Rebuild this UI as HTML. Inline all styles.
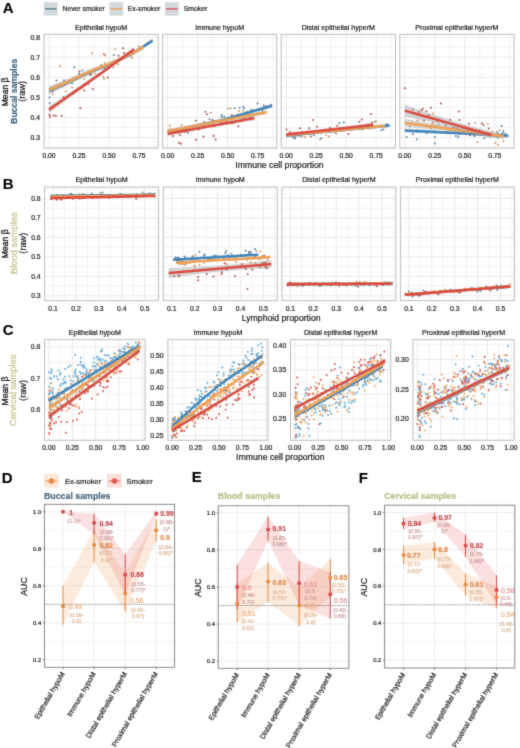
<!DOCTYPE html>
<html><head><meta charset="utf-8"><title>Smoking methylation figure</title>
<style>html,body{margin:0;padding:0;background:#fff;}svg{display:block;}</style>
</head><body>
<svg width="520" height="748" viewBox="0 0 520 748" font-family="'Liberation Sans', Arial, Helvetica, sans-serif">
<defs><filter id="soft" filterUnits="userSpaceOnUse" x="-4" y="-4" width="528" height="756" color-interpolation-filters="sRGB"><feConvolveMatrix order="3" kernelMatrix="0.0192 0.1001 0.0192 0.1001 0.5228 0.1001 0.0192 0.1001 0.0192" edgeMode="duplicate" preserveAlpha="true"/></filter></defs>
<rect width="520" height="748" fill="#ffffff"/>
<g filter="url(#soft)">
<rect x="-4" y="-4" width="528" height="756" fill="#ffffff"/>
<text x="2.8" y="13.1" font-size="15" text-anchor="start" font-weight="bold" fill="#000" stroke="#000" stroke-width="0.12">A</text>
<text x="2.8" y="188.6" font-size="15" text-anchor="start" font-weight="bold" fill="#000" stroke="#000" stroke-width="0.12">B</text>
<text x="2.8" y="334.6" font-size="15" text-anchor="start" font-weight="bold" fill="#000" stroke="#000" stroke-width="0.12">C</text>
<text x="1.8" y="482.9" font-size="15" text-anchor="start" font-weight="bold" fill="#000" stroke="#000" stroke-width="0.12">D</text>
<text x="191.8" y="482" font-size="15" text-anchor="start" font-weight="bold" fill="#000" stroke="#000" stroke-width="0.12">E</text>
<text x="358.8" y="482.7" font-size="15" text-anchor="start" font-weight="bold" fill="#000" stroke="#000" stroke-width="0.12">F</text>
<rect x="43.8" y="2.1" width="13.8" height="13.6" fill="#d3dadd" stroke="none" stroke-width="1"/>
<line x1="45" y1="8.9" x2="56.4" y2="8.9" stroke="#56788a" stroke-width="1.4"/>
<text x="62.5" y="11.3" font-size="6.8" text-anchor="start" font-weight="normal" fill="#222" stroke="#222" stroke-width="0.2">Never smoker</text>
<rect x="109.4" y="2.1" width="13.8" height="13.6" fill="#d3dadd" stroke="none" stroke-width="1"/>
<line x1="110.6" y1="8.9" x2="122" y2="8.9" stroke="#ea9a55" stroke-width="1.4"/>
<text x="127.8" y="11.3" font-size="6.8" text-anchor="start" font-weight="normal" fill="#222" stroke="#222" stroke-width="0.2">Ex-smoker</text>
<rect x="165" y="2.1" width="13.8" height="13.6" fill="#d3dadd" stroke="none" stroke-width="1"/>
<line x1="166.2" y1="8.9" x2="177.6" y2="8.9" stroke="#e0505a" stroke-width="1.4"/>
<text x="183.8" y="11.3" font-size="6.8" text-anchor="start" font-weight="normal" fill="#222" stroke="#222" stroke-width="0.2">Smoker</text>
<line x1="64" y1="34.3" x2="64" y2="148.1" stroke="#f1f1f1" stroke-width="0.9"/>
<line x1="94" y1="34.3" x2="94" y2="148.1" stroke="#f1f1f1" stroke-width="0.9"/>
<line x1="124" y1="34.3" x2="124" y2="148.1" stroke="#f1f1f1" stroke-width="0.9"/>
<line x1="154" y1="34.3" x2="154" y2="148.1" stroke="#f1f1f1" stroke-width="0.9"/>
<line x1="44" y1="147.53" x2="158.2" y2="147.53" stroke="#f1f1f1" stroke-width="0.9"/>
<line x1="44" y1="127.47" x2="158.2" y2="127.47" stroke="#f1f1f1" stroke-width="0.9"/>
<line x1="44" y1="107.41" x2="158.2" y2="107.41" stroke="#f1f1f1" stroke-width="0.9"/>
<line x1="44" y1="87.35" x2="158.2" y2="87.35" stroke="#f1f1f1" stroke-width="0.9"/>
<line x1="44" y1="67.29" x2="158.2" y2="67.29" stroke="#f1f1f1" stroke-width="0.9"/>
<line x1="44" y1="47.23" x2="158.2" y2="47.23" stroke="#f1f1f1" stroke-width="0.9"/>
<line x1="49" y1="34.3" x2="49" y2="148.1" stroke="#e8e8e8" stroke-width="0.9"/>
<line x1="79" y1="34.3" x2="79" y2="148.1" stroke="#e8e8e8" stroke-width="0.9"/>
<line x1="109" y1="34.3" x2="109" y2="148.1" stroke="#e8e8e8" stroke-width="0.9"/>
<line x1="139" y1="34.3" x2="139" y2="148.1" stroke="#e8e8e8" stroke-width="0.9"/>
<line x1="44" y1="137.5" x2="158.2" y2="137.5" stroke="#e8e8e8" stroke-width="0.9"/>
<line x1="44" y1="117.44" x2="158.2" y2="117.44" stroke="#e8e8e8" stroke-width="0.9"/>
<line x1="44" y1="97.38" x2="158.2" y2="97.38" stroke="#e8e8e8" stroke-width="0.9"/>
<line x1="44" y1="77.32" x2="158.2" y2="77.32" stroke="#e8e8e8" stroke-width="0.9"/>
<line x1="44" y1="57.26" x2="158.2" y2="57.26" stroke="#e8e8e8" stroke-width="0.9"/>
<line x1="44" y1="37.2" x2="158.2" y2="37.2" stroke="#e8e8e8" stroke-width="0.9"/>
<text x="101.1" y="29.9" font-size="7.1" text-anchor="middle" font-weight="normal" fill="#1a1a1a" stroke="#1a1a1a" stroke-width="0.2">Epithelial hypoM</text>
<text x="49" y="158.4" font-size="6.8" text-anchor="middle" font-weight="normal" fill="#1e1e1e" stroke="#1e1e1e" stroke-width="0.2">0.00</text>
<text x="79" y="158.4" font-size="6.8" text-anchor="middle" font-weight="normal" fill="#1e1e1e" stroke="#1e1e1e" stroke-width="0.2">0.25</text>
<text x="109" y="158.4" font-size="6.8" text-anchor="middle" font-weight="normal" fill="#1e1e1e" stroke="#1e1e1e" stroke-width="0.2">0.50</text>
<text x="139" y="158.4" font-size="6.8" text-anchor="middle" font-weight="normal" fill="#1e1e1e" stroke="#1e1e1e" stroke-width="0.2">0.75</text>
<line x1="182.6" y1="34.3" x2="182.6" y2="148.1" stroke="#f1f1f1" stroke-width="0.9"/>
<line x1="212.6" y1="34.3" x2="212.6" y2="148.1" stroke="#f1f1f1" stroke-width="0.9"/>
<line x1="242.6" y1="34.3" x2="242.6" y2="148.1" stroke="#f1f1f1" stroke-width="0.9"/>
<line x1="272.6" y1="34.3" x2="272.6" y2="148.1" stroke="#f1f1f1" stroke-width="0.9"/>
<line x1="162.6" y1="147.53" x2="276.8" y2="147.53" stroke="#f1f1f1" stroke-width="0.9"/>
<line x1="162.6" y1="127.47" x2="276.8" y2="127.47" stroke="#f1f1f1" stroke-width="0.9"/>
<line x1="162.6" y1="107.41" x2="276.8" y2="107.41" stroke="#f1f1f1" stroke-width="0.9"/>
<line x1="162.6" y1="87.35" x2="276.8" y2="87.35" stroke="#f1f1f1" stroke-width="0.9"/>
<line x1="162.6" y1="67.29" x2="276.8" y2="67.29" stroke="#f1f1f1" stroke-width="0.9"/>
<line x1="162.6" y1="47.23" x2="276.8" y2="47.23" stroke="#f1f1f1" stroke-width="0.9"/>
<line x1="167.6" y1="34.3" x2="167.6" y2="148.1" stroke="#e8e8e8" stroke-width="0.9"/>
<line x1="197.6" y1="34.3" x2="197.6" y2="148.1" stroke="#e8e8e8" stroke-width="0.9"/>
<line x1="227.6" y1="34.3" x2="227.6" y2="148.1" stroke="#e8e8e8" stroke-width="0.9"/>
<line x1="257.6" y1="34.3" x2="257.6" y2="148.1" stroke="#e8e8e8" stroke-width="0.9"/>
<line x1="162.6" y1="137.5" x2="276.8" y2="137.5" stroke="#e8e8e8" stroke-width="0.9"/>
<line x1="162.6" y1="117.44" x2="276.8" y2="117.44" stroke="#e8e8e8" stroke-width="0.9"/>
<line x1="162.6" y1="97.38" x2="276.8" y2="97.38" stroke="#e8e8e8" stroke-width="0.9"/>
<line x1="162.6" y1="77.32" x2="276.8" y2="77.32" stroke="#e8e8e8" stroke-width="0.9"/>
<line x1="162.6" y1="57.26" x2="276.8" y2="57.26" stroke="#e8e8e8" stroke-width="0.9"/>
<line x1="162.6" y1="37.2" x2="276.8" y2="37.2" stroke="#e8e8e8" stroke-width="0.9"/>
<text x="219.7" y="29.9" font-size="7.1" text-anchor="middle" font-weight="normal" fill="#1a1a1a" stroke="#1a1a1a" stroke-width="0.2">Immune hypoM</text>
<text x="167.6" y="158.4" font-size="6.8" text-anchor="middle" font-weight="normal" fill="#1e1e1e" stroke="#1e1e1e" stroke-width="0.2">0.00</text>
<text x="197.6" y="158.4" font-size="6.8" text-anchor="middle" font-weight="normal" fill="#1e1e1e" stroke="#1e1e1e" stroke-width="0.2">0.25</text>
<text x="227.6" y="158.4" font-size="6.8" text-anchor="middle" font-weight="normal" fill="#1e1e1e" stroke="#1e1e1e" stroke-width="0.2">0.50</text>
<text x="257.6" y="158.4" font-size="6.8" text-anchor="middle" font-weight="normal" fill="#1e1e1e" stroke="#1e1e1e" stroke-width="0.2">0.75</text>
<line x1="301.2" y1="34.3" x2="301.2" y2="148.1" stroke="#f1f1f1" stroke-width="0.9"/>
<line x1="331.2" y1="34.3" x2="331.2" y2="148.1" stroke="#f1f1f1" stroke-width="0.9"/>
<line x1="361.2" y1="34.3" x2="361.2" y2="148.1" stroke="#f1f1f1" stroke-width="0.9"/>
<line x1="391.2" y1="34.3" x2="391.2" y2="148.1" stroke="#f1f1f1" stroke-width="0.9"/>
<line x1="281.2" y1="147.53" x2="395.4" y2="147.53" stroke="#f1f1f1" stroke-width="0.9"/>
<line x1="281.2" y1="127.47" x2="395.4" y2="127.47" stroke="#f1f1f1" stroke-width="0.9"/>
<line x1="281.2" y1="107.41" x2="395.4" y2="107.41" stroke="#f1f1f1" stroke-width="0.9"/>
<line x1="281.2" y1="87.35" x2="395.4" y2="87.35" stroke="#f1f1f1" stroke-width="0.9"/>
<line x1="281.2" y1="67.29" x2="395.4" y2="67.29" stroke="#f1f1f1" stroke-width="0.9"/>
<line x1="281.2" y1="47.23" x2="395.4" y2="47.23" stroke="#f1f1f1" stroke-width="0.9"/>
<line x1="286.2" y1="34.3" x2="286.2" y2="148.1" stroke="#e8e8e8" stroke-width="0.9"/>
<line x1="316.2" y1="34.3" x2="316.2" y2="148.1" stroke="#e8e8e8" stroke-width="0.9"/>
<line x1="346.2" y1="34.3" x2="346.2" y2="148.1" stroke="#e8e8e8" stroke-width="0.9"/>
<line x1="376.2" y1="34.3" x2="376.2" y2="148.1" stroke="#e8e8e8" stroke-width="0.9"/>
<line x1="281.2" y1="137.5" x2="395.4" y2="137.5" stroke="#e8e8e8" stroke-width="0.9"/>
<line x1="281.2" y1="117.44" x2="395.4" y2="117.44" stroke="#e8e8e8" stroke-width="0.9"/>
<line x1="281.2" y1="97.38" x2="395.4" y2="97.38" stroke="#e8e8e8" stroke-width="0.9"/>
<line x1="281.2" y1="77.32" x2="395.4" y2="77.32" stroke="#e8e8e8" stroke-width="0.9"/>
<line x1="281.2" y1="57.26" x2="395.4" y2="57.26" stroke="#e8e8e8" stroke-width="0.9"/>
<line x1="281.2" y1="37.2" x2="395.4" y2="37.2" stroke="#e8e8e8" stroke-width="0.9"/>
<text x="338.3" y="29.9" font-size="7.1" text-anchor="middle" font-weight="normal" fill="#1a1a1a" stroke="#1a1a1a" stroke-width="0.2">Distal epithelial hyperM</text>
<text x="286.2" y="158.4" font-size="6.8" text-anchor="middle" font-weight="normal" fill="#1e1e1e" stroke="#1e1e1e" stroke-width="0.2">0.00</text>
<text x="316.2" y="158.4" font-size="6.8" text-anchor="middle" font-weight="normal" fill="#1e1e1e" stroke="#1e1e1e" stroke-width="0.2">0.25</text>
<text x="346.2" y="158.4" font-size="6.8" text-anchor="middle" font-weight="normal" fill="#1e1e1e" stroke="#1e1e1e" stroke-width="0.2">0.50</text>
<text x="376.2" y="158.4" font-size="6.8" text-anchor="middle" font-weight="normal" fill="#1e1e1e" stroke="#1e1e1e" stroke-width="0.2">0.75</text>
<line x1="419.8" y1="34.3" x2="419.8" y2="148.1" stroke="#f1f1f1" stroke-width="0.9"/>
<line x1="449.8" y1="34.3" x2="449.8" y2="148.1" stroke="#f1f1f1" stroke-width="0.9"/>
<line x1="479.8" y1="34.3" x2="479.8" y2="148.1" stroke="#f1f1f1" stroke-width="0.9"/>
<line x1="509.8" y1="34.3" x2="509.8" y2="148.1" stroke="#f1f1f1" stroke-width="0.9"/>
<line x1="399.8" y1="147.53" x2="514" y2="147.53" stroke="#f1f1f1" stroke-width="0.9"/>
<line x1="399.8" y1="127.47" x2="514" y2="127.47" stroke="#f1f1f1" stroke-width="0.9"/>
<line x1="399.8" y1="107.41" x2="514" y2="107.41" stroke="#f1f1f1" stroke-width="0.9"/>
<line x1="399.8" y1="87.35" x2="514" y2="87.35" stroke="#f1f1f1" stroke-width="0.9"/>
<line x1="399.8" y1="67.29" x2="514" y2="67.29" stroke="#f1f1f1" stroke-width="0.9"/>
<line x1="399.8" y1="47.23" x2="514" y2="47.23" stroke="#f1f1f1" stroke-width="0.9"/>
<line x1="404.8" y1="34.3" x2="404.8" y2="148.1" stroke="#e8e8e8" stroke-width="0.9"/>
<line x1="434.8" y1="34.3" x2="434.8" y2="148.1" stroke="#e8e8e8" stroke-width="0.9"/>
<line x1="464.8" y1="34.3" x2="464.8" y2="148.1" stroke="#e8e8e8" stroke-width="0.9"/>
<line x1="494.8" y1="34.3" x2="494.8" y2="148.1" stroke="#e8e8e8" stroke-width="0.9"/>
<line x1="399.8" y1="137.5" x2="514" y2="137.5" stroke="#e8e8e8" stroke-width="0.9"/>
<line x1="399.8" y1="117.44" x2="514" y2="117.44" stroke="#e8e8e8" stroke-width="0.9"/>
<line x1="399.8" y1="97.38" x2="514" y2="97.38" stroke="#e8e8e8" stroke-width="0.9"/>
<line x1="399.8" y1="77.32" x2="514" y2="77.32" stroke="#e8e8e8" stroke-width="0.9"/>
<line x1="399.8" y1="57.26" x2="514" y2="57.26" stroke="#e8e8e8" stroke-width="0.9"/>
<line x1="399.8" y1="37.2" x2="514" y2="37.2" stroke="#e8e8e8" stroke-width="0.9"/>
<text x="456.9" y="29.9" font-size="7.1" text-anchor="middle" font-weight="normal" fill="#1a1a1a" stroke="#1a1a1a" stroke-width="0.2">Proximal epithelial hyperM</text>
<text x="404.8" y="158.4" font-size="6.8" text-anchor="middle" font-weight="normal" fill="#1e1e1e" stroke="#1e1e1e" stroke-width="0.2">0.00</text>
<text x="434.8" y="158.4" font-size="6.8" text-anchor="middle" font-weight="normal" fill="#1e1e1e" stroke="#1e1e1e" stroke-width="0.2">0.25</text>
<text x="464.8" y="158.4" font-size="6.8" text-anchor="middle" font-weight="normal" fill="#1e1e1e" stroke="#1e1e1e" stroke-width="0.2">0.50</text>
<text x="494.8" y="158.4" font-size="6.8" text-anchor="middle" font-weight="normal" fill="#1e1e1e" stroke="#1e1e1e" stroke-width="0.2">0.75</text>
<text x="40" y="139.95" font-size="6.8" text-anchor="end" font-weight="normal" fill="#1e1e1e" stroke="#1e1e1e" stroke-width="0.2">0.3</text>
<text x="40" y="119.89" font-size="6.8" text-anchor="end" font-weight="normal" fill="#1e1e1e" stroke="#1e1e1e" stroke-width="0.2">0.4</text>
<text x="40" y="99.83" font-size="6.8" text-anchor="end" font-weight="normal" fill="#1e1e1e" stroke="#1e1e1e" stroke-width="0.2">0.5</text>
<text x="40" y="79.77" font-size="6.8" text-anchor="end" font-weight="normal" fill="#1e1e1e" stroke="#1e1e1e" stroke-width="0.2">0.6</text>
<text x="40" y="59.71" font-size="6.8" text-anchor="end" font-weight="normal" fill="#1e1e1e" stroke="#1e1e1e" stroke-width="0.2">0.7</text>
<text x="40" y="39.65" font-size="6.8" text-anchor="end" font-weight="normal" fill="#1e1e1e" stroke="#1e1e1e" stroke-width="0.2">0.8</text>
<text x="7.8" y="91.9" font-size="8.6" text-anchor="middle" font-weight="normal" fill="#111" transform="rotate(-90 7.8 91.9)" stroke="#111" stroke-width="0.3">Mean β</text>
<text x="17.1" y="91.3" font-size="8.6" text-anchor="middle" font-weight="bold" fill="#36617f" transform="rotate(-90 17.1 91.3)" stroke="#36617f" stroke-width="0.12">Buccal samples</text>
<text x="25.2" y="91.3" font-size="9.2" text-anchor="middle" font-weight="normal" fill="#1a1a1a" transform="rotate(-90 25.2 91.3)" stroke="#1a1a1a" stroke-width="0.2">(raw)</text>
<text x="279.5" y="168.3" font-size="8.7" text-anchor="middle" font-weight="normal" fill="#1a1a1a" stroke="#1a1a1a" stroke-width="0.2">Immune cell proportion</text>
<g><circle cx="113.5" cy="67.48" r="1" fill="#d29866"/><circle cx="124.05" cy="53.03" r="1" fill="#b4504e"/><circle cx="73.18" cy="93.5" r="1" fill="#b4504e"/><circle cx="138.56" cy="46.16" r="1" fill="#d29866"/><circle cx="88.23" cy="83.97" r="1" fill="#b4504e"/><circle cx="58.39" cy="85.71" r="1" fill="#5a86a4"/><circle cx="52.72" cy="94.24" r="1" fill="#d29866"/><circle cx="95.35" cy="73.4" r="1" fill="#d29866"/><circle cx="56.5" cy="80.38" r="1" fill="#5a86a4"/><circle cx="131.96" cy="57.42" r="1" fill="#d29866"/><circle cx="104.51" cy="63.09" r="1" fill="#d29866"/><circle cx="118.15" cy="64.53" r="1" fill="#d29866"/><circle cx="84.3" cy="78.92" r="1" fill="#d29866"/><circle cx="81.78" cy="87.73" r="1" fill="#b4504e"/><circle cx="118.61" cy="55.76" r="1" fill="#b4504e"/><circle cx="68.52" cy="80.55" r="1" fill="#d29866"/><circle cx="84.59" cy="84.01" r="1" fill="#b4504e"/><circle cx="100.93" cy="64.91" r="1" fill="#d29866"/><circle cx="60.19" cy="66.08" r="1" fill="#d29866"/><circle cx="132" cy="57.76" r="1" fill="#d29866"/><circle cx="113.98" cy="54.88" r="1" fill="#5a86a4"/><circle cx="115.26" cy="49.32" r="1" fill="#d29866"/><circle cx="59.99" cy="101.83" r="1" fill="#b4504e"/><circle cx="123.04" cy="48.35" r="1" fill="#b4504e"/><circle cx="63.28" cy="97.34" r="1" fill="#b4504e"/><circle cx="103.97" cy="78.92" r="1" fill="#d29866"/><circle cx="104.5" cy="67.81" r="1" fill="#5a86a4"/><circle cx="93.94" cy="71.2" r="1" fill="#d29866"/><circle cx="91.96" cy="74.54" r="1" fill="#d29866"/><circle cx="63.94" cy="80.39" r="1" fill="#5a86a4"/><circle cx="84.28" cy="90.54" r="1" fill="#b4504e"/><circle cx="115.5" cy="63.22" r="1" fill="#d29866"/><circle cx="90.08" cy="74.77" r="1" fill="#5a86a4"/><circle cx="82.54" cy="70.5" r="1" fill="#5a86a4"/><circle cx="79.48" cy="71.43" r="1" fill="#b4504e"/><circle cx="107.66" cy="77.48" r="1" fill="#b4504e"/><circle cx="72.14" cy="87.43" r="1" fill="#d29866"/><circle cx="72.12" cy="83.19" r="1" fill="#5a86a4"/><circle cx="78.99" cy="73.81" r="1" fill="#5a86a4"/><circle cx="103.32" cy="76.64" r="1" fill="#d29866"/><circle cx="66.13" cy="91.37" r="1" fill="#d29866"/><circle cx="52.88" cy="91.15" r="1" fill="#5a86a4"/><circle cx="133.52" cy="49.45" r="1" fill="#5a86a4"/><circle cx="101.55" cy="66.06" r="1" fill="#5a86a4"/><circle cx="61.82" cy="115.79" r="1" fill="#b4504e"/><circle cx="114.27" cy="61.57" r="1" fill="#b4504e"/><circle cx="105.35" cy="55.48" r="1" fill="#d29866"/><circle cx="92.96" cy="69.63" r="1" fill="#5a86a4"/><circle cx="53.59" cy="115.55" r="1" fill="#b4504e"/><circle cx="90.2" cy="74.34" r="1" fill="#b4504e"/><circle cx="80.37" cy="108.18" r="1" fill="#b4504e"/><circle cx="88.64" cy="71.83" r="1" fill="#d29866"/><circle cx="103.98" cy="54.31" r="1" fill="#b4504e"/><circle cx="99.05" cy="74.64" r="1" fill="#b4504e"/><circle cx="55.85" cy="115.67" r="1" fill="#b4504e"/><circle cx="63.97" cy="98.44" r="1" fill="#b4504e"/><circle cx="92.8" cy="89.05" r="1" fill="#b4504e"/></g>
<polygon points="49,87.55 53.31,85.84 57.63,84.11 61.95,82.37 66.26,80.62 70.58,78.74 74.89,76.85 79.21,74.95 83.52,73.04 87.84,71.12 92.15,69.46 96.47,67.8 100.78,66.12 105.09,64.43 109.41,62.73 113.73,60.77 118.04,58.77 122.36,56.76 126.67,54.74 130.99,52.7 135.3,50.02 139.62,47.19 143.93,44.34 148.25,41.48 152.56,38.6 152.56,42.62 148.25,45.33 143.93,48.06 139.62,50.8 135.3,53.55 130.99,56.16 126.67,58.15 122.36,60.14 118.04,62.15 113.73,64.18 109.41,66.18 105.09,67.95 100.78,69.73 96.47,71.52 92.15,73.32 87.84,75.13 83.52,77.23 79.21,79.34 74.89,81.47 70.58,83.6 66.26,85.74 61.95,87.79 57.63,89.84 53.31,91.9 49,93.97" fill="#999999" fill-opacity="0.4"/>
<polyline points="49,90.76 53.31,88.87 57.63,86.97 61.95,85.08 66.26,83.18 70.58,81.17 74.89,79.16 79.21,77.15 83.52,75.14 87.84,73.13 92.15,71.39 96.47,69.66 100.78,67.92 105.09,66.19 109.41,64.45 113.73,62.47 118.04,60.46 122.36,58.45 126.67,56.44 130.99,54.43 135.3,51.78 139.62,48.99 143.93,46.2 148.25,43.4 152.56,40.61" fill="none" stroke="#3f86bd" stroke-width="2.5" stroke-linejoin="round" stroke-linecap="butt"/>
<polygon points="49,85.95 52.95,84.49 56.9,83.01 60.85,81.53 64.8,80.03 68.75,78.38 72.7,76.66 76.65,74.92 80.6,73.18 84.55,71.42 88.5,69.69 92.45,68.23 96.4,66.75 100.35,65.26 104.3,63.75 108.25,62.24 112.2,60.55 116.15,58.75 120.1,56.94 124.05,55.11 128,53.27 131.95,51.39 135.9,49.08 139.85,46.76 143.8,44.42 143.8,49.24 139.85,51.39 135.9,53.55 131.95,55.73 128,57.5 124.05,59.27 120.1,61.05 116.15,62.84 112.2,64.65 108.25,66.37 104.3,67.96 100.35,69.55 96.4,71.16 92.45,72.79 88.5,74.43 84.55,76.36 80.6,78.35 76.65,80.35 72.7,82.37 68.75,84.41 64.8,86.4 60.85,88.27 56.9,90.16 52.95,92.06 49,93.97" fill="#999999" fill-opacity="0.4"/>
<polyline points="49,89.96 52.95,88.27 56.9,86.59 60.85,84.9 64.8,83.21 68.75,81.39 72.7,79.52 76.65,77.64 80.6,75.76 84.55,73.89 88.5,72.06 92.45,70.51 96.4,68.96 100.35,67.41 104.3,65.86 108.25,64.3 112.2,62.6 116.15,60.8 120.1,58.99 124.05,57.19 128,55.38 131.95,53.56 135.9,51.32 139.85,49.07 143.8,46.83" fill="none" stroke="#f0a052" stroke-width="2.5" stroke-linejoin="round" stroke-linecap="butt"/>
<polygon points="49,106.01 52.54,103.73 56.08,101.45 59.62,99.15 63.16,96.85 66.7,94.52 70.24,92.19 73.78,89.84 77.32,87.48 80.86,85.11 84.4,82.73 87.94,80.33 91.48,77.86 95.02,75.39 98.56,72.89 102.1,70.39 105.64,67.88 109.18,65.35 112.72,62.77 116.26,60.18 119.8,57.58 123.34,54.96 126.88,52.33 130.42,49.68 133.96,47.03 133.96,51.84 130.42,54.31 126.88,56.79 123.34,59.28 119.8,61.79 116.26,64.31 112.72,66.84 109.18,69.37 105.64,71.89 102.1,74.42 98.56,76.96 95.02,79.51 91.48,82.08 87.94,84.66 84.4,87.19 80.86,89.74 77.32,92.3 73.78,94.87 70.24,97.46 66.7,100.05 63.16,102.66 59.62,105.28 56.08,107.92 52.54,110.57 49,113.23" fill="#999999" fill-opacity="0.4"/>
<polyline points="49,109.62 52.54,107.15 56.08,104.69 59.62,102.22 63.16,99.75 66.7,97.29 70.24,94.82 73.78,92.36 77.32,89.89 80.86,87.43 84.4,84.96 87.94,82.49 91.48,79.97 95.02,77.45 98.56,74.93 102.1,72.4 105.64,69.88 109.18,67.36 112.72,64.8 116.26,62.24 119.8,59.68 123.34,57.12 126.88,54.56 130.42,52 133.96,49.44" fill="none" stroke="#dc4a3e" stroke-width="2.5" stroke-linejoin="round" stroke-linecap="butt"/>
<g><circle cx="49.48" cy="97.58" r="1" fill="#5a86a4"/><circle cx="49.72" cy="103" r="1" fill="#5a86a4"/><circle cx="49.48" cy="115.03" r="1" fill="#b4504e"/><circle cx="50.2" cy="117.04" r="1" fill="#b4504e"/><circle cx="74.2" cy="67.29" r="1" fill="#5a86a4"/><circle cx="92.2" cy="53.25" r="1" fill="#d29866"/></g>
<rect x="44" y="34.3" width="114.2" height="113.8" fill="none" stroke="#bdbdbd" stroke-width="1"/>
<g><circle cx="241.8" cy="119.18" r="1" fill="#d29866"/><circle cx="239.73" cy="107.82" r="1" fill="#5a86a4"/><circle cx="209.48" cy="119.32" r="1" fill="#5a86a4"/><circle cx="262.53" cy="110.74" r="1" fill="#5a86a4"/><circle cx="221.31" cy="122.51" r="1" fill="#b4504e"/><circle cx="183.33" cy="130.3" r="1" fill="#d29866"/><circle cx="239.06" cy="111.09" r="1" fill="#d29866"/><circle cx="228.02" cy="108.46" r="1" fill="#d29866"/><circle cx="204.13" cy="121.92" r="1" fill="#5a86a4"/><circle cx="221.57" cy="116.82" r="1" fill="#5a86a4"/><circle cx="243.18" cy="106.51" r="1" fill="#5a86a4"/><circle cx="205.41" cy="111.8" r="1" fill="#5a86a4"/><circle cx="231.27" cy="117.55" r="1" fill="#d29866"/><circle cx="226.8" cy="121.6" r="1" fill="#b4504e"/><circle cx="212.43" cy="119.95" r="1" fill="#b4504e"/><circle cx="169.72" cy="125.61" r="1" fill="#d29866"/><circle cx="246.86" cy="111.77" r="1" fill="#5a86a4"/><circle cx="231.8" cy="115.06" r="1" fill="#b4504e"/><circle cx="244.23" cy="118.75" r="1" fill="#b4504e"/><circle cx="246.74" cy="116.29" r="1" fill="#d29866"/><circle cx="181.39" cy="125.28" r="1" fill="#d29866"/><circle cx="172.88" cy="136.06" r="1" fill="#b4504e"/><circle cx="265.14" cy="107.59" r="1" fill="#d29866"/><circle cx="221.78" cy="114.95" r="1" fill="#5a86a4"/><circle cx="254.12" cy="114.84" r="1" fill="#d29866"/><circle cx="176.08" cy="130.69" r="1" fill="#b4504e"/><circle cx="198.76" cy="129.43" r="1" fill="#5a86a4"/><circle cx="206.83" cy="114.17" r="1" fill="#b4504e"/><circle cx="260.41" cy="109.86" r="1" fill="#d29866"/><circle cx="271.03" cy="104.7" r="1" fill="#5a86a4"/><circle cx="172.53" cy="132.35" r="1" fill="#b4504e"/><circle cx="178.95" cy="142.74" r="1" fill="#b4504e"/><circle cx="179.88" cy="135.03" r="1" fill="#b4504e"/><circle cx="220.4" cy="123.69" r="1" fill="#b4504e"/><circle cx="201.66" cy="124.44" r="1" fill="#d29866"/><circle cx="250" cy="117.35" r="1" fill="#5a86a4"/><circle cx="238.31" cy="126.29" r="1" fill="#b4504e"/><circle cx="178.28" cy="129.75" r="1" fill="#5a86a4"/><circle cx="244" cy="108.29" r="1" fill="#5a86a4"/><circle cx="243.2" cy="110.85" r="1" fill="#d29866"/><circle cx="210.56" cy="112.84" r="1" fill="#d29866"/><circle cx="213.65" cy="135.83" r="1" fill="#b4504e"/><circle cx="170.37" cy="129.37" r="1" fill="#d29866"/><circle cx="234.8" cy="108.33" r="1" fill="#5a86a4"/><circle cx="214.14" cy="125.13" r="1" fill="#d29866"/><circle cx="180.77" cy="143.68" r="1" fill="#b4504e"/><circle cx="206.07" cy="125.89" r="1" fill="#d29866"/><circle cx="224.2" cy="116.7" r="1" fill="#5a86a4"/><circle cx="238.04" cy="114.28" r="1" fill="#d29866"/><circle cx="220.14" cy="125.08" r="1" fill="#5a86a4"/><circle cx="195.85" cy="120.63" r="1" fill="#b4504e"/><circle cx="251.56" cy="109.87" r="1" fill="#5a86a4"/><circle cx="184.9" cy="132.1" r="1" fill="#b4504e"/><circle cx="230.85" cy="122.7" r="1" fill="#5a86a4"/><circle cx="213.67" cy="121.06" r="1" fill="#d29866"/><circle cx="195.88" cy="139.69" r="1" fill="#b4504e"/><circle cx="187.84" cy="132.89" r="1" fill="#5a86a4"/><circle cx="173.1" cy="130.66" r="1" fill="#b4504e"/><circle cx="213.45" cy="122.34" r="1" fill="#d29866"/><circle cx="234.97" cy="122.39" r="1" fill="#b4504e"/><circle cx="232.53" cy="123.76" r="1" fill="#d29866"/><circle cx="265.92" cy="105.75" r="1" fill="#d29866"/><circle cx="230.55" cy="108.61" r="1" fill="#d29866"/><circle cx="214.56" cy="126.39" r="1" fill="#d29866"/></g>
<polygon points="167.6,129.68 171.95,128.83 176.31,127.99 180.66,127.13 185.02,126.27 189.38,125.4 193.73,124.52 198.08,123.64 202.44,122.75 206.79,121.85 211.15,120.94 215.5,120.03 219.86,119.11 224.22,117.99 228.57,116.74 232.92,115.47 237.28,114.21 241.63,112.93 245.99,111.65 250.34,110.36 254.7,109.06 259.06,107.75 263.41,106.44 267.76,105.12 272.12,103.8 272.12,107.81 267.76,108.98 263.41,110.15 259.06,111.33 254.7,112.51 250.34,113.71 245.99,114.91 241.63,116.11 237.28,117.33 232.92,118.55 228.57,119.77 224.22,121.01 219.86,122.12 215.5,123.05 211.15,123.98 206.79,124.92 202.44,125.87 198.08,126.82 193.73,127.78 189.38,128.75 185.02,129.72 180.66,130.7 176.31,131.69 171.95,132.69 167.6,133.69" fill="#999999" fill-opacity="0.4"/>
<polyline points="167.6,131.68 171.95,130.76 176.31,129.84 180.66,128.92 185.02,127.99 189.38,127.07 193.73,126.15 198.08,125.23 202.44,124.31 206.79,123.38 211.15,122.46 215.5,121.54 219.86,120.62 224.22,119.5 228.57,118.26 232.92,117.01 237.28,115.77 241.63,114.52 245.99,113.28 250.34,112.03 254.7,110.79 259.06,109.54 263.41,108.3 267.76,107.05 272.12,105.81" fill="none" stroke="#3f86bd" stroke-width="2.5" stroke-linejoin="round" stroke-linecap="butt"/>
<polygon points="167.6,129.28 171.72,128.54 175.85,127.8 179.97,127.06 184.1,126.31 188.22,125.55 192.35,124.78 196.47,124 200.6,123.22 204.72,122.44 208.85,121.64 212.97,120.84 217.1,120.03 221.22,119.22 225.35,118.43 229.47,117.64 233.6,116.84 237.72,116.04 241.85,115.23 245.97,114.41 250.1,113.59 254.22,112.75 258.35,111.92 262.47,111.07 266.6,110.22 266.6,114.23 262.47,114.92 258.35,115.62 254.22,116.33 250.1,117.04 245.97,117.76 241.85,118.49 237.72,119.22 233.6,119.96 229.47,120.71 225.35,121.47 221.22,122.23 217.1,123.04 212.97,123.86 208.85,124.68 204.72,125.51 200.6,126.34 196.47,127.19 192.35,128.04 188.22,128.9 184.1,129.76 179.97,130.63 175.85,131.51 171.72,132.4 167.6,133.29" fill="#999999" fill-opacity="0.4"/>
<polyline points="167.6,131.28 171.72,130.47 175.85,129.66 179.97,128.84 184.1,128.03 188.22,127.22 192.35,126.41 196.47,125.6 200.6,124.78 204.72,123.97 208.85,123.16 212.97,122.35 217.1,121.54 221.22,120.72 225.35,119.95 229.47,119.18 233.6,118.4 237.72,117.63 241.85,116.86 245.97,116.09 250.1,115.31 254.22,114.54 258.35,113.77 262.47,113 266.6,112.22" fill="none" stroke="#f0a052" stroke-width="2.5" stroke-linejoin="round" stroke-linecap="butt"/>
<polygon points="167.6,131.88 171.22,131.3 174.83,130.71 178.44,130.12 182.06,129.51 185.67,128.9 189.29,128.27 192.91,127.64 196.52,127 200.13,126.35 203.75,125.7 207.37,125.03 210.98,124.36 214.59,123.68 218.21,122.99 221.82,122.29 225.44,121.59 229.06,120.87 232.67,120.15 236.28,119.42 239.9,118.68 243.51,117.93 247.13,117.17 250.74,116.41 254.36,115.63 254.36,120.45 250.74,121 247.13,121.55 243.51,122.12 239.9,122.69 236.28,123.27 232.67,123.86 229.06,124.46 225.44,125.06 221.82,125.68 218.21,126.3 214.59,126.93 210.98,127.57 207.37,128.22 203.75,128.87 200.13,129.54 196.52,130.21 192.91,130.89 189.29,131.58 185.67,132.28 182.06,132.99 178.44,133.7 174.83,134.42 171.22,135.16 167.6,135.9" fill="#999999" fill-opacity="0.4"/>
<polyline points="167.6,133.89 171.22,133.23 174.83,132.57 178.44,131.91 182.06,131.25 185.67,130.59 189.29,129.93 192.91,129.27 196.52,128.61 200.13,127.95 203.75,127.29 207.37,126.63 210.98,125.97 214.59,125.31 218.21,124.64 221.82,123.98 225.44,123.32 229.06,122.66 232.67,122 236.28,121.34 239.9,120.68 243.51,120.02 247.13,119.36 250.74,118.7 254.36,118.04" fill="none" stroke="#dc4a3e" stroke-width="2.5" stroke-linejoin="round" stroke-linecap="butt"/>
<g><circle cx="203.6" cy="136.5" r="1" fill="#b4504e"/><circle cx="215.6" cy="139.51" r="1" fill="#b4504e"/><circle cx="263.6" cy="105.4" r="1" fill="#5a86a4"/><circle cx="257.6" cy="103.4" r="1" fill="#5a86a4"/></g>
<rect x="162.6" y="34.3" width="114.2" height="113.8" fill="none" stroke="#bdbdbd" stroke-width="1"/>
<g><circle cx="362.68" cy="129.04" r="1" fill="#b4504e"/><circle cx="290.3" cy="133.94" r="1" fill="#5a86a4"/><circle cx="325.02" cy="131.42" r="1" fill="#d29866"/><circle cx="299.91" cy="128.26" r="1" fill="#b4504e"/><circle cx="307.27" cy="133.47" r="1" fill="#b4504e"/><circle cx="332.24" cy="129.37" r="1" fill="#b4504e"/><circle cx="294.86" cy="138.62" r="1" fill="#5a86a4"/><circle cx="288.16" cy="135.35" r="1" fill="#b4504e"/><circle cx="383.26" cy="129.45" r="1" fill="#5a86a4"/><circle cx="366.78" cy="127.91" r="1" fill="#5a86a4"/><circle cx="316.32" cy="132.28" r="1" fill="#d29866"/><circle cx="293.69" cy="137.69" r="1" fill="#5a86a4"/><circle cx="317.22" cy="126.73" r="1" fill="#b4504e"/><circle cx="297.01" cy="134.61" r="1" fill="#d29866"/><circle cx="292.15" cy="136.23" r="1" fill="#5a86a4"/><circle cx="321.28" cy="138.29" r="1" fill="#5a86a4"/><circle cx="326.17" cy="135.32" r="1" fill="#d29866"/><circle cx="367.08" cy="128.1" r="1" fill="#d29866"/><circle cx="310.93" cy="132.49" r="1" fill="#d29866"/><circle cx="368.4" cy="128.52" r="1" fill="#d29866"/><circle cx="333.14" cy="128.78" r="1" fill="#5a86a4"/><circle cx="301.65" cy="136.14" r="1" fill="#5a86a4"/><circle cx="317.01" cy="131.76" r="1" fill="#d29866"/><circle cx="333.09" cy="129.6" r="1" fill="#d29866"/><circle cx="328.88" cy="136.54" r="1" fill="#d29866"/><circle cx="339.19" cy="122.96" r="1" fill="#5a86a4"/><circle cx="302.14" cy="131.98" r="1" fill="#d29866"/><circle cx="337.15" cy="125.82" r="1" fill="#b4504e"/><circle cx="313.91" cy="135.06" r="1" fill="#5a86a4"/><circle cx="359.37" cy="128.37" r="1" fill="#d29866"/><circle cx="287.72" cy="135.53" r="1" fill="#d29866"/><circle cx="303.77" cy="133.92" r="1" fill="#d29866"/><circle cx="380.48" cy="125.46" r="1" fill="#5a86a4"/><circle cx="335.59" cy="132.9" r="1" fill="#d29866"/><circle cx="313.13" cy="120.06" r="1" fill="#b4504e"/><circle cx="289.83" cy="131.71" r="1" fill="#b4504e"/><circle cx="327.49" cy="129.89" r="1" fill="#b4504e"/><circle cx="329.88" cy="129.91" r="1" fill="#5a86a4"/><circle cx="374.77" cy="121.82" r="1" fill="#5a86a4"/><circle cx="293.18" cy="134.13" r="1" fill="#d29866"/><circle cx="367.75" cy="124.43" r="1" fill="#5a86a4"/><circle cx="320.52" cy="130.62" r="1" fill="#d29866"/><circle cx="286.63" cy="129.46" r="1" fill="#b4504e"/><circle cx="320.05" cy="139.44" r="1" fill="#d29866"/><circle cx="381.28" cy="130.23" r="1" fill="#5a86a4"/><circle cx="329.94" cy="128.06" r="1" fill="#b4504e"/><circle cx="324.99" cy="131.14" r="1" fill="#b4504e"/><circle cx="348.49" cy="134.06" r="1" fill="#b4504e"/><circle cx="304.91" cy="137.04" r="1" fill="#d29866"/><circle cx="359.39" cy="121.87" r="1" fill="#b4504e"/><circle cx="336.24" cy="133.56" r="1" fill="#d29866"/><circle cx="370.82" cy="113.89" r="1" fill="#b4504e"/><circle cx="309.18" cy="128.18" r="1" fill="#b4504e"/><circle cx="386.71" cy="124.01" r="1" fill="#5a86a4"/><circle cx="371.87" cy="122.5" r="1" fill="#b4504e"/><circle cx="310.73" cy="136.56" r="1" fill="#b4504e"/><circle cx="294.54" cy="132.82" r="1" fill="#d29866"/><circle cx="333.8" cy="128.82" r="1" fill="#b4504e"/><circle cx="298.96" cy="136.12" r="1" fill="#d29866"/><circle cx="295.45" cy="136.65" r="1" fill="#5a86a4"/></g>
<polygon points="286.2,134.09 290.51,133.73 294.82,133.36 299.13,132.99 303.44,132.61 307.75,132.22 312.06,131.83 316.37,131.44 320.68,131.04 324.99,130.63 329.3,130.22 333.61,129.8 337.92,129.38 342.23,128.95 346.54,128.51 350.85,128.07 355.16,127.63 359.47,127.17 363.78,126.72 368.09,126.26 372.4,125.79 376.71,125.31 381.02,124.83 385.33,124.35 389.64,123.86 389.64,127.07 385.33,127.43 381.02,127.8 376.71,128.17 372.4,128.55 368.09,128.94 363.78,129.33 359.47,129.72 355.16,130.12 350.85,130.53 346.54,130.94 342.23,131.36 337.92,131.78 333.61,132.21 329.3,132.65 324.99,133.09 320.68,133.53 316.37,133.98 312.06,134.44 307.75,134.9 303.44,135.37 299.13,135.85 294.82,136.32 290.51,136.81 286.2,137.3" fill="#999999" fill-opacity="0.4"/>
<polyline points="286.2,135.69 290.51,135.27 294.82,134.84 299.13,134.42 303.44,133.99 307.75,133.56 312.06,133.14 316.37,132.71 320.68,132.28 324.99,131.86 329.3,131.43 333.61,131.01 337.92,130.58 342.23,130.15 346.54,129.73 350.85,129.3 355.16,128.87 359.47,128.45 363.78,128.02 368.09,127.6 372.4,127.17 376.71,126.74 381.02,126.32 385.33,125.89 389.64,125.46" fill="none" stroke="#3f86bd" stroke-width="2.5" stroke-linejoin="round" stroke-linecap="butt"/>
<polygon points="286.2,133.69 290.31,133.36 294.43,133.03 298.54,132.69 302.66,132.34 306.77,131.99 310.89,131.63 315,131.27 319.12,130.9 323.24,130.53 327.35,130.15 331.46,129.77 335.58,129.38 339.69,128.98 343.81,128.58 347.92,128.17 352.04,127.76 356.15,127.34 360.27,126.92 364.38,126.49 368.5,126.05 372.62,125.61 376.73,125.17 380.84,124.72 384.96,124.26 384.96,127.47 380.84,127.8 376.73,128.13 372.62,128.47 368.5,128.82 364.38,129.17 360.27,129.53 356.15,129.89 352.04,130.26 347.92,130.63 343.81,131.01 339.69,131.39 335.58,131.78 331.46,132.18 327.35,132.58 323.24,132.99 319.12,133.4 315,133.82 310.89,134.24 306.77,134.67 302.66,135.1 298.54,135.54 294.43,135.99 290.31,136.44 286.2,136.9" fill="#999999" fill-opacity="0.4"/>
<polyline points="286.2,135.29 290.31,134.9 294.43,134.51 298.54,134.11 302.66,133.72 306.77,133.33 310.89,132.94 315,132.54 319.12,132.15 323.24,131.76 327.35,131.36 331.46,130.97 335.58,130.58 339.69,130.19 343.81,129.79 347.92,129.4 352.04,129.01 356.15,128.62 360.27,128.22 364.38,127.83 368.5,127.44 372.62,127.04 376.73,126.65 380.84,126.26 384.96,125.87" fill="none" stroke="#f0a052" stroke-width="2.5" stroke-linejoin="round" stroke-linecap="butt"/>
<polygon points="286.2,132.89 289.82,132.55 293.45,132.2 297.07,131.85 300.7,131.49 304.32,131.13 307.95,130.75 311.57,130.38 315.2,129.99 318.82,129.6 322.45,129.19 326.07,128.79 329.7,128.37 333.32,127.95 336.95,127.52 340.57,127.09 344.2,126.65 347.82,126.2 351.45,125.74 355.07,125.28 358.7,124.81 362.32,124.33 365.95,123.85 369.57,123.35 373.2,122.86 373.2,126.87 369.57,127.17 365.95,127.48 362.32,127.8 358.7,128.13 355.07,128.46 351.45,128.8 347.82,129.15 344.2,129.5 340.57,129.86 336.95,130.23 333.32,130.6 329.7,130.98 326.07,131.37 322.45,131.76 318.82,132.17 315.2,132.57 311.57,132.99 307.95,133.41 304.32,133.84 300.7,134.28 297.07,134.72 293.45,135.17 289.82,135.63 286.2,136.1" fill="#999999" fill-opacity="0.4"/>
<polyline points="286.2,134.49 289.82,134.09 293.45,133.69 297.07,133.29 300.7,132.89 304.32,132.49 307.95,132.08 311.57,131.68 315.2,131.28 318.82,130.88 322.45,130.48 326.07,130.08 329.7,129.68 333.32,129.28 336.95,128.87 340.57,128.47 344.2,128.07 347.82,127.67 351.45,127.27 355.07,126.87 358.7,126.47 362.32,126.07 365.95,125.66 369.57,125.26 373.2,124.86" fill="none" stroke="#dc4a3e" stroke-width="2.5" stroke-linejoin="round" stroke-linecap="butt"/>
<g><circle cx="361.8" cy="119.45" r="1" fill="#b4504e"/><circle cx="343.8" cy="122.46" r="1" fill="#5a86a4"/><circle cx="376.2" cy="121.45" r="1" fill="#d29866"/></g>
<rect x="281.2" y="34.3" width="114.2" height="113.8" fill="none" stroke="#bdbdbd" stroke-width="1"/>
<g><circle cx="497.66" cy="137.67" r="1" fill="#5a86a4"/><circle cx="422.84" cy="108.87" r="1" fill="#b4504e"/><circle cx="488.76" cy="128.46" r="1" fill="#b4504e"/><circle cx="438.85" cy="124.34" r="1" fill="#d29866"/><circle cx="409.7" cy="126.44" r="1" fill="#d29866"/><circle cx="475.52" cy="131.27" r="1" fill="#5a86a4"/><circle cx="458.23" cy="137.12" r="1" fill="#5a86a4"/><circle cx="417.06" cy="130.21" r="1" fill="#5a86a4"/><circle cx="449.43" cy="129.98" r="1" fill="#d29866"/><circle cx="455.39" cy="127.58" r="1" fill="#d29866"/><circle cx="492.34" cy="131.52" r="1" fill="#d29866"/><circle cx="457.42" cy="128.18" r="1" fill="#5a86a4"/><circle cx="483.43" cy="125.12" r="1" fill="#b4504e"/><circle cx="502.61" cy="132.95" r="1" fill="#5a86a4"/><circle cx="426.36" cy="111.24" r="1" fill="#b4504e"/><circle cx="425.55" cy="116.95" r="1" fill="#b4504e"/><circle cx="432.6" cy="131.78" r="1" fill="#5a86a4"/><circle cx="494.06" cy="136.41" r="1" fill="#d29866"/><circle cx="497.24" cy="132.01" r="1" fill="#5a86a4"/><circle cx="497.93" cy="144.64" r="1" fill="#d29866"/><circle cx="426.6" cy="133.32" r="1" fill="#5a86a4"/><circle cx="487.87" cy="124.12" r="1" fill="#d29866"/><circle cx="477.3" cy="142.28" r="1" fill="#d29866"/><circle cx="503.68" cy="141.1" r="1" fill="#d29866"/><circle cx="479.66" cy="130.55" r="1" fill="#b4504e"/><circle cx="412.81" cy="134.36" r="1" fill="#5a86a4"/><circle cx="455.09" cy="132.71" r="1" fill="#5a86a4"/><circle cx="496.54" cy="135.86" r="1" fill="#5a86a4"/><circle cx="501.65" cy="125.88" r="1" fill="#5a86a4"/><circle cx="503.35" cy="130.95" r="1" fill="#5a86a4"/><circle cx="481.78" cy="123.23" r="1" fill="#b4504e"/><circle cx="437.5" cy="121.17" r="1" fill="#b4504e"/><circle cx="432.04" cy="123.89" r="1" fill="#d29866"/><circle cx="459.01" cy="134.19" r="1" fill="#5a86a4"/><circle cx="433.08" cy="122.51" r="1" fill="#d29866"/><circle cx="433.13" cy="113.59" r="1" fill="#d29866"/><circle cx="474.31" cy="135.91" r="1" fill="#5a86a4"/><circle cx="416.91" cy="114.21" r="1" fill="#b4504e"/><circle cx="428.88" cy="115.27" r="1" fill="#b4504e"/><circle cx="447.18" cy="131.63" r="1" fill="#d29866"/><circle cx="436.29" cy="126.11" r="1" fill="#5a86a4"/><circle cx="430.9" cy="107.75" r="1" fill="#b4504e"/><circle cx="499.46" cy="130.3" r="1" fill="#d29866"/><circle cx="417.4" cy="120.4" r="1" fill="#d29866"/><circle cx="495.23" cy="142.99" r="1" fill="#d29866"/><circle cx="459.43" cy="120.12" r="1" fill="#b4504e"/><circle cx="468.6" cy="128.46" r="1" fill="#d29866"/><circle cx="434.89" cy="137.06" r="1" fill="#5a86a4"/><circle cx="406.61" cy="137.04" r="1" fill="#5a86a4"/><circle cx="463.53" cy="132.17" r="1" fill="#5a86a4"/><circle cx="445.77" cy="125.45" r="1" fill="#b4504e"/><circle cx="504.94" cy="133.82" r="1" fill="#5a86a4"/><circle cx="436.09" cy="126.91" r="1" fill="#d29866"/><circle cx="479.12" cy="133.25" r="1" fill="#d29866"/><circle cx="469.84" cy="135.16" r="1" fill="#b4504e"/><circle cx="443.7" cy="122.51" r="1" fill="#d29866"/><circle cx="489.5" cy="135.17" r="1" fill="#b4504e"/><circle cx="455.66" cy="133" r="1" fill="#5a86a4"/><circle cx="450.28" cy="119.67" r="1" fill="#b4504e"/><circle cx="455.89" cy="136.11" r="1" fill="#5a86a4"/><circle cx="475.39" cy="123.03" r="1" fill="#d29866"/><circle cx="487.43" cy="133.24" r="1" fill="#d29866"/><circle cx="412.7" cy="109.38" r="1" fill="#b4504e"/><circle cx="421.49" cy="109.92" r="1" fill="#b4504e"/><circle cx="453.15" cy="127.61" r="1" fill="#b4504e"/><circle cx="420.05" cy="131.4" r="1" fill="#5a86a4"/><circle cx="451.29" cy="133.11" r="1" fill="#5a86a4"/><circle cx="484.14" cy="138.32" r="1" fill="#5a86a4"/><circle cx="431.11" cy="128.22" r="1" fill="#d29866"/><circle cx="418.83" cy="111.96" r="1" fill="#b4504e"/><circle cx="423.89" cy="120.59" r="1" fill="#b4504e"/><circle cx="468.92" cy="123.8" r="1" fill="#b4504e"/></g>
<polygon points="404.8,128.47 409.11,128.77 413.42,129.06 417.73,129.34 422.04,129.62 426.35,129.89 430.66,130.15 434.97,130.41 439.28,130.66 443.59,130.9 447.9,131.13 452.21,131.36 456.52,131.58 460.83,131.8 465.14,132 469.45,132.2 473.76,132.4 478.07,132.58 482.38,132.76 486.69,132.93 491,133.1 495.31,133.26 499.62,133.41 503.93,133.55 508.24,133.69 508.24,137.7 503.93,137.4 499.62,137.11 495.31,136.83 491,136.55 486.69,136.28 482.38,136.02 478.07,135.76 473.76,135.52 469.45,135.27 465.14,135.04 460.83,134.81 456.52,134.59 452.21,134.38 447.9,134.17 443.59,133.97 439.28,133.78 434.97,133.59 430.66,133.41 426.35,133.24 422.04,133.08 417.73,132.92 413.42,132.77 409.11,132.62 404.8,132.49" fill="#999999" fill-opacity="0.4"/>
<polyline points="404.8,130.48 409.11,130.7 413.42,130.91 417.73,131.13 422.04,131.35 426.35,131.57 430.66,131.78 434.97,132 439.28,132.22 443.59,132.43 447.9,132.65 452.21,132.87 456.52,133.09 460.83,133.3 465.14,133.52 469.45,133.74 473.76,133.96 478.07,134.17 482.38,134.39 486.69,134.61 491,134.83 495.31,135.04 499.62,135.26 503.93,135.48 508.24,135.69" fill="none" stroke="#3f86bd" stroke-width="2.5" stroke-linejoin="round" stroke-linecap="butt"/>
<polygon points="404.8,118.84 408.93,119.6 413.05,120.34 417.18,121.07 421.3,121.79 425.43,122.49 429.55,123.18 433.68,123.86 437.8,124.53 441.93,125.18 446.05,125.82 450.18,126.45 454.3,127.07 458.43,127.67 462.55,128.26 466.68,128.84 470.8,129.41 474.93,129.96 479.05,130.5 483.18,131.03 487.3,131.55 491.43,132.05 495.55,132.54 499.68,133.02 503.8,133.49 503.8,139.1 499.68,138.45 495.55,137.81 491.43,137.18 487.3,136.56 483.18,135.96 479.05,135.37 474.93,134.79 470.8,134.22 466.68,133.67 462.55,133.13 458.43,132.6 454.3,132.08 450.18,131.58 446.05,131.09 441.93,130.61 437.8,130.14 433.68,129.69 429.55,129.25 425.43,128.82 421.3,128.41 417.18,128 413.05,127.61 408.93,127.23 404.8,126.87" fill="#999999" fill-opacity="0.4"/>
<polyline points="404.8,122.86 408.93,123.42 413.05,123.98 417.18,124.54 421.3,125.1 425.43,125.66 429.55,126.22 433.68,126.78 437.8,127.34 441.93,127.9 446.05,128.46 450.18,129.02 454.3,129.58 458.43,130.14 462.55,130.7 466.68,131.26 470.8,131.82 474.93,132.38 479.05,132.94 483.18,133.5 487.3,134.06 491.43,134.62 495.55,135.18 499.68,135.74 503.8,136.3" fill="none" stroke="#f0a052" stroke-width="2.5" stroke-linejoin="round" stroke-linecap="butt"/>
<polygon points="404.8,104.6 408.42,105.91 412.03,107.21 415.64,108.49 419.26,109.75 422.88,111 426.49,112.22 430.11,113.44 433.72,114.63 437.34,115.81 440.95,116.97 444.56,118.12 448.18,119.25 451.8,120.36 455.41,121.45 459.02,122.53 462.64,123.59 466.25,124.64 469.87,125.66 473.49,126.68 477.1,127.67 480.72,128.65 484.33,129.61 487.94,130.55 491.56,131.48 491.56,138.7 487.94,137.59 484.33,136.5 480.72,135.42 477.1,134.36 473.49,133.31 469.87,132.28 466.25,131.27 462.64,130.28 459.02,129.3 455.41,128.34 451.8,127.39 448.18,126.47 444.56,125.56 440.95,124.66 437.34,123.78 433.72,122.92 430.11,122.08 426.49,121.25 422.88,120.44 419.26,119.65 415.64,118.87 412.03,118.11 408.42,117.36 404.8,116.64" fill="#999999" fill-opacity="0.4"/>
<polyline points="404.8,110.62 408.42,111.64 412.03,112.66 415.64,113.68 419.26,114.7 422.88,115.72 426.49,116.74 430.11,117.76 433.72,118.78 437.34,119.8 440.95,120.82 444.56,121.84 448.18,122.86 451.8,123.88 455.41,124.9 459.02,125.92 462.64,126.94 466.25,127.95 469.87,128.97 473.49,129.99 477.1,131.01 480.72,132.03 484.33,133.05 487.94,134.07 491.56,135.09" fill="none" stroke="#dc4a3e" stroke-width="2.5" stroke-linejoin="round" stroke-linecap="butt"/>
<g><circle cx="405.16" cy="88.35" r="1" fill="#b4504e"/><circle cx="440.8" cy="103.4" r="1" fill="#b4504e"/><circle cx="458.8" cy="111.42" r="1" fill="#b4504e"/><circle cx="434.8" cy="143.52" r="1" fill="#5a86a4"/><circle cx="416.8" cy="139.51" r="1" fill="#5a86a4"/></g>
<rect x="399.8" y="34.3" width="114.2" height="113.8" fill="none" stroke="#bdbdbd" stroke-width="1"/>
<line x1="64.55" y1="187" x2="64.55" y2="300.6" stroke="#f1f1f1" stroke-width="0.9"/>
<line x1="87.45" y1="187" x2="87.45" y2="300.6" stroke="#f1f1f1" stroke-width="0.9"/>
<line x1="110.35" y1="187" x2="110.35" y2="300.6" stroke="#f1f1f1" stroke-width="0.9"/>
<line x1="133.25" y1="187" x2="133.25" y2="300.6" stroke="#f1f1f1" stroke-width="0.9"/>
<line x1="156.15" y1="187" x2="156.15" y2="300.6" stroke="#f1f1f1" stroke-width="0.9"/>
<line x1="44.6" y1="286.06" x2="158.6" y2="286.06" stroke="#f1f1f1" stroke-width="0.9"/>
<line x1="44.6" y1="266.58" x2="158.6" y2="266.58" stroke="#f1f1f1" stroke-width="0.9"/>
<line x1="44.6" y1="247.1" x2="158.6" y2="247.1" stroke="#f1f1f1" stroke-width="0.9"/>
<line x1="44.6" y1="227.62" x2="158.6" y2="227.62" stroke="#f1f1f1" stroke-width="0.9"/>
<line x1="44.6" y1="208.14" x2="158.6" y2="208.14" stroke="#f1f1f1" stroke-width="0.9"/>
<line x1="44.6" y1="188.66" x2="158.6" y2="188.66" stroke="#f1f1f1" stroke-width="0.9"/>
<line x1="53.1" y1="187" x2="53.1" y2="300.6" stroke="#e8e8e8" stroke-width="0.9"/>
<line x1="76" y1="187" x2="76" y2="300.6" stroke="#e8e8e8" stroke-width="0.9"/>
<line x1="98.9" y1="187" x2="98.9" y2="300.6" stroke="#e8e8e8" stroke-width="0.9"/>
<line x1="121.8" y1="187" x2="121.8" y2="300.6" stroke="#e8e8e8" stroke-width="0.9"/>
<line x1="144.7" y1="187" x2="144.7" y2="300.6" stroke="#e8e8e8" stroke-width="0.9"/>
<line x1="44.6" y1="295.8" x2="158.6" y2="295.8" stroke="#e8e8e8" stroke-width="0.9"/>
<line x1="44.6" y1="276.32" x2="158.6" y2="276.32" stroke="#e8e8e8" stroke-width="0.9"/>
<line x1="44.6" y1="256.84" x2="158.6" y2="256.84" stroke="#e8e8e8" stroke-width="0.9"/>
<line x1="44.6" y1="237.36" x2="158.6" y2="237.36" stroke="#e8e8e8" stroke-width="0.9"/>
<line x1="44.6" y1="217.88" x2="158.6" y2="217.88" stroke="#e8e8e8" stroke-width="0.9"/>
<line x1="44.6" y1="198.4" x2="158.6" y2="198.4" stroke="#e8e8e8" stroke-width="0.9"/>
<text x="101.6" y="182.4" font-size="7.1" text-anchor="middle" font-weight="normal" fill="#1a1a1a" stroke="#1a1a1a" stroke-width="0.2">Epithelial hypoM</text>
<text x="53.1" y="310.9" font-size="6.8" text-anchor="middle" font-weight="normal" fill="#1e1e1e" stroke="#1e1e1e" stroke-width="0.2">0.1</text>
<text x="76" y="310.9" font-size="6.8" text-anchor="middle" font-weight="normal" fill="#1e1e1e" stroke="#1e1e1e" stroke-width="0.2">0.2</text>
<text x="98.9" y="310.9" font-size="6.8" text-anchor="middle" font-weight="normal" fill="#1e1e1e" stroke="#1e1e1e" stroke-width="0.2">0.3</text>
<text x="121.8" y="310.9" font-size="6.8" text-anchor="middle" font-weight="normal" fill="#1e1e1e" stroke="#1e1e1e" stroke-width="0.2">0.4</text>
<text x="144.7" y="310.9" font-size="6.8" text-anchor="middle" font-weight="normal" fill="#1e1e1e" stroke="#1e1e1e" stroke-width="0.2">0.5</text>
<line x1="183.25" y1="187" x2="183.25" y2="300.6" stroke="#f1f1f1" stroke-width="0.9"/>
<line x1="206.15" y1="187" x2="206.15" y2="300.6" stroke="#f1f1f1" stroke-width="0.9"/>
<line x1="229.05" y1="187" x2="229.05" y2="300.6" stroke="#f1f1f1" stroke-width="0.9"/>
<line x1="251.95" y1="187" x2="251.95" y2="300.6" stroke="#f1f1f1" stroke-width="0.9"/>
<line x1="274.85" y1="187" x2="274.85" y2="300.6" stroke="#f1f1f1" stroke-width="0.9"/>
<line x1="163.3" y1="286.06" x2="277.3" y2="286.06" stroke="#f1f1f1" stroke-width="0.9"/>
<line x1="163.3" y1="266.58" x2="277.3" y2="266.58" stroke="#f1f1f1" stroke-width="0.9"/>
<line x1="163.3" y1="247.1" x2="277.3" y2="247.1" stroke="#f1f1f1" stroke-width="0.9"/>
<line x1="163.3" y1="227.62" x2="277.3" y2="227.62" stroke="#f1f1f1" stroke-width="0.9"/>
<line x1="163.3" y1="208.14" x2="277.3" y2="208.14" stroke="#f1f1f1" stroke-width="0.9"/>
<line x1="163.3" y1="188.66" x2="277.3" y2="188.66" stroke="#f1f1f1" stroke-width="0.9"/>
<line x1="171.8" y1="187" x2="171.8" y2="300.6" stroke="#e8e8e8" stroke-width="0.9"/>
<line x1="194.7" y1="187" x2="194.7" y2="300.6" stroke="#e8e8e8" stroke-width="0.9"/>
<line x1="217.6" y1="187" x2="217.6" y2="300.6" stroke="#e8e8e8" stroke-width="0.9"/>
<line x1="240.5" y1="187" x2="240.5" y2="300.6" stroke="#e8e8e8" stroke-width="0.9"/>
<line x1="263.4" y1="187" x2="263.4" y2="300.6" stroke="#e8e8e8" stroke-width="0.9"/>
<line x1="163.3" y1="295.8" x2="277.3" y2="295.8" stroke="#e8e8e8" stroke-width="0.9"/>
<line x1="163.3" y1="276.32" x2="277.3" y2="276.32" stroke="#e8e8e8" stroke-width="0.9"/>
<line x1="163.3" y1="256.84" x2="277.3" y2="256.84" stroke="#e8e8e8" stroke-width="0.9"/>
<line x1="163.3" y1="237.36" x2="277.3" y2="237.36" stroke="#e8e8e8" stroke-width="0.9"/>
<line x1="163.3" y1="217.88" x2="277.3" y2="217.88" stroke="#e8e8e8" stroke-width="0.9"/>
<line x1="163.3" y1="198.4" x2="277.3" y2="198.4" stroke="#e8e8e8" stroke-width="0.9"/>
<text x="220.3" y="182.4" font-size="7.1" text-anchor="middle" font-weight="normal" fill="#1a1a1a" stroke="#1a1a1a" stroke-width="0.2">Immune hypoM</text>
<text x="171.8" y="310.9" font-size="6.8" text-anchor="middle" font-weight="normal" fill="#1e1e1e" stroke="#1e1e1e" stroke-width="0.2">0.1</text>
<text x="194.7" y="310.9" font-size="6.8" text-anchor="middle" font-weight="normal" fill="#1e1e1e" stroke="#1e1e1e" stroke-width="0.2">0.2</text>
<text x="217.6" y="310.9" font-size="6.8" text-anchor="middle" font-weight="normal" fill="#1e1e1e" stroke="#1e1e1e" stroke-width="0.2">0.3</text>
<text x="240.5" y="310.9" font-size="6.8" text-anchor="middle" font-weight="normal" fill="#1e1e1e" stroke="#1e1e1e" stroke-width="0.2">0.4</text>
<text x="263.4" y="310.9" font-size="6.8" text-anchor="middle" font-weight="normal" fill="#1e1e1e" stroke="#1e1e1e" stroke-width="0.2">0.5</text>
<line x1="301.85" y1="187" x2="301.85" y2="300.6" stroke="#f1f1f1" stroke-width="0.9"/>
<line x1="324.75" y1="187" x2="324.75" y2="300.6" stroke="#f1f1f1" stroke-width="0.9"/>
<line x1="347.65" y1="187" x2="347.65" y2="300.6" stroke="#f1f1f1" stroke-width="0.9"/>
<line x1="370.55" y1="187" x2="370.55" y2="300.6" stroke="#f1f1f1" stroke-width="0.9"/>
<line x1="393.45" y1="187" x2="393.45" y2="300.6" stroke="#f1f1f1" stroke-width="0.9"/>
<line x1="281.9" y1="286.06" x2="395.9" y2="286.06" stroke="#f1f1f1" stroke-width="0.9"/>
<line x1="281.9" y1="266.58" x2="395.9" y2="266.58" stroke="#f1f1f1" stroke-width="0.9"/>
<line x1="281.9" y1="247.1" x2="395.9" y2="247.1" stroke="#f1f1f1" stroke-width="0.9"/>
<line x1="281.9" y1="227.62" x2="395.9" y2="227.62" stroke="#f1f1f1" stroke-width="0.9"/>
<line x1="281.9" y1="208.14" x2="395.9" y2="208.14" stroke="#f1f1f1" stroke-width="0.9"/>
<line x1="281.9" y1="188.66" x2="395.9" y2="188.66" stroke="#f1f1f1" stroke-width="0.9"/>
<line x1="290.4" y1="187" x2="290.4" y2="300.6" stroke="#e8e8e8" stroke-width="0.9"/>
<line x1="313.3" y1="187" x2="313.3" y2="300.6" stroke="#e8e8e8" stroke-width="0.9"/>
<line x1="336.2" y1="187" x2="336.2" y2="300.6" stroke="#e8e8e8" stroke-width="0.9"/>
<line x1="359.1" y1="187" x2="359.1" y2="300.6" stroke="#e8e8e8" stroke-width="0.9"/>
<line x1="382" y1="187" x2="382" y2="300.6" stroke="#e8e8e8" stroke-width="0.9"/>
<line x1="281.9" y1="295.8" x2="395.9" y2="295.8" stroke="#e8e8e8" stroke-width="0.9"/>
<line x1="281.9" y1="276.32" x2="395.9" y2="276.32" stroke="#e8e8e8" stroke-width="0.9"/>
<line x1="281.9" y1="256.84" x2="395.9" y2="256.84" stroke="#e8e8e8" stroke-width="0.9"/>
<line x1="281.9" y1="237.36" x2="395.9" y2="237.36" stroke="#e8e8e8" stroke-width="0.9"/>
<line x1="281.9" y1="217.88" x2="395.9" y2="217.88" stroke="#e8e8e8" stroke-width="0.9"/>
<line x1="281.9" y1="198.4" x2="395.9" y2="198.4" stroke="#e8e8e8" stroke-width="0.9"/>
<text x="338.9" y="182.4" font-size="7.1" text-anchor="middle" font-weight="normal" fill="#1a1a1a" stroke="#1a1a1a" stroke-width="0.2">Distal epithelial hyperM</text>
<text x="290.4" y="310.9" font-size="6.8" text-anchor="middle" font-weight="normal" fill="#1e1e1e" stroke="#1e1e1e" stroke-width="0.2">0.1</text>
<text x="313.3" y="310.9" font-size="6.8" text-anchor="middle" font-weight="normal" fill="#1e1e1e" stroke="#1e1e1e" stroke-width="0.2">0.2</text>
<text x="336.2" y="310.9" font-size="6.8" text-anchor="middle" font-weight="normal" fill="#1e1e1e" stroke="#1e1e1e" stroke-width="0.2">0.3</text>
<text x="359.1" y="310.9" font-size="6.8" text-anchor="middle" font-weight="normal" fill="#1e1e1e" stroke="#1e1e1e" stroke-width="0.2">0.4</text>
<text x="382" y="310.9" font-size="6.8" text-anchor="middle" font-weight="normal" fill="#1e1e1e" stroke="#1e1e1e" stroke-width="0.2">0.5</text>
<line x1="420.35" y1="187" x2="420.35" y2="300.6" stroke="#f1f1f1" stroke-width="0.9"/>
<line x1="443.25" y1="187" x2="443.25" y2="300.6" stroke="#f1f1f1" stroke-width="0.9"/>
<line x1="466.15" y1="187" x2="466.15" y2="300.6" stroke="#f1f1f1" stroke-width="0.9"/>
<line x1="489.05" y1="187" x2="489.05" y2="300.6" stroke="#f1f1f1" stroke-width="0.9"/>
<line x1="511.95" y1="187" x2="511.95" y2="300.6" stroke="#f1f1f1" stroke-width="0.9"/>
<line x1="400.4" y1="286.06" x2="514.4" y2="286.06" stroke="#f1f1f1" stroke-width="0.9"/>
<line x1="400.4" y1="266.58" x2="514.4" y2="266.58" stroke="#f1f1f1" stroke-width="0.9"/>
<line x1="400.4" y1="247.1" x2="514.4" y2="247.1" stroke="#f1f1f1" stroke-width="0.9"/>
<line x1="400.4" y1="227.62" x2="514.4" y2="227.62" stroke="#f1f1f1" stroke-width="0.9"/>
<line x1="400.4" y1="208.14" x2="514.4" y2="208.14" stroke="#f1f1f1" stroke-width="0.9"/>
<line x1="400.4" y1="188.66" x2="514.4" y2="188.66" stroke="#f1f1f1" stroke-width="0.9"/>
<line x1="408.9" y1="187" x2="408.9" y2="300.6" stroke="#e8e8e8" stroke-width="0.9"/>
<line x1="431.8" y1="187" x2="431.8" y2="300.6" stroke="#e8e8e8" stroke-width="0.9"/>
<line x1="454.7" y1="187" x2="454.7" y2="300.6" stroke="#e8e8e8" stroke-width="0.9"/>
<line x1="477.6" y1="187" x2="477.6" y2="300.6" stroke="#e8e8e8" stroke-width="0.9"/>
<line x1="500.5" y1="187" x2="500.5" y2="300.6" stroke="#e8e8e8" stroke-width="0.9"/>
<line x1="400.4" y1="295.8" x2="514.4" y2="295.8" stroke="#e8e8e8" stroke-width="0.9"/>
<line x1="400.4" y1="276.32" x2="514.4" y2="276.32" stroke="#e8e8e8" stroke-width="0.9"/>
<line x1="400.4" y1="256.84" x2="514.4" y2="256.84" stroke="#e8e8e8" stroke-width="0.9"/>
<line x1="400.4" y1="237.36" x2="514.4" y2="237.36" stroke="#e8e8e8" stroke-width="0.9"/>
<line x1="400.4" y1="217.88" x2="514.4" y2="217.88" stroke="#e8e8e8" stroke-width="0.9"/>
<line x1="400.4" y1="198.4" x2="514.4" y2="198.4" stroke="#e8e8e8" stroke-width="0.9"/>
<text x="457.4" y="182.4" font-size="7.1" text-anchor="middle" font-weight="normal" fill="#1a1a1a" stroke="#1a1a1a" stroke-width="0.2">Proximal epithelial hyperM</text>
<text x="408.9" y="310.9" font-size="6.8" text-anchor="middle" font-weight="normal" fill="#1e1e1e" stroke="#1e1e1e" stroke-width="0.2">0.1</text>
<text x="431.8" y="310.9" font-size="6.8" text-anchor="middle" font-weight="normal" fill="#1e1e1e" stroke="#1e1e1e" stroke-width="0.2">0.2</text>
<text x="454.7" y="310.9" font-size="6.8" text-anchor="middle" font-weight="normal" fill="#1e1e1e" stroke="#1e1e1e" stroke-width="0.2">0.3</text>
<text x="477.6" y="310.9" font-size="6.8" text-anchor="middle" font-weight="normal" fill="#1e1e1e" stroke="#1e1e1e" stroke-width="0.2">0.4</text>
<text x="500.5" y="310.9" font-size="6.8" text-anchor="middle" font-weight="normal" fill="#1e1e1e" stroke="#1e1e1e" stroke-width="0.2">0.5</text>
<text x="40.6" y="298.25" font-size="6.8" text-anchor="end" font-weight="normal" fill="#1e1e1e" stroke="#1e1e1e" stroke-width="0.2">0.3</text>
<text x="40.6" y="278.77" font-size="6.8" text-anchor="end" font-weight="normal" fill="#1e1e1e" stroke="#1e1e1e" stroke-width="0.2">0.4</text>
<text x="40.6" y="259.29" font-size="6.8" text-anchor="end" font-weight="normal" fill="#1e1e1e" stroke="#1e1e1e" stroke-width="0.2">0.5</text>
<text x="40.6" y="239.81" font-size="6.8" text-anchor="end" font-weight="normal" fill="#1e1e1e" stroke="#1e1e1e" stroke-width="0.2">0.6</text>
<text x="40.6" y="220.33" font-size="6.8" text-anchor="end" font-weight="normal" fill="#1e1e1e" stroke="#1e1e1e" stroke-width="0.2">0.7</text>
<text x="40.6" y="200.85" font-size="6.8" text-anchor="end" font-weight="normal" fill="#1e1e1e" stroke="#1e1e1e" stroke-width="0.2">0.8</text>
<text x="7.8" y="243.8" font-size="8.6" text-anchor="middle" font-weight="normal" fill="#111" transform="rotate(-90 7.8 243.8)" stroke="#111" stroke-width="0.3">Mean β</text>
<text x="17.3" y="243.2" font-size="9.45" text-anchor="middle" font-weight="normal" fill="#c3c187" transform="rotate(-90 17.3 243.2)" stroke="#c3c187" stroke-width="0.2">Blood samples</text>
<text x="25.8" y="243.2" font-size="9.2" text-anchor="middle" font-weight="normal" fill="#1a1a1a" transform="rotate(-90 25.8 243.2)" stroke="#1a1a1a" stroke-width="0.2">(raw)</text>
<text x="281.2" y="320.8" font-size="8.7" text-anchor="middle" font-weight="normal" fill="#1a1a1a" stroke="#1a1a1a" stroke-width="0.2">Lymphoid proportion</text>
<g><circle cx="154.22" cy="196.14" r="1" fill="#d29866"/><circle cx="70.92" cy="193.76" r="1" fill="#5a86a4"/><circle cx="127.16" cy="196.46" r="1" fill="#5a86a4"/><circle cx="151.86" cy="194.76" r="1" fill="#5a86a4"/><circle cx="136.16" cy="194.13" r="1" fill="#d29866"/><circle cx="92.55" cy="198.2" r="1" fill="#b4504e"/><circle cx="60.86" cy="196.03" r="1" fill="#d29866"/><circle cx="144.43" cy="195.31" r="1" fill="#5a86a4"/><circle cx="51.32" cy="198.93" r="1" fill="#b4504e"/><circle cx="147.26" cy="195.99" r="1" fill="#b4504e"/><circle cx="54.34" cy="196.17" r="1" fill="#d29866"/><circle cx="90.81" cy="195.73" r="1" fill="#b4504e"/><circle cx="70.14" cy="196.09" r="1" fill="#5a86a4"/><circle cx="71.46" cy="197.25" r="1" fill="#b4504e"/><circle cx="76.97" cy="197.54" r="1" fill="#d29866"/><circle cx="94.24" cy="197.35" r="1" fill="#d29866"/><circle cx="66.93" cy="197.61" r="1" fill="#b4504e"/><circle cx="55.94" cy="196.93" r="1" fill="#5a86a4"/><circle cx="150.6" cy="193.96" r="1" fill="#5a86a4"/><circle cx="120.04" cy="195.39" r="1" fill="#5a86a4"/><circle cx="145.54" cy="194.47" r="1" fill="#b4504e"/><circle cx="150.37" cy="193.68" r="1" fill="#5a86a4"/><circle cx="115.1" cy="195.29" r="1" fill="#5a86a4"/><circle cx="94.63" cy="195.7" r="1" fill="#5a86a4"/><circle cx="93.1" cy="195.45" r="1" fill="#b4504e"/><circle cx="100.14" cy="197.14" r="1" fill="#5a86a4"/><circle cx="127.71" cy="196.1" r="1" fill="#d29866"/><circle cx="88.76" cy="195.21" r="1" fill="#5a86a4"/><circle cx="93.61" cy="195.56" r="1" fill="#5a86a4"/><circle cx="90.26" cy="196.16" r="1" fill="#5a86a4"/><circle cx="51.11" cy="196.07" r="1" fill="#5a86a4"/><circle cx="73" cy="194.69" r="1" fill="#5a86a4"/><circle cx="92.08" cy="196.6" r="1" fill="#d29866"/><circle cx="135.4" cy="194.88" r="1" fill="#5a86a4"/><circle cx="56.76" cy="199.71" r="1" fill="#b4504e"/><circle cx="66.79" cy="195.56" r="1" fill="#d29866"/><circle cx="128.75" cy="196.83" r="1" fill="#d29866"/><circle cx="70.33" cy="195.45" r="1" fill="#5a86a4"/><circle cx="83.29" cy="195.14" r="1" fill="#5a86a4"/><circle cx="152.31" cy="194.49" r="1" fill="#5a86a4"/><circle cx="67.17" cy="196.11" r="1" fill="#b4504e"/><circle cx="97.61" cy="196.16" r="1" fill="#d29866"/><circle cx="130.05" cy="195.78" r="1" fill="#5a86a4"/><circle cx="133.86" cy="195.64" r="1" fill="#5a86a4"/><circle cx="112.99" cy="197.34" r="1" fill="#b4504e"/><circle cx="109.54" cy="197.76" r="1" fill="#b4504e"/><circle cx="102.73" cy="195.06" r="1" fill="#5a86a4"/><circle cx="76.86" cy="196.89" r="1" fill="#b4504e"/><circle cx="98.46" cy="195.56" r="1" fill="#b4504e"/><circle cx="136.16" cy="198.64" r="1" fill="#b4504e"/><circle cx="72.95" cy="198.77" r="1" fill="#b4504e"/><circle cx="116.87" cy="195.54" r="1" fill="#d29866"/><circle cx="120.35" cy="194.65" r="1" fill="#5a86a4"/><circle cx="100.28" cy="196.03" r="1" fill="#d29866"/><circle cx="136.41" cy="194.36" r="1" fill="#5a86a4"/><circle cx="117.16" cy="195.66" r="1" fill="#b4504e"/><circle cx="61.22" cy="199.52" r="1" fill="#b4504e"/><circle cx="151.53" cy="195.71" r="1" fill="#b4504e"/><circle cx="75.21" cy="197.56" r="1" fill="#d29866"/><circle cx="142.86" cy="192.53" r="1" fill="#d29866"/><circle cx="71.48" cy="194.79" r="1" fill="#b4504e"/><circle cx="57.33" cy="195" r="1" fill="#5a86a4"/><circle cx="154.65" cy="196.47" r="1" fill="#b4504e"/><circle cx="94.57" cy="197.11" r="1" fill="#b4504e"/><circle cx="126.48" cy="195.82" r="1" fill="#b4504e"/><circle cx="82.88" cy="194.32" r="1" fill="#b4504e"/><circle cx="73.88" cy="196.37" r="1" fill="#5a86a4"/><circle cx="136.6" cy="197.35" r="1" fill="#b4504e"/><circle cx="136.54" cy="197.34" r="1" fill="#d29866"/><circle cx="103.03" cy="196.35" r="1" fill="#b4504e"/><circle cx="149.67" cy="194.05" r="1" fill="#5a86a4"/><circle cx="127.82" cy="195.8" r="1" fill="#5a86a4"/><circle cx="102.47" cy="192.52" r="1" fill="#5a86a4"/><circle cx="149.03" cy="195.33" r="1" fill="#b4504e"/><circle cx="129.26" cy="195.61" r="1" fill="#d29866"/><circle cx="149.35" cy="193.33" r="1" fill="#d29866"/><circle cx="60.76" cy="199.33" r="1" fill="#b4504e"/><circle cx="141.06" cy="195.94" r="1" fill="#d29866"/><circle cx="63.7" cy="194.95" r="1" fill="#5a86a4"/><circle cx="71.37" cy="196.84" r="1" fill="#d29866"/><circle cx="108.39" cy="197.39" r="1" fill="#d29866"/><circle cx="135.05" cy="195.58" r="1" fill="#d29866"/><circle cx="124.23" cy="195.13" r="1" fill="#5a86a4"/><circle cx="121.09" cy="195.87" r="1" fill="#5a86a4"/><circle cx="154.75" cy="193.75" r="1" fill="#5a86a4"/><circle cx="131.33" cy="196.41" r="1" fill="#d29866"/><circle cx="153.74" cy="195.35" r="1" fill="#d29866"/><circle cx="84.11" cy="196.86" r="1" fill="#d29866"/><circle cx="146.3" cy="195.35" r="1" fill="#d29866"/><circle cx="81.41" cy="195.69" r="1" fill="#d29866"/><circle cx="59.68" cy="196.91" r="1" fill="#b4504e"/><circle cx="69.87" cy="195.78" r="1" fill="#d29866"/><circle cx="117.32" cy="196.55" r="1" fill="#b4504e"/><circle cx="71.56" cy="196.36" r="1" fill="#d29866"/><circle cx="82.87" cy="198.26" r="1" fill="#b4504e"/><circle cx="147.51" cy="194.8" r="1" fill="#d29866"/><circle cx="55.02" cy="198.77" r="1" fill="#d29866"/><circle cx="54.44" cy="196.16" r="1" fill="#5a86a4"/><circle cx="118.88" cy="195.21" r="1" fill="#d29866"/><circle cx="139.06" cy="195.8" r="1" fill="#d29866"/><circle cx="88.51" cy="196.06" r="1" fill="#d29866"/><circle cx="142.94" cy="196.36" r="1" fill="#d29866"/><circle cx="104.78" cy="196.1" r="1" fill="#b4504e"/><circle cx="89.02" cy="196.33" r="1" fill="#b4504e"/><circle cx="128.67" cy="195.43" r="1" fill="#5a86a4"/><circle cx="152.19" cy="194.8" r="1" fill="#d29866"/><circle cx="147.21" cy="194.74" r="1" fill="#5a86a4"/><circle cx="111.58" cy="194.83" r="1" fill="#d29866"/><circle cx="84.45" cy="197.82" r="1" fill="#b4504e"/><circle cx="140.77" cy="195.08" r="1" fill="#b4504e"/><circle cx="138.42" cy="196.01" r="1" fill="#d29866"/><circle cx="152.44" cy="196.37" r="1" fill="#b4504e"/><circle cx="148.32" cy="194.78" r="1" fill="#5a86a4"/><circle cx="79.84" cy="198.74" r="1" fill="#b4504e"/><circle cx="88.79" cy="196.76" r="1" fill="#b4504e"/><circle cx="87.97" cy="195.63" r="1" fill="#5a86a4"/><circle cx="57.08" cy="195.5" r="1" fill="#5a86a4"/><circle cx="120.13" cy="193.89" r="1" fill="#5a86a4"/><circle cx="83.79" cy="194.36" r="1" fill="#d29866"/><circle cx="75.18" cy="196.42" r="1" fill="#d29866"/><circle cx="91.79" cy="193.46" r="1" fill="#5a86a4"/><circle cx="102.75" cy="196.29" r="1" fill="#d29866"/><circle cx="147.19" cy="194.81" r="1" fill="#b4504e"/><circle cx="91.08" cy="196.9" r="1" fill="#d29866"/><circle cx="86.03" cy="195.17" r="1" fill="#5a86a4"/><circle cx="68.45" cy="194.92" r="1" fill="#5a86a4"/><circle cx="81.42" cy="197.28" r="1" fill="#d29866"/><circle cx="79.53" cy="194.31" r="1" fill="#d29866"/><circle cx="134.53" cy="195.32" r="1" fill="#b4504e"/><circle cx="100.32" cy="193.21" r="1" fill="#d29866"/></g>
<polygon points="50.81,195.28 55.15,195.25 59.49,195.22 63.83,195.18 68.18,195.14 72.52,195.1 76.86,195.06 81.2,195.02 85.54,194.98 89.88,194.94 94.22,194.89 98.57,194.84 102.91,194.8 107.25,194.75 111.59,194.7 115.93,194.64 120.27,194.59 124.61,194.54 128.96,194.48 133.3,194.42 137.64,194.36 141.98,194.3 146.32,194.24 150.66,194.18 155,194.11 155,195.28 150.66,195.32 146.32,195.35 141.98,195.39 137.64,195.42 133.3,195.46 128.96,195.5 124.61,195.54 120.27,195.59 115.93,195.63 111.59,195.68 107.25,195.72 102.91,195.77 98.57,195.82 94.22,195.87 89.88,195.92 85.54,195.98 81.2,196.03 76.86,196.09 72.52,196.14 68.18,196.2 63.83,196.26 59.49,196.32 55.15,196.39 50.81,196.45" fill="#999999" fill-opacity="0.4"/>
<polyline points="50.81,195.87 55.15,195.82 59.49,195.77 63.83,195.72 68.18,195.67 72.52,195.62 76.86,195.58 81.2,195.53 85.54,195.48 89.88,195.43 94.22,195.38 98.57,195.33 102.91,195.28 107.25,195.23 111.59,195.19 115.93,195.14 120.27,195.09 124.61,195.04 128.96,194.99 133.3,194.94 137.64,194.89 141.98,194.84 146.32,194.8 150.66,194.75 155,194.7" fill="none" stroke="#3f86bd" stroke-width="2.5" stroke-linejoin="round" stroke-linecap="butt"/>
<polygon points="50.81,196.06 55.15,196.02 59.49,195.98 63.83,195.93 68.18,195.89 72.52,195.84 76.86,195.79 81.2,195.75 85.54,195.69 89.88,195.64 94.22,195.59 98.57,195.53 102.91,195.48 107.25,195.42 111.59,195.36 115.93,195.3 120.27,195.24 124.61,195.18 128.96,195.11 133.3,195.05 137.64,194.98 141.98,194.91 146.32,194.84 150.66,194.77 155,194.7 155,195.87 150.66,195.91 146.32,195.95 141.98,196 137.64,196.04 133.3,196.09 128.96,196.14 124.61,196.18 120.27,196.24 115.93,196.29 111.59,196.34 107.25,196.4 102.91,196.45 98.57,196.51 94.22,196.57 89.88,196.63 85.54,196.69 81.2,196.75 76.86,196.82 72.52,196.88 68.18,196.95 63.83,197.02 59.49,197.09 55.15,197.16 50.81,197.23" fill="#999999" fill-opacity="0.4"/>
<polyline points="50.81,196.65 55.15,196.59 59.49,196.53 63.83,196.48 68.18,196.42 72.52,196.36 76.86,196.31 81.2,196.25 85.54,196.19 89.88,196.14 94.22,196.08 98.57,196.02 102.91,195.97 107.25,195.91 111.59,195.85 115.93,195.79 120.27,195.74 124.61,195.68 128.96,195.62 133.3,195.57 137.64,195.51 141.98,195.45 146.32,195.4 150.66,195.34 155,195.28" fill="none" stroke="#f0a052" stroke-width="2.5" stroke-linejoin="round" stroke-linecap="butt"/>
<polygon points="50.12,197.43 54.49,197.36 58.86,197.29 63.23,197.22 67.6,197.14 71.97,197.07 76.34,196.99 80.71,196.91 85.08,196.82 89.45,196.73 93.82,196.64 98.19,196.55 102.56,196.45 106.93,196.35 111.3,196.25 115.67,196.15 120.04,196.04 124.41,195.93 128.78,195.82 133.15,195.7 137.52,195.59 141.89,195.47 146.26,195.34 150.63,195.22 155,195.09 155,196.65 150.63,196.71 146.26,196.78 141.89,196.85 137.52,196.93 133.15,197.01 128.78,197.09 124.41,197.17 120.04,197.25 115.67,197.34 111.3,197.43 106.93,197.52 102.56,197.62 98.19,197.72 93.82,197.82 89.45,197.93 85.08,198.03 80.71,198.14 76.34,198.25 71.97,198.37 67.6,198.49 63.23,198.61 58.86,198.73 54.49,198.86 50.12,198.98" fill="#999999" fill-opacity="0.4"/>
<polyline points="50.12,198.21 54.49,198.11 58.86,198.01 63.23,197.91 67.6,197.82 71.97,197.72 76.34,197.62 80.71,197.52 85.08,197.43 89.45,197.33 93.82,197.23 98.19,197.13 102.56,197.04 106.93,196.94 111.3,196.84 115.67,196.74 120.04,196.65 124.41,196.55 128.78,196.45 133.15,196.35 137.52,196.26 141.89,196.16 146.26,196.06 150.63,195.97 155,195.87" fill="none" stroke="#dc4a3e" stroke-width="2.5" stroke-linejoin="round" stroke-linecap="butt"/>
<rect x="44.6" y="187" width="114" height="113.6" fill="none" stroke="#bdbdbd" stroke-width="1"/>
<g><circle cx="213.67" cy="255.93" r="1" fill="#5a86a4"/><circle cx="251.84" cy="254.59" r="1" fill="#5a86a4"/><circle cx="250.43" cy="252.21" r="1" fill="#5a86a4"/><circle cx="226.3" cy="268.65" r="1" fill="#b4504e"/><circle cx="221.92" cy="271.98" r="1" fill="#b4504e"/><circle cx="247.69" cy="274.28" r="1" fill="#b4504e"/><circle cx="236.08" cy="261.91" r="1" fill="#d29866"/><circle cx="267.63" cy="260" r="1" fill="#d29866"/><circle cx="263.24" cy="255.96" r="1" fill="#d29866"/><circle cx="255.39" cy="262.87" r="1" fill="#d29866"/><circle cx="260.33" cy="251.54" r="1" fill="#d29866"/><circle cx="228.04" cy="255.34" r="1" fill="#5a86a4"/><circle cx="182.06" cy="260.49" r="1" fill="#5a86a4"/><circle cx="234.78" cy="259.64" r="1" fill="#d29866"/><circle cx="212.01" cy="258.6" r="1" fill="#d29866"/><circle cx="204.21" cy="255.64" r="1" fill="#5a86a4"/><circle cx="174.37" cy="259.44" r="1" fill="#5a86a4"/><circle cx="179.28" cy="263.97" r="1" fill="#d29866"/><circle cx="255.41" cy="258.17" r="1" fill="#d29866"/><circle cx="192.67" cy="256.13" r="1" fill="#5a86a4"/><circle cx="189.89" cy="259.61" r="1" fill="#5a86a4"/><circle cx="235.74" cy="257.18" r="1" fill="#d29866"/><circle cx="255.12" cy="248.9" r="1" fill="#5a86a4"/><circle cx="225.31" cy="253.04" r="1" fill="#5a86a4"/><circle cx="199.45" cy="251.63" r="1" fill="#5a86a4"/><circle cx="262.5" cy="262.56" r="1" fill="#d29866"/><circle cx="247.34" cy="259.93" r="1" fill="#d29866"/><circle cx="245.75" cy="250.73" r="1" fill="#5a86a4"/><circle cx="182.75" cy="263.8" r="1" fill="#d29866"/><circle cx="204.43" cy="254.56" r="1" fill="#5a86a4"/><circle cx="229.45" cy="257.67" r="1" fill="#d29866"/><circle cx="256.37" cy="250.88" r="1" fill="#d29866"/><circle cx="250.47" cy="251.67" r="1" fill="#5a86a4"/><circle cx="185.43" cy="258.49" r="1" fill="#5a86a4"/><circle cx="257.62" cy="254.46" r="1" fill="#5a86a4"/><circle cx="204.02" cy="258.23" r="1" fill="#5a86a4"/><circle cx="266" cy="262.57" r="1" fill="#d29866"/><circle cx="195.32" cy="257.68" r="1" fill="#5a86a4"/><circle cx="198.17" cy="277.01" r="1" fill="#b4504e"/><circle cx="216.9" cy="256.14" r="1" fill="#5a86a4"/><circle cx="231.53" cy="253.82" r="1" fill="#5a86a4"/><circle cx="181.31" cy="264.02" r="1" fill="#d29866"/><circle cx="237.06" cy="255.72" r="1" fill="#d29866"/><circle cx="242.05" cy="264.37" r="1" fill="#b4504e"/><circle cx="260.29" cy="267.18" r="1" fill="#b4504e"/><circle cx="197.83" cy="258.58" r="1" fill="#5a86a4"/><circle cx="224.62" cy="263.26" r="1" fill="#b4504e"/><circle cx="194.4" cy="265.61" r="1" fill="#d29866"/><circle cx="259.45" cy="259.09" r="1" fill="#d29866"/><circle cx="255.04" cy="256.25" r="1" fill="#5a86a4"/><circle cx="249.1" cy="253.71" r="1" fill="#5a86a4"/><circle cx="174.14" cy="276.24" r="1" fill="#b4504e"/><circle cx="191.57" cy="257.76" r="1" fill="#d29866"/><circle cx="186.19" cy="263.86" r="1" fill="#b4504e"/><circle cx="262.2" cy="263.35" r="1" fill="#b4504e"/><circle cx="267.01" cy="268.25" r="1" fill="#b4504e"/><circle cx="208.36" cy="258.39" r="1" fill="#5a86a4"/><circle cx="185.56" cy="257.97" r="1" fill="#5a86a4"/><circle cx="249.07" cy="254.11" r="1" fill="#5a86a4"/><circle cx="177.04" cy="257.72" r="1" fill="#5a86a4"/><circle cx="241.94" cy="255.82" r="1" fill="#5a86a4"/><circle cx="176.98" cy="262.76" r="1" fill="#d29866"/><circle cx="179.99" cy="258.68" r="1" fill="#5a86a4"/><circle cx="253.46" cy="258.62" r="1" fill="#b4504e"/><circle cx="177.78" cy="259.89" r="1" fill="#5a86a4"/><circle cx="199.53" cy="265.05" r="1" fill="#d29866"/><circle cx="248.69" cy="254.71" r="1" fill="#5a86a4"/><circle cx="178.57" cy="260.56" r="1" fill="#5a86a4"/><circle cx="240.08" cy="266.23" r="1" fill="#b4504e"/><circle cx="213.43" cy="276.61" r="1" fill="#b4504e"/><circle cx="191.95" cy="261.26" r="1" fill="#5a86a4"/><circle cx="178.39" cy="257.83" r="1" fill="#5a86a4"/><circle cx="221.18" cy="257.05" r="1" fill="#d29866"/><circle cx="261.92" cy="256.71" r="1" fill="#d29866"/><circle cx="226.8" cy="269.47" r="1" fill="#b4504e"/><circle cx="218.43" cy="257.33" r="1" fill="#5a86a4"/><circle cx="247.44" cy="289" r="1" fill="#b4504e"/><circle cx="252.42" cy="269.54" r="1" fill="#b4504e"/><circle cx="264.06" cy="263.93" r="1" fill="#b4504e"/><circle cx="245.76" cy="269.06" r="1" fill="#b4504e"/><circle cx="217.03" cy="257.21" r="1" fill="#5a86a4"/><circle cx="264.23" cy="255.63" r="1" fill="#b4504e"/><circle cx="221.56" cy="273.88" r="1" fill="#b4504e"/><circle cx="258.98" cy="259.47" r="1" fill="#d29866"/><circle cx="208.18" cy="259.72" r="1" fill="#5a86a4"/><circle cx="175.31" cy="257.49" r="1" fill="#5a86a4"/><circle cx="241.09" cy="254.88" r="1" fill="#5a86a4"/><circle cx="226.74" cy="264.21" r="1" fill="#d29866"/><circle cx="223.56" cy="258.22" r="1" fill="#5a86a4"/><circle cx="209.33" cy="259.41" r="1" fill="#d29866"/><circle cx="179.34" cy="275.43" r="1" fill="#b4504e"/><circle cx="198.11" cy="280.25" r="1" fill="#b4504e"/><circle cx="226.21" cy="250.97" r="1" fill="#5a86a4"/><circle cx="265.65" cy="267.56" r="1" fill="#b4504e"/><circle cx="248.81" cy="252.06" r="1" fill="#5a86a4"/><circle cx="265.11" cy="262.47" r="1" fill="#b4504e"/><circle cx="214.93" cy="255.67" r="1" fill="#5a86a4"/><circle cx="235" cy="276.31" r="1" fill="#b4504e"/><circle cx="184.4" cy="264.88" r="1" fill="#d29866"/><circle cx="262.29" cy="256.54" r="1" fill="#d29866"/><circle cx="184.5" cy="256.41" r="1" fill="#5a86a4"/><circle cx="265.07" cy="266.07" r="1" fill="#b4504e"/><circle cx="245.26" cy="267.86" r="1" fill="#b4504e"/><circle cx="192.49" cy="261.01" r="1" fill="#d29866"/><circle cx="247.15" cy="254.77" r="1" fill="#d29866"/><circle cx="261.32" cy="258.44" r="1" fill="#d29866"/><circle cx="217.5" cy="256.44" r="1" fill="#5a86a4"/><circle cx="178.87" cy="261.13" r="1" fill="#d29866"/><circle cx="178.58" cy="259.85" r="1" fill="#5a86a4"/><circle cx="189.37" cy="263.25" r="1" fill="#d29866"/><circle cx="218.79" cy="257.4" r="1" fill="#5a86a4"/><circle cx="235.7" cy="256.17" r="1" fill="#5a86a4"/><circle cx="195.45" cy="254.88" r="1" fill="#d29866"/><circle cx="195.09" cy="266.48" r="1" fill="#d29866"/><circle cx="206.84" cy="273.99" r="1" fill="#b4504e"/><circle cx="204.03" cy="263.05" r="1" fill="#d29866"/><circle cx="178.7" cy="276.18" r="1" fill="#b4504e"/><circle cx="180.76" cy="259.92" r="1" fill="#d29866"/><circle cx="250.48" cy="262.22" r="1" fill="#d29866"/><circle cx="177.22" cy="261.44" r="1" fill="#5a86a4"/></g>
<polygon points="173.17,258.59 176.7,258.43 180.23,258.26 183.77,258.09 187.3,257.91 190.83,257.73 194.36,257.55 197.89,257.36 201.42,257.16 204.95,256.97 208.48,256.77 212.01,256.56 215.54,256.35 219.07,256.14 222.6,255.92 226.13,255.7 229.66,255.48 233.19,255.25 236.72,255.01 240.25,254.78 243.78,254.53 247.31,254.29 250.84,254.04 254.37,253.79 257.9,253.53 257.9,255.87 254.37,256.03 250.84,256.2 247.31,256.37 243.78,256.55 240.25,256.73 236.72,256.91 233.19,257.1 229.66,257.29 226.13,257.49 222.6,257.69 219.07,257.9 215.54,258.11 212.01,258.32 208.48,258.54 204.95,258.76 201.42,258.98 197.89,259.21 194.36,259.45 190.83,259.68 187.3,259.92 183.77,260.17 180.23,260.42 176.7,260.67 173.17,260.93" fill="#999999" fill-opacity="0.4"/>
<polyline points="173.17,259.76 176.7,259.55 180.23,259.34 183.77,259.13 187.3,258.92 190.83,258.71 194.36,258.5 197.89,258.28 201.42,258.07 204.95,257.86 208.48,257.65 212.01,257.44 215.54,257.23 219.07,257.02 222.6,256.81 226.13,256.6 229.66,256.39 233.19,256.17 236.72,255.96 240.25,255.75 243.78,255.54 247.31,255.33 250.84,255.12 254.37,254.91 257.9,254.7" fill="none" stroke="#3f86bd" stroke-width="2.5" stroke-linejoin="round" stroke-linecap="butt"/>
<polygon points="176.38,261.52 180.29,261.33 184.2,261.13 188.12,260.94 192.03,260.74 195.94,260.53 199.85,260.32 203.76,260.11 207.68,259.89 211.59,259.67 215.5,259.45 219.41,259.22 223.32,258.98 227.24,258.75 231.15,258.5 235.06,258.26 238.97,258.01 242.89,257.76 246.8,257.5 250.71,257.24 254.62,256.97 258.53,256.7 262.45,256.43 266.36,256.15 270.27,255.87 270.27,258.2 266.36,258.39 262.45,258.59 258.53,258.78 254.62,258.98 250.71,259.19 246.8,259.4 242.89,259.61 238.97,259.83 235.06,260.05 231.15,260.27 227.24,260.5 223.32,260.74 219.41,260.97 215.5,261.21 211.59,261.46 207.68,261.71 203.76,261.96 199.85,262.22 195.94,262.48 192.03,262.75 188.12,263.02 184.2,263.29 180.29,263.57 176.38,263.85" fill="#999999" fill-opacity="0.4"/>
<polyline points="176.38,262.68 180.29,262.45 184.2,262.21 188.12,261.98 192.03,261.74 195.94,261.51 199.85,261.27 203.76,261.04 207.68,260.8 211.59,260.57 215.5,260.33 219.41,260.09 223.32,259.86 227.24,259.62 231.15,259.39 235.06,259.15 238.97,258.92 242.89,258.68 246.8,258.45 250.71,258.21 254.62,257.98 258.53,257.74 262.45,257.51 266.36,257.27 270.27,257.03" fill="none" stroke="#f0a052" stroke-width="2.5" stroke-linejoin="round" stroke-linecap="butt"/>
<polygon points="168.59,267.94 172.88,267.82 177.16,267.68 181.45,267.52 185.73,267.35 190.02,267.16 194.3,266.95 198.58,266.72 202.87,266.47 207.15,266.21 211.44,265.93 215.72,265.63 220,265.31 224.29,264.98 228.57,264.63 232.86,264.26 237.14,263.87 241.43,263.47 245.71,263.05 249.99,262.61 254.28,262.15 258.56,261.68 262.85,261.19 267.13,260.68 271.42,260.15 271.42,267.94 267.13,268.16 262.85,268.4 258.56,268.66 254.28,268.93 249.99,269.22 245.71,269.53 241.43,269.85 237.14,270.19 232.86,270.56 228.57,270.93 224.29,271.33 220,271.74 215.72,272.17 211.44,272.62 207.15,273.09 202.87,273.57 198.58,274.07 194.3,274.59 190.02,275.13 185.73,275.68 181.45,276.25 177.16,276.84 172.88,277.45 168.59,278.07" fill="#999999" fill-opacity="0.4"/>
<polyline points="168.59,273.01 172.88,272.64 177.16,272.26 181.45,271.89 185.73,271.51 190.02,271.14 194.3,270.77 198.58,270.39 202.87,270.02 207.15,269.65 211.44,269.27 215.72,268.9 220,268.53 224.29,268.15 228.57,267.78 232.86,267.41 237.14,267.03 241.43,266.66 245.71,266.29 249.99,265.91 254.28,265.54 258.56,265.17 262.85,264.79 267.13,264.42 271.42,264.05" fill="none" stroke="#dc4a3e" stroke-width="2.5" stroke-linejoin="round" stroke-linecap="butt"/>
<rect x="163.3" y="187" width="114" height="113.6" fill="none" stroke="#bdbdbd" stroke-width="1"/>
<g><circle cx="372.03" cy="283.68" r="1" fill="#5a86a4"/><circle cx="347.92" cy="284.22" r="1" fill="#d29866"/><circle cx="306.92" cy="284.04" r="1" fill="#d29866"/><circle cx="391.9" cy="283.83" r="1" fill="#5a86a4"/><circle cx="391.94" cy="283.79" r="1" fill="#d29866"/><circle cx="335.2" cy="284.43" r="1" fill="#d29866"/><circle cx="359.74" cy="282.52" r="1" fill="#5a86a4"/><circle cx="315.63" cy="283.24" r="1" fill="#b4504e"/><circle cx="288.87" cy="285.27" r="1" fill="#b4504e"/><circle cx="382.06" cy="285.08" r="1" fill="#d29866"/><circle cx="385.29" cy="282.86" r="1" fill="#5a86a4"/><circle cx="303.35" cy="285.84" r="1" fill="#5a86a4"/><circle cx="303.02" cy="283.9" r="1" fill="#b4504e"/><circle cx="314.41" cy="284.97" r="1" fill="#5a86a4"/><circle cx="305.26" cy="284.75" r="1" fill="#d29866"/><circle cx="338.56" cy="283.9" r="1" fill="#d29866"/><circle cx="308.93" cy="285.17" r="1" fill="#5a86a4"/><circle cx="293.79" cy="285.02" r="1" fill="#b4504e"/><circle cx="348.39" cy="283.62" r="1" fill="#5a86a4"/><circle cx="292.89" cy="284.25" r="1" fill="#d29866"/><circle cx="326.65" cy="284.92" r="1" fill="#5a86a4"/><circle cx="337.02" cy="283.87" r="1" fill="#5a86a4"/><circle cx="310.34" cy="284.57" r="1" fill="#d29866"/><circle cx="299.49" cy="285.23" r="1" fill="#5a86a4"/><circle cx="364.08" cy="285.02" r="1" fill="#5a86a4"/><circle cx="369.37" cy="285.37" r="1" fill="#5a86a4"/><circle cx="391.29" cy="283.45" r="1" fill="#5a86a4"/><circle cx="309.32" cy="284.67" r="1" fill="#d29866"/><circle cx="336.64" cy="283.92" r="1" fill="#d29866"/><circle cx="331.52" cy="284.78" r="1" fill="#b4504e"/><circle cx="339.27" cy="284.26" r="1" fill="#b4504e"/><circle cx="309.47" cy="284.25" r="1" fill="#5a86a4"/><circle cx="288.14" cy="283.74" r="1" fill="#b4504e"/><circle cx="339.63" cy="283.83" r="1" fill="#d29866"/><circle cx="287.71" cy="285.5" r="1" fill="#b4504e"/><circle cx="373.75" cy="283.6" r="1" fill="#d29866"/><circle cx="290.88" cy="284.38" r="1" fill="#b4504e"/><circle cx="295.43" cy="285.3" r="1" fill="#b4504e"/><circle cx="319.73" cy="286.01" r="1" fill="#5a86a4"/><circle cx="383.49" cy="283.79" r="1" fill="#5a86a4"/><circle cx="383.17" cy="284.97" r="1" fill="#d29866"/><circle cx="331.17" cy="285.55" r="1" fill="#5a86a4"/><circle cx="335.7" cy="282.48" r="1" fill="#5a86a4"/><circle cx="297" cy="284.89" r="1" fill="#5a86a4"/><circle cx="301.4" cy="283.65" r="1" fill="#d29866"/><circle cx="346.41" cy="285.42" r="1" fill="#b4504e"/><circle cx="382.58" cy="284.27" r="1" fill="#b4504e"/><circle cx="327.9" cy="283.68" r="1" fill="#5a86a4"/><circle cx="357.51" cy="283.14" r="1" fill="#5a86a4"/><circle cx="331.77" cy="283.62" r="1" fill="#d29866"/><circle cx="382.45" cy="283.98" r="1" fill="#d29866"/><circle cx="319.18" cy="284.38" r="1" fill="#b4504e"/><circle cx="325.66" cy="284.09" r="1" fill="#d29866"/><circle cx="297.9" cy="284.09" r="1" fill="#d29866"/><circle cx="355.02" cy="284.31" r="1" fill="#5a86a4"/><circle cx="336.56" cy="283.89" r="1" fill="#b4504e"/><circle cx="383.52" cy="283.26" r="1" fill="#b4504e"/><circle cx="351.48" cy="283.64" r="1" fill="#5a86a4"/><circle cx="343.76" cy="284.29" r="1" fill="#b4504e"/><circle cx="355.89" cy="285.56" r="1" fill="#b4504e"/><circle cx="319.06" cy="284.41" r="1" fill="#d29866"/><circle cx="364.85" cy="282.05" r="1" fill="#d29866"/><circle cx="389.34" cy="282.51" r="1" fill="#5a86a4"/><circle cx="332.48" cy="282.48" r="1" fill="#d29866"/><circle cx="330.9" cy="284.28" r="1" fill="#b4504e"/><circle cx="336.26" cy="282.84" r="1" fill="#b4504e"/><circle cx="370.69" cy="283.93" r="1" fill="#5a86a4"/><circle cx="290.33" cy="284.57" r="1" fill="#b4504e"/><circle cx="367.89" cy="284.06" r="1" fill="#b4504e"/><circle cx="356.34" cy="284.28" r="1" fill="#b4504e"/><circle cx="356.3" cy="284.86" r="1" fill="#5a86a4"/><circle cx="356.6" cy="282.92" r="1" fill="#5a86a4"/><circle cx="314.29" cy="283.75" r="1" fill="#5a86a4"/><circle cx="381.57" cy="283.46" r="1" fill="#5a86a4"/><circle cx="377.9" cy="284.17" r="1" fill="#b4504e"/><circle cx="361.48" cy="284.66" r="1" fill="#5a86a4"/><circle cx="318.24" cy="284.7" r="1" fill="#d29866"/><circle cx="290.09" cy="282.22" r="1" fill="#b4504e"/><circle cx="351.62" cy="284.89" r="1" fill="#d29866"/><circle cx="338.29" cy="284.18" r="1" fill="#5a86a4"/><circle cx="358.05" cy="283.49" r="1" fill="#d29866"/><circle cx="323.67" cy="283.76" r="1" fill="#d29866"/><circle cx="356.96" cy="282.19" r="1" fill="#b4504e"/><circle cx="329.63" cy="283.72" r="1" fill="#d29866"/><circle cx="305.25" cy="284.34" r="1" fill="#5a86a4"/><circle cx="387.23" cy="282.41" r="1" fill="#5a86a4"/><circle cx="309.63" cy="283.23" r="1" fill="#b4504e"/><circle cx="359.01" cy="283.55" r="1" fill="#b4504e"/><circle cx="366.38" cy="284.15" r="1" fill="#b4504e"/><circle cx="362.42" cy="283.4" r="1" fill="#d29866"/><circle cx="292.26" cy="285.47" r="1" fill="#b4504e"/><circle cx="376.77" cy="286.28" r="1" fill="#b4504e"/><circle cx="297.01" cy="283.97" r="1" fill="#5a86a4"/><circle cx="328.24" cy="283.36" r="1" fill="#5a86a4"/><circle cx="309.96" cy="283.34" r="1" fill="#5a86a4"/><circle cx="331.41" cy="283.65" r="1" fill="#d29866"/><circle cx="353.19" cy="284.29" r="1" fill="#b4504e"/><circle cx="321.49" cy="285.4" r="1" fill="#5a86a4"/><circle cx="338.58" cy="283.72" r="1" fill="#d29866"/><circle cx="297.53" cy="286.55" r="1" fill="#d29866"/><circle cx="321.52" cy="284.56" r="1" fill="#d29866"/><circle cx="375.56" cy="283.4" r="1" fill="#d29866"/><circle cx="390.67" cy="283.1" r="1" fill="#d29866"/><circle cx="358.75" cy="283.09" r="1" fill="#b4504e"/><circle cx="339.39" cy="283.45" r="1" fill="#d29866"/><circle cx="369.89" cy="283.55" r="1" fill="#d29866"/><circle cx="353.6" cy="284.57" r="1" fill="#5a86a4"/><circle cx="361.22" cy="283.43" r="1" fill="#b4504e"/><circle cx="391.7" cy="282.87" r="1" fill="#5a86a4"/><circle cx="301.92" cy="285.56" r="1" fill="#b4504e"/><circle cx="329.67" cy="284.89" r="1" fill="#d29866"/><circle cx="350.59" cy="283.93" r="1" fill="#d29866"/><circle cx="374.28" cy="285.02" r="1" fill="#d29866"/><circle cx="338.98" cy="282.72" r="1" fill="#b4504e"/><circle cx="356.78" cy="283.54" r="1" fill="#d29866"/><circle cx="343.8" cy="282.95" r="1" fill="#d29866"/><circle cx="343.4" cy="284.73" r="1" fill="#5a86a4"/><circle cx="335.72" cy="282.68" r="1" fill="#5a86a4"/><circle cx="293.6" cy="283.47" r="1" fill="#d29866"/><circle cx="360.62" cy="284.66" r="1" fill="#d29866"/><circle cx="338.94" cy="285.72" r="1" fill="#b4504e"/><circle cx="358.05" cy="286.4" r="1" fill="#b4504e"/><circle cx="325.11" cy="284" r="1" fill="#b4504e"/><circle cx="308.24" cy="283.34" r="1" fill="#5a86a4"/><circle cx="317.72" cy="284.41" r="1" fill="#d29866"/><circle cx="357.4" cy="283.46" r="1" fill="#b4504e"/><circle cx="386.33" cy="284.27" r="1" fill="#5a86a4"/><circle cx="322.88" cy="283.08" r="1" fill="#d29866"/><circle cx="384.33" cy="283.54" r="1" fill="#b4504e"/><circle cx="384.95" cy="282.35" r="1" fill="#5a86a4"/></g>
<polygon points="288.11,283.72 292.45,283.73 296.79,283.74 301.13,283.74 305.48,283.74 309.82,283.75 314.16,283.75 318.5,283.75 322.84,283.74 327.18,283.74 331.52,283.74 335.87,283.73 340.21,283.72 344.55,283.71 348.89,283.7 353.23,283.69 357.57,283.68 361.91,283.66 366.26,283.65 370.6,283.63 374.94,283.61 379.28,283.59 383.62,283.57 387.96,283.55 392.31,283.53 392.31,284.31 387.96,284.3 383.62,284.29 379.28,284.29 374.94,284.29 370.6,284.28 366.26,284.28 361.91,284.28 357.57,284.29 353.23,284.29 348.89,284.29 344.55,284.3 340.21,284.31 335.87,284.32 331.52,284.33 327.18,284.34 322.84,284.35 318.5,284.36 314.16,284.38 309.82,284.4 305.48,284.42 301.13,284.43 296.79,284.46 292.45,284.48 288.11,284.5" fill="#999999" fill-opacity="0.4"/>
<polyline points="288.11,284.11 292.45,284.1 296.79,284.1 301.13,284.09 305.48,284.08 309.82,284.07 314.16,284.06 318.5,284.06 322.84,284.05 327.18,284.04 331.52,284.03 335.87,284.02 340.21,284.01 344.55,284.01 348.89,284 353.23,283.99 357.57,283.98 361.91,283.97 366.26,283.97 370.6,283.96 374.94,283.95 379.28,283.94 383.62,283.93 387.96,283.93 392.31,283.92" fill="none" stroke="#3f86bd" stroke-width="2.5" stroke-linejoin="round" stroke-linecap="butt"/>
<polygon points="288.11,283.72 292.45,283.72 296.79,283.72 301.13,283.72 305.48,283.71 309.82,283.71 314.16,283.7 318.5,283.69 322.84,283.68 327.18,283.67 331.52,283.65 335.87,283.64 340.21,283.62 344.55,283.61 348.89,283.59 353.23,283.57 357.57,283.55 361.91,283.53 366.26,283.5 370.6,283.48 374.94,283.45 379.28,283.42 383.62,283.4 387.96,283.36 392.31,283.33 392.31,284.11 387.96,284.11 383.62,284.11 379.28,284.12 374.94,284.12 370.6,284.13 366.26,284.14 361.91,284.15 357.57,284.16 353.23,284.17 348.89,284.18 344.55,284.19 340.21,284.21 335.87,284.23 331.52,284.24 327.18,284.26 322.84,284.29 318.5,284.31 314.16,284.33 309.82,284.36 305.48,284.38 301.13,284.41 296.79,284.44 292.45,284.47 288.11,284.5" fill="#999999" fill-opacity="0.4"/>
<polyline points="288.11,284.11 292.45,284.1 296.79,284.08 301.13,284.06 305.48,284.05 309.82,284.03 314.16,284.01 318.5,284 322.84,283.98 327.18,283.97 331.52,283.95 335.87,283.93 340.21,283.92 344.55,283.9 348.89,283.88 353.23,283.87 357.57,283.85 361.91,283.84 366.26,283.82 370.6,283.8 374.94,283.79 379.28,283.77 383.62,283.75 387.96,283.74 392.31,283.72" fill="none" stroke="#f0a052" stroke-width="2.5" stroke-linejoin="round" stroke-linecap="butt"/>
<polygon points="286.74,283.72 291.11,283.72 295.48,283.72 299.85,283.72 304.22,283.71 308.59,283.71 312.96,283.7 317.33,283.69 321.7,283.68 326.07,283.67 330.44,283.65 334.81,283.64 339.18,283.62 343.55,283.61 347.92,283.59 352.29,283.57 356.66,283.55 361.03,283.53 365.4,283.5 369.77,283.48 374.14,283.45 378.51,283.42 382.88,283.4 387.25,283.36 391.62,283.33 391.62,284.11 387.25,284.11 382.88,284.11 378.51,284.12 374.14,284.12 369.77,284.13 365.4,284.14 361.03,284.15 356.66,284.16 352.29,284.17 347.92,284.18 343.55,284.19 339.18,284.21 334.81,284.23 330.44,284.24 326.07,284.26 321.7,284.29 317.33,284.31 312.96,284.33 308.59,284.36 304.22,284.38 299.85,284.41 295.48,284.44 291.11,284.47 286.74,284.5" fill="#999999" fill-opacity="0.4"/>
<polyline points="286.74,284.11 291.11,284.1 295.48,284.08 299.85,284.06 304.22,284.05 308.59,284.03 312.96,284.01 317.33,284 321.7,283.98 326.07,283.97 330.44,283.95 334.81,283.93 339.18,283.92 343.55,283.9 347.92,283.88 352.29,283.87 356.66,283.85 361.03,283.84 365.4,283.82 369.77,283.8 374.14,283.79 378.51,283.77 382.88,283.75 387.25,283.74 391.62,283.72" fill="none" stroke="#dc4a3e" stroke-width="2.5" stroke-linejoin="round" stroke-linecap="butt"/>
<rect x="281.9" y="187" width="114" height="113.6" fill="none" stroke="#bdbdbd" stroke-width="1"/>
<g><circle cx="436.43" cy="292.32" r="1" fill="#d29866"/><circle cx="480.98" cy="288.46" r="1" fill="#d29866"/><circle cx="460.47" cy="290.61" r="1" fill="#b4504e"/><circle cx="506.25" cy="286.78" r="1" fill="#b4504e"/><circle cx="492.87" cy="287.01" r="1" fill="#b4504e"/><circle cx="438.52" cy="294.28" r="1" fill="#b4504e"/><circle cx="407.92" cy="294.66" r="1" fill="#5a86a4"/><circle cx="442.01" cy="291.36" r="1" fill="#d29866"/><circle cx="460.73" cy="291" r="1" fill="#5a86a4"/><circle cx="502.78" cy="286.99" r="1" fill="#b4504e"/><circle cx="501.63" cy="286.21" r="1" fill="#d29866"/><circle cx="435.15" cy="293.11" r="1" fill="#d29866"/><circle cx="416.72" cy="293.04" r="1" fill="#5a86a4"/><circle cx="491.08" cy="288.32" r="1" fill="#d29866"/><circle cx="464.69" cy="290.02" r="1" fill="#5a86a4"/><circle cx="416.78" cy="293.86" r="1" fill="#d29866"/><circle cx="491.43" cy="288.61" r="1" fill="#b4504e"/><circle cx="499.21" cy="286.86" r="1" fill="#5a86a4"/><circle cx="429.35" cy="293.32" r="1" fill="#d29866"/><circle cx="459.96" cy="292.63" r="1" fill="#b4504e"/><circle cx="505.25" cy="286.34" r="1" fill="#b4504e"/><circle cx="405.38" cy="293.65" r="1" fill="#b4504e"/><circle cx="434.37" cy="290.9" r="1" fill="#d29866"/><circle cx="441.46" cy="291.34" r="1" fill="#d29866"/><circle cx="500.86" cy="287.25" r="1" fill="#5a86a4"/><circle cx="457.28" cy="291.44" r="1" fill="#5a86a4"/><circle cx="491.93" cy="288.64" r="1" fill="#5a86a4"/><circle cx="493.7" cy="286.39" r="1" fill="#b4504e"/><circle cx="503.27" cy="286.8" r="1" fill="#5a86a4"/><circle cx="417.59" cy="294.68" r="1" fill="#5a86a4"/><circle cx="503.12" cy="287.91" r="1" fill="#b4504e"/><circle cx="506.26" cy="287.46" r="1" fill="#5a86a4"/><circle cx="444.57" cy="291" r="1" fill="#d29866"/><circle cx="420.32" cy="294.86" r="1" fill="#b4504e"/><circle cx="423.25" cy="290.41" r="1" fill="#5a86a4"/><circle cx="445.58" cy="290.56" r="1" fill="#5a86a4"/><circle cx="450.53" cy="290.12" r="1" fill="#b4504e"/><circle cx="461.48" cy="289.91" r="1" fill="#d29866"/><circle cx="412.53" cy="292.39" r="1" fill="#d29866"/><circle cx="428.33" cy="292.73" r="1" fill="#b4504e"/><circle cx="411.31" cy="292.99" r="1" fill="#b4504e"/><circle cx="486.89" cy="288.48" r="1" fill="#d29866"/><circle cx="428.08" cy="294.11" r="1" fill="#d29866"/><circle cx="486.29" cy="286.62" r="1" fill="#b4504e"/><circle cx="425.38" cy="293.39" r="1" fill="#d29866"/><circle cx="479.76" cy="287.89" r="1" fill="#b4504e"/><circle cx="464.91" cy="290.04" r="1" fill="#b4504e"/><circle cx="421.49" cy="293.4" r="1" fill="#d29866"/><circle cx="459.35" cy="291.8" r="1" fill="#b4504e"/><circle cx="509.87" cy="284.31" r="1" fill="#d29866"/><circle cx="473.36" cy="288.26" r="1" fill="#5a86a4"/><circle cx="471.18" cy="288.3" r="1" fill="#b4504e"/><circle cx="412.42" cy="296.44" r="1" fill="#5a86a4"/><circle cx="429.71" cy="293.5" r="1" fill="#5a86a4"/><circle cx="453.74" cy="292.08" r="1" fill="#d29866"/><circle cx="490.7" cy="288.05" r="1" fill="#d29866"/><circle cx="496.33" cy="286.21" r="1" fill="#b4504e"/><circle cx="410.64" cy="294.36" r="1" fill="#5a86a4"/><circle cx="490.28" cy="290.43" r="1" fill="#b4504e"/><circle cx="444.86" cy="289.94" r="1" fill="#d29866"/><circle cx="440.36" cy="291.93" r="1" fill="#b4504e"/><circle cx="497.47" cy="288.09" r="1" fill="#d29866"/><circle cx="434.35" cy="291.73" r="1" fill="#d29866"/><circle cx="419.24" cy="295.63" r="1" fill="#b4504e"/><circle cx="478.12" cy="288.87" r="1" fill="#b4504e"/><circle cx="427.55" cy="292.76" r="1" fill="#5a86a4"/><circle cx="477.14" cy="291.53" r="1" fill="#5a86a4"/><circle cx="456.76" cy="290.29" r="1" fill="#5a86a4"/><circle cx="422.02" cy="294.54" r="1" fill="#b4504e"/><circle cx="449.52" cy="290.83" r="1" fill="#d29866"/><circle cx="477.22" cy="288.68" r="1" fill="#5a86a4"/><circle cx="413.3" cy="294.92" r="1" fill="#5a86a4"/><circle cx="447.39" cy="290.84" r="1" fill="#b4504e"/><circle cx="441.54" cy="290.83" r="1" fill="#d29866"/><circle cx="500.72" cy="285.21" r="1" fill="#d29866"/><circle cx="506.56" cy="287.03" r="1" fill="#5a86a4"/><circle cx="442.13" cy="291.8" r="1" fill="#d29866"/><circle cx="414.87" cy="294.61" r="1" fill="#d29866"/><circle cx="456.36" cy="291.31" r="1" fill="#d29866"/><circle cx="507" cy="286.94" r="1" fill="#5a86a4"/><circle cx="456.6" cy="290.52" r="1" fill="#b4504e"/><circle cx="482.3" cy="288.89" r="1" fill="#d29866"/><circle cx="415.72" cy="294.8" r="1" fill="#d29866"/><circle cx="487.8" cy="288.72" r="1" fill="#5a86a4"/><circle cx="479.4" cy="290.3" r="1" fill="#b4504e"/><circle cx="453.33" cy="291.9" r="1" fill="#5a86a4"/><circle cx="459.68" cy="290.61" r="1" fill="#b4504e"/><circle cx="503.38" cy="286.46" r="1" fill="#5a86a4"/><circle cx="410.36" cy="294.97" r="1" fill="#5a86a4"/><circle cx="497.33" cy="289.96" r="1" fill="#5a86a4"/><circle cx="424.17" cy="293.25" r="1" fill="#5a86a4"/><circle cx="480.02" cy="288.24" r="1" fill="#b4504e"/><circle cx="421.7" cy="293.4" r="1" fill="#5a86a4"/><circle cx="507.69" cy="285.74" r="1" fill="#b4504e"/><circle cx="488.65" cy="287.49" r="1" fill="#5a86a4"/><circle cx="437.19" cy="292.06" r="1" fill="#d29866"/><circle cx="501.42" cy="286.75" r="1" fill="#5a86a4"/><circle cx="437.74" cy="293.62" r="1" fill="#5a86a4"/><circle cx="425.44" cy="292.92" r="1" fill="#5a86a4"/><circle cx="490.5" cy="287.46" r="1" fill="#b4504e"/><circle cx="495.99" cy="288.06" r="1" fill="#b4504e"/><circle cx="493.33" cy="287.78" r="1" fill="#d29866"/><circle cx="467.35" cy="289.76" r="1" fill="#d29866"/><circle cx="425.33" cy="291.62" r="1" fill="#b4504e"/><circle cx="465.29" cy="289.82" r="1" fill="#b4504e"/><circle cx="408.22" cy="293.57" r="1" fill="#d29866"/><circle cx="440.36" cy="292.07" r="1" fill="#5a86a4"/><circle cx="491.17" cy="288.98" r="1" fill="#d29866"/><circle cx="449.13" cy="291.35" r="1" fill="#d29866"/><circle cx="408.75" cy="291.56" r="1" fill="#5a86a4"/><circle cx="457.36" cy="290.74" r="1" fill="#b4504e"/><circle cx="431.13" cy="292.23" r="1" fill="#b4504e"/><circle cx="496.85" cy="287.09" r="1" fill="#5a86a4"/><circle cx="482.96" cy="288.29" r="1" fill="#d29866"/><circle cx="499.87" cy="287.64" r="1" fill="#d29866"/><circle cx="458.67" cy="290.92" r="1" fill="#b4504e"/><circle cx="464.27" cy="288.89" r="1" fill="#d29866"/><circle cx="494.09" cy="287.12" r="1" fill="#d29866"/><circle cx="419.1" cy="294.24" r="1" fill="#5a86a4"/><circle cx="480.55" cy="290.68" r="1" fill="#5a86a4"/><circle cx="422.88" cy="294.12" r="1" fill="#5a86a4"/><circle cx="457.98" cy="292.23" r="1" fill="#d29866"/><circle cx="436.77" cy="292" r="1" fill="#d29866"/><circle cx="500.67" cy="286.51" r="1" fill="#5a86a4"/><circle cx="439.75" cy="291.04" r="1" fill="#d29866"/><circle cx="496.92" cy="285.48" r="1" fill="#5a86a4"/><circle cx="450.99" cy="289.66" r="1" fill="#5a86a4"/><circle cx="472.06" cy="290.49" r="1" fill="#d29866"/><circle cx="488.55" cy="288.61" r="1" fill="#5a86a4"/><circle cx="417.55" cy="293.34" r="1" fill="#b4504e"/></g>
<polygon points="406.61,294.24 410.95,293.92 415.29,293.61 419.63,293.29 423.98,292.96 428.32,292.64 432.66,292.32 437,291.99 441.34,291.67 445.68,291.34 450.02,291.01 454.37,290.68 458.71,290.35 463.05,290.01 467.39,289.68 471.73,289.34 476.07,289 480.41,288.66 484.76,288.32 489.1,287.98 493.44,287.64 497.78,287.3 502.12,286.95 506.46,286.6 510.81,286.25 510.81,287.03 506.46,287.35 502.12,287.67 497.78,287.99 493.44,288.31 489.1,288.63 484.76,288.96 480.41,289.28 476.07,289.61 471.73,289.94 467.39,290.27 463.05,290.6 458.71,290.93 454.37,291.26 450.02,291.6 445.68,291.93 441.34,292.27 437,292.61 432.66,292.95 428.32,293.29 423.98,293.64 419.63,293.98 415.29,294.33 410.95,294.67 406.61,295.02" fill="#999999" fill-opacity="0.4"/>
<polyline points="406.61,294.63 410.95,294.3 415.29,293.97 419.63,293.63 423.98,293.3 428.32,292.97 432.66,292.63 437,292.3 441.34,291.97 445.68,291.64 450.02,291.3 454.37,290.97 458.71,290.64 463.05,290.31 467.39,289.97 471.73,289.64 476.07,289.31 480.41,288.97 484.76,288.64 489.1,288.31 493.44,287.98 497.78,287.64 502.12,287.31 506.46,286.98 510.81,286.64" fill="none" stroke="#3f86bd" stroke-width="2.5" stroke-linejoin="round" stroke-linecap="butt"/>
<polygon points="406.61,294.24 410.95,293.92 415.29,293.59 419.63,293.26 423.98,292.93 428.32,292.6 432.66,292.27 437,291.94 441.34,291.6 445.68,291.26 450.02,290.93 454.37,290.59 458.71,290.25 463.05,289.91 467.39,289.56 471.73,289.22 476.07,288.87 480.41,288.53 484.76,288.18 489.1,287.83 493.44,287.48 497.78,287.13 502.12,286.77 506.46,286.42 510.81,286.06 510.81,286.84 506.46,287.16 502.12,287.49 497.78,287.82 493.44,288.15 489.1,288.48 484.76,288.81 480.41,289.15 476.07,289.48 471.73,289.82 467.39,290.15 463.05,290.49 458.71,290.83 454.37,291.17 450.02,291.52 445.68,291.86 441.34,292.21 437,292.55 432.66,292.9 428.32,293.25 423.98,293.6 419.63,293.96 415.29,294.31 410.95,294.66 406.61,295.02" fill="#999999" fill-opacity="0.4"/>
<polyline points="406.61,294.63 410.95,294.29 415.29,293.95 419.63,293.61 423.98,293.27 428.32,292.93 432.66,292.59 437,292.24 441.34,291.9 445.68,291.56 450.02,291.22 454.37,290.88 458.71,290.54 463.05,290.2 467.39,289.86 471.73,289.52 476.07,289.18 480.41,288.84 484.76,288.5 489.1,288.15 493.44,287.81 497.78,287.47 502.12,287.13 506.46,286.79 510.81,286.45" fill="none" stroke="#f0a052" stroke-width="2.5" stroke-linejoin="round" stroke-linecap="butt"/>
<polygon points="404.89,294.44 409.26,294.1 413.62,293.77 417.99,293.43 422.35,293.09 426.72,292.76 431.08,292.42 435.45,292.07 439.81,291.73 444.18,291.39 448.55,291.04 452.91,290.69 457.28,290.35 461.64,290 466.01,289.64 470.37,289.29 474.74,288.94 479.1,288.58 483.47,288.23 487.83,287.87 492.2,287.51 496.56,287.15 500.93,286.79 505.29,286.42 509.66,286.06 509.66,286.84 505.29,287.17 500.93,287.51 496.56,287.84 492.2,288.18 487.83,288.52 483.47,288.86 479.1,289.2 474.74,289.54 470.37,289.89 466.01,290.23 461.64,290.58 457.28,290.93 452.91,291.28 448.55,291.63 444.18,291.98 439.81,292.34 435.45,292.69 431.08,293.05 426.72,293.41 422.35,293.77 417.99,294.13 413.62,294.49 409.26,294.85 404.89,295.22" fill="#999999" fill-opacity="0.4"/>
<polyline points="404.89,294.83 409.26,294.48 413.62,294.13 417.99,293.78 422.35,293.43 426.72,293.08 431.08,292.73 435.45,292.38 439.81,292.03 444.18,291.68 448.55,291.34 452.91,290.99 457.28,290.64 461.64,290.29 466.01,289.94 470.37,289.59 474.74,289.24 479.1,288.89 483.47,288.54 487.83,288.19 492.2,287.85 496.56,287.5 500.93,287.15 505.29,286.8 509.66,286.45" fill="none" stroke="#dc4a3e" stroke-width="2.5" stroke-linejoin="round" stroke-linecap="butt"/>
<rect x="400.4" y="187" width="114" height="113.6" fill="none" stroke="#bdbdbd" stroke-width="1"/>
<line x1="60.6" y1="339.6" x2="60.6" y2="440.3" stroke="#f1f1f1" stroke-width="0.9"/>
<line x1="84" y1="339.6" x2="84" y2="440.3" stroke="#f1f1f1" stroke-width="0.9"/>
<line x1="107.4" y1="339.6" x2="107.4" y2="440.3" stroke="#f1f1f1" stroke-width="0.9"/>
<line x1="130.8" y1="339.6" x2="130.8" y2="440.3" stroke="#f1f1f1" stroke-width="0.9"/>
<line x1="44.6" y1="425.25" x2="145.1" y2="425.25" stroke="#f1f1f1" stroke-width="0.9"/>
<line x1="44.6" y1="393.95" x2="145.1" y2="393.95" stroke="#f1f1f1" stroke-width="0.9"/>
<line x1="44.6" y1="362.65" x2="145.1" y2="362.65" stroke="#f1f1f1" stroke-width="0.9"/>
<line x1="48.9" y1="339.6" x2="48.9" y2="440.3" stroke="#e8e8e8" stroke-width="0.9"/>
<line x1="72.3" y1="339.6" x2="72.3" y2="440.3" stroke="#e8e8e8" stroke-width="0.9"/>
<line x1="95.7" y1="339.6" x2="95.7" y2="440.3" stroke="#e8e8e8" stroke-width="0.9"/>
<line x1="119.1" y1="339.6" x2="119.1" y2="440.3" stroke="#e8e8e8" stroke-width="0.9"/>
<line x1="142.5" y1="339.6" x2="142.5" y2="440.3" stroke="#e8e8e8" stroke-width="0.9"/>
<line x1="44.6" y1="409.6" x2="145.1" y2="409.6" stroke="#e8e8e8" stroke-width="0.9"/>
<line x1="44.6" y1="378.3" x2="145.1" y2="378.3" stroke="#e8e8e8" stroke-width="0.9"/>
<line x1="44.6" y1="347" x2="145.1" y2="347" stroke="#e8e8e8" stroke-width="0.9"/>
<text x="94.85" y="335.4" font-size="7.1" text-anchor="middle" font-weight="normal" fill="#1a1a1a" stroke="#1a1a1a" stroke-width="0.2">Epithelial hypoM</text>
<text x="48.9" y="450.1" font-size="6.8" text-anchor="middle" font-weight="normal" fill="#1e1e1e" stroke="#1e1e1e" stroke-width="0.2">0.00</text>
<text x="72.3" y="450.1" font-size="6.8" text-anchor="middle" font-weight="normal" fill="#1e1e1e" stroke="#1e1e1e" stroke-width="0.2">0.25</text>
<text x="95.7" y="450.1" font-size="6.8" text-anchor="middle" font-weight="normal" fill="#1e1e1e" stroke="#1e1e1e" stroke-width="0.2">0.50</text>
<text x="119.1" y="450.1" font-size="6.8" text-anchor="middle" font-weight="normal" fill="#1e1e1e" stroke="#1e1e1e" stroke-width="0.2">0.75</text>
<text x="142.5" y="450.1" font-size="6.8" text-anchor="middle" font-weight="normal" fill="#1e1e1e" stroke="#1e1e1e" stroke-width="0.2">1.00</text>
<text x="40.3" y="412.05" font-size="6.8" text-anchor="end" font-weight="normal" fill="#1e1e1e" stroke="#1e1e1e" stroke-width="0.2">0.6</text>
<text x="40.3" y="380.75" font-size="6.8" text-anchor="end" font-weight="normal" fill="#1e1e1e" stroke="#1e1e1e" stroke-width="0.2">0.7</text>
<text x="40.3" y="349.45" font-size="6.8" text-anchor="end" font-weight="normal" fill="#1e1e1e" stroke="#1e1e1e" stroke-width="0.2">0.8</text>
<line x1="183.9" y1="339.6" x2="183.9" y2="440.3" stroke="#f1f1f1" stroke-width="0.9"/>
<line x1="207.3" y1="339.6" x2="207.3" y2="440.3" stroke="#f1f1f1" stroke-width="0.9"/>
<line x1="230.7" y1="339.6" x2="230.7" y2="440.3" stroke="#f1f1f1" stroke-width="0.9"/>
<line x1="254.1" y1="339.6" x2="254.1" y2="440.3" stroke="#f1f1f1" stroke-width="0.9"/>
<line x1="167.9" y1="427.78" x2="268" y2="427.78" stroke="#f1f1f1" stroke-width="0.9"/>
<line x1="167.9" y1="411.74" x2="268" y2="411.74" stroke="#f1f1f1" stroke-width="0.9"/>
<line x1="167.9" y1="395.7" x2="268" y2="395.7" stroke="#f1f1f1" stroke-width="0.9"/>
<line x1="167.9" y1="379.66" x2="268" y2="379.66" stroke="#f1f1f1" stroke-width="0.9"/>
<line x1="167.9" y1="363.62" x2="268" y2="363.62" stroke="#f1f1f1" stroke-width="0.9"/>
<line x1="167.9" y1="347.58" x2="268" y2="347.58" stroke="#f1f1f1" stroke-width="0.9"/>
<line x1="172.2" y1="339.6" x2="172.2" y2="440.3" stroke="#e8e8e8" stroke-width="0.9"/>
<line x1="195.6" y1="339.6" x2="195.6" y2="440.3" stroke="#e8e8e8" stroke-width="0.9"/>
<line x1="219" y1="339.6" x2="219" y2="440.3" stroke="#e8e8e8" stroke-width="0.9"/>
<line x1="242.4" y1="339.6" x2="242.4" y2="440.3" stroke="#e8e8e8" stroke-width="0.9"/>
<line x1="265.8" y1="339.6" x2="265.8" y2="440.3" stroke="#e8e8e8" stroke-width="0.9"/>
<line x1="167.9" y1="435.8" x2="268" y2="435.8" stroke="#e8e8e8" stroke-width="0.9"/>
<line x1="167.9" y1="419.76" x2="268" y2="419.76" stroke="#e8e8e8" stroke-width="0.9"/>
<line x1="167.9" y1="403.72" x2="268" y2="403.72" stroke="#e8e8e8" stroke-width="0.9"/>
<line x1="167.9" y1="387.68" x2="268" y2="387.68" stroke="#e8e8e8" stroke-width="0.9"/>
<line x1="167.9" y1="371.64" x2="268" y2="371.64" stroke="#e8e8e8" stroke-width="0.9"/>
<line x1="167.9" y1="355.6" x2="268" y2="355.6" stroke="#e8e8e8" stroke-width="0.9"/>
<text x="217.95" y="335.4" font-size="7.1" text-anchor="middle" font-weight="normal" fill="#1a1a1a" stroke="#1a1a1a" stroke-width="0.2">Immune hypoM</text>
<text x="172.2" y="450.1" font-size="6.8" text-anchor="middle" font-weight="normal" fill="#1e1e1e" stroke="#1e1e1e" stroke-width="0.2">0.00</text>
<text x="195.6" y="450.1" font-size="6.8" text-anchor="middle" font-weight="normal" fill="#1e1e1e" stroke="#1e1e1e" stroke-width="0.2">0.25</text>
<text x="219" y="450.1" font-size="6.8" text-anchor="middle" font-weight="normal" fill="#1e1e1e" stroke="#1e1e1e" stroke-width="0.2">0.50</text>
<text x="242.4" y="450.1" font-size="6.8" text-anchor="middle" font-weight="normal" fill="#1e1e1e" stroke="#1e1e1e" stroke-width="0.2">0.75</text>
<text x="265.8" y="450.1" font-size="6.8" text-anchor="middle" font-weight="normal" fill="#1e1e1e" stroke="#1e1e1e" stroke-width="0.2">1.00</text>
<text x="163.6" y="438.25" font-size="6.8" text-anchor="end" font-weight="normal" fill="#1e1e1e" stroke="#1e1e1e" stroke-width="0.2">0.25</text>
<text x="163.6" y="422.21" font-size="6.8" text-anchor="end" font-weight="normal" fill="#1e1e1e" stroke="#1e1e1e" stroke-width="0.2">0.30</text>
<text x="163.6" y="406.17" font-size="6.8" text-anchor="end" font-weight="normal" fill="#1e1e1e" stroke="#1e1e1e" stroke-width="0.2">0.35</text>
<text x="163.6" y="390.13" font-size="6.8" text-anchor="end" font-weight="normal" fill="#1e1e1e" stroke="#1e1e1e" stroke-width="0.2">0.40</text>
<text x="163.6" y="374.09" font-size="6.8" text-anchor="end" font-weight="normal" fill="#1e1e1e" stroke="#1e1e1e" stroke-width="0.2">0.45</text>
<text x="163.6" y="358.05" font-size="6.8" text-anchor="end" font-weight="normal" fill="#1e1e1e" stroke="#1e1e1e" stroke-width="0.2">0.50</text>
<line x1="306.5" y1="339.6" x2="306.5" y2="440.3" stroke="#f1f1f1" stroke-width="0.9"/>
<line x1="329.9" y1="339.6" x2="329.9" y2="440.3" stroke="#f1f1f1" stroke-width="0.9"/>
<line x1="353.3" y1="339.6" x2="353.3" y2="440.3" stroke="#f1f1f1" stroke-width="0.9"/>
<line x1="376.7" y1="339.6" x2="376.7" y2="440.3" stroke="#f1f1f1" stroke-width="0.9"/>
<line x1="290.5" y1="431.17" x2="390.8" y2="431.17" stroke="#f1f1f1" stroke-width="0.9"/>
<line x1="290.5" y1="406.64" x2="390.8" y2="406.64" stroke="#f1f1f1" stroke-width="0.9"/>
<line x1="290.5" y1="382.1" x2="390.8" y2="382.1" stroke="#f1f1f1" stroke-width="0.9"/>
<line x1="290.5" y1="357.57" x2="390.8" y2="357.57" stroke="#f1f1f1" stroke-width="0.9"/>
<line x1="294.8" y1="339.6" x2="294.8" y2="440.3" stroke="#e8e8e8" stroke-width="0.9"/>
<line x1="318.2" y1="339.6" x2="318.2" y2="440.3" stroke="#e8e8e8" stroke-width="0.9"/>
<line x1="341.6" y1="339.6" x2="341.6" y2="440.3" stroke="#e8e8e8" stroke-width="0.9"/>
<line x1="365" y1="339.6" x2="365" y2="440.3" stroke="#e8e8e8" stroke-width="0.9"/>
<line x1="388.4" y1="339.6" x2="388.4" y2="440.3" stroke="#e8e8e8" stroke-width="0.9"/>
<line x1="290.5" y1="418.91" x2="390.8" y2="418.91" stroke="#e8e8e8" stroke-width="0.9"/>
<line x1="290.5" y1="394.37" x2="390.8" y2="394.37" stroke="#e8e8e8" stroke-width="0.9"/>
<line x1="290.5" y1="369.84" x2="390.8" y2="369.84" stroke="#e8e8e8" stroke-width="0.9"/>
<line x1="290.5" y1="345.3" x2="390.8" y2="345.3" stroke="#e8e8e8" stroke-width="0.9"/>
<text x="340.65" y="335.4" font-size="7.1" text-anchor="middle" font-weight="normal" fill="#1a1a1a" stroke="#1a1a1a" stroke-width="0.2">Distal epithelial hyperM</text>
<text x="294.8" y="450.1" font-size="6.8" text-anchor="middle" font-weight="normal" fill="#1e1e1e" stroke="#1e1e1e" stroke-width="0.2">0.00</text>
<text x="318.2" y="450.1" font-size="6.8" text-anchor="middle" font-weight="normal" fill="#1e1e1e" stroke="#1e1e1e" stroke-width="0.2">0.25</text>
<text x="341.6" y="450.1" font-size="6.8" text-anchor="middle" font-weight="normal" fill="#1e1e1e" stroke="#1e1e1e" stroke-width="0.2">0.50</text>
<text x="365" y="450.1" font-size="6.8" text-anchor="middle" font-weight="normal" fill="#1e1e1e" stroke="#1e1e1e" stroke-width="0.2">0.75</text>
<text x="388.4" y="450.1" font-size="6.8" text-anchor="middle" font-weight="normal" fill="#1e1e1e" stroke="#1e1e1e" stroke-width="0.2">1.00</text>
<text x="286.2" y="421.36" font-size="6.8" text-anchor="end" font-weight="normal" fill="#1e1e1e" stroke="#1e1e1e" stroke-width="0.2">0.25</text>
<text x="286.2" y="396.82" font-size="6.8" text-anchor="end" font-weight="normal" fill="#1e1e1e" stroke="#1e1e1e" stroke-width="0.2">0.30</text>
<text x="286.2" y="372.29" font-size="6.8" text-anchor="end" font-weight="normal" fill="#1e1e1e" stroke="#1e1e1e" stroke-width="0.2">0.35</text>
<text x="286.2" y="347.75" font-size="6.8" text-anchor="end" font-weight="normal" fill="#1e1e1e" stroke="#1e1e1e" stroke-width="0.2">0.40</text>
<line x1="429" y1="339.6" x2="429" y2="440.3" stroke="#f1f1f1" stroke-width="0.9"/>
<line x1="452.4" y1="339.6" x2="452.4" y2="440.3" stroke="#f1f1f1" stroke-width="0.9"/>
<line x1="475.8" y1="339.6" x2="475.8" y2="440.3" stroke="#f1f1f1" stroke-width="0.9"/>
<line x1="499.2" y1="339.6" x2="499.2" y2="440.3" stroke="#f1f1f1" stroke-width="0.9"/>
<line x1="413" y1="433.73" x2="514.1" y2="433.73" stroke="#f1f1f1" stroke-width="0.9"/>
<line x1="413" y1="404.07" x2="514.1" y2="404.07" stroke="#f1f1f1" stroke-width="0.9"/>
<line x1="413" y1="374.42" x2="514.1" y2="374.42" stroke="#f1f1f1" stroke-width="0.9"/>
<line x1="413" y1="344.77" x2="514.1" y2="344.77" stroke="#f1f1f1" stroke-width="0.9"/>
<line x1="417.3" y1="339.6" x2="417.3" y2="440.3" stroke="#e8e8e8" stroke-width="0.9"/>
<line x1="440.7" y1="339.6" x2="440.7" y2="440.3" stroke="#e8e8e8" stroke-width="0.9"/>
<line x1="464.1" y1="339.6" x2="464.1" y2="440.3" stroke="#e8e8e8" stroke-width="0.9"/>
<line x1="487.5" y1="339.6" x2="487.5" y2="440.3" stroke="#e8e8e8" stroke-width="0.9"/>
<line x1="510.9" y1="339.6" x2="510.9" y2="440.3" stroke="#e8e8e8" stroke-width="0.9"/>
<line x1="413" y1="418.9" x2="514.1" y2="418.9" stroke="#e8e8e8" stroke-width="0.9"/>
<line x1="413" y1="389.25" x2="514.1" y2="389.25" stroke="#e8e8e8" stroke-width="0.9"/>
<line x1="413" y1="359.6" x2="514.1" y2="359.6" stroke="#e8e8e8" stroke-width="0.9"/>
<text x="463.55" y="335.4" font-size="7.1" text-anchor="middle" font-weight="normal" fill="#1a1a1a" stroke="#1a1a1a" stroke-width="0.2">Proximal epithelial hyperM</text>
<text x="417.3" y="450.1" font-size="6.8" text-anchor="middle" font-weight="normal" fill="#1e1e1e" stroke="#1e1e1e" stroke-width="0.2">0.00</text>
<text x="440.7" y="450.1" font-size="6.8" text-anchor="middle" font-weight="normal" fill="#1e1e1e" stroke="#1e1e1e" stroke-width="0.2">0.25</text>
<text x="464.1" y="450.1" font-size="6.8" text-anchor="middle" font-weight="normal" fill="#1e1e1e" stroke="#1e1e1e" stroke-width="0.2">0.50</text>
<text x="487.5" y="450.1" font-size="6.8" text-anchor="middle" font-weight="normal" fill="#1e1e1e" stroke="#1e1e1e" stroke-width="0.2">0.75</text>
<text x="510.9" y="450.1" font-size="6.8" text-anchor="middle" font-weight="normal" fill="#1e1e1e" stroke="#1e1e1e" stroke-width="0.2">1.00</text>
<text x="408.7" y="421.35" font-size="6.8" text-anchor="end" font-weight="normal" fill="#1e1e1e" stroke="#1e1e1e" stroke-width="0.2">0.20</text>
<text x="408.7" y="391.7" font-size="6.8" text-anchor="end" font-weight="normal" fill="#1e1e1e" stroke="#1e1e1e" stroke-width="0.2">0.25</text>
<text x="408.7" y="362.05" font-size="6.8" text-anchor="end" font-weight="normal" fill="#1e1e1e" stroke="#1e1e1e" stroke-width="0.2">0.30</text>
<text x="7.8" y="391" font-size="8.6" text-anchor="middle" font-weight="normal" fill="#111" transform="rotate(-90 7.8 391)" stroke="#111" stroke-width="0.3">Mean β</text>
<text x="16" y="390.4" font-size="9.45" text-anchor="middle" font-weight="normal" fill="#c3c187" transform="rotate(-90 16 390.4)" stroke="#c3c187" stroke-width="0.2">Cervical samples</text>
<text x="25.9" y="390.4" font-size="9.2" text-anchor="middle" font-weight="normal" fill="#1a1a1a" transform="rotate(-90 25.9 390.4)" stroke="#1a1a1a" stroke-width="0.2">(raw)</text>
<text x="280.3" y="460.3" font-size="8.7" text-anchor="middle" font-weight="normal" fill="#1a1a1a" stroke="#1a1a1a" stroke-width="0.2">Immune cell proportion</text>
<g><circle cx="80.3" cy="382.01" r="1" fill="#eea866"/><circle cx="128.73" cy="364.34" r="1" fill="#d95652"/><circle cx="123.3" cy="352.11" r="1" fill="#eea866"/><circle cx="88.74" cy="388" r="1" fill="#66aad6"/><circle cx="93.96" cy="358.31" r="1" fill="#66aad6"/><circle cx="48.99" cy="398.82" r="1" fill="#66aad6"/><circle cx="65.41" cy="381.64" r="1" fill="#66aad6"/><circle cx="61.62" cy="393.11" r="1" fill="#eea866"/><circle cx="114.45" cy="368.98" r="1" fill="#eea866"/><circle cx="79.97" cy="393.94" r="1" fill="#66aad6"/><circle cx="138.94" cy="342.32" r="1" fill="#d95652"/><circle cx="91.04" cy="377.86" r="1" fill="#eea866"/><circle cx="83.83" cy="375.79" r="1" fill="#eea866"/><circle cx="86.11" cy="371.46" r="1" fill="#66aad6"/><circle cx="130.26" cy="352.68" r="1" fill="#66aad6"/><circle cx="80.93" cy="362.05" r="1" fill="#66aad6"/><circle cx="96.88" cy="364.28" r="1" fill="#66aad6"/><circle cx="49.94" cy="417.52" r="1" fill="#d95652"/><circle cx="49.26" cy="386.87" r="1" fill="#66aad6"/><circle cx="128.81" cy="357.49" r="1" fill="#d95652"/><circle cx="102.73" cy="359.27" r="1" fill="#66aad6"/><circle cx="53.85" cy="376.37" r="1" fill="#66aad6"/><circle cx="85.39" cy="367.91" r="1" fill="#66aad6"/><circle cx="72.24" cy="390.48" r="1" fill="#d95652"/><circle cx="76.15" cy="406.68" r="1" fill="#eea866"/><circle cx="87.09" cy="391.15" r="1" fill="#eea866"/><circle cx="64.61" cy="404.81" r="1" fill="#eea866"/><circle cx="49.38" cy="425.34" r="1" fill="#d95652"/><circle cx="59.32" cy="396.9" r="1" fill="#eea866"/><circle cx="50.19" cy="377.63" r="1" fill="#66aad6"/><circle cx="138.28" cy="345.4" r="1" fill="#d95652"/><circle cx="65.89" cy="403.11" r="1" fill="#eea866"/><circle cx="57.04" cy="398.09" r="1" fill="#d95652"/><circle cx="57.96" cy="379.18" r="1" fill="#66aad6"/><circle cx="78.55" cy="379.74" r="1" fill="#eea866"/><circle cx="58.9" cy="395.42" r="1" fill="#66aad6"/><circle cx="97.01" cy="356.87" r="1" fill="#66aad6"/><circle cx="86" cy="374.84" r="1" fill="#d95652"/><circle cx="87.5" cy="369.64" r="1" fill="#66aad6"/><circle cx="70.86" cy="403.4" r="1" fill="#d95652"/><circle cx="116.74" cy="369.55" r="1" fill="#eea866"/><circle cx="52.79" cy="396.27" r="1" fill="#66aad6"/><circle cx="102.08" cy="349.55" r="1" fill="#66aad6"/><circle cx="137.46" cy="344.37" r="1" fill="#66aad6"/><circle cx="105.93" cy="366.21" r="1" fill="#66aad6"/><circle cx="99.97" cy="385.59" r="1" fill="#d95652"/><circle cx="131.17" cy="348.06" r="1" fill="#66aad6"/><circle cx="84.18" cy="374.08" r="1" fill="#66aad6"/><circle cx="87.93" cy="391.34" r="1" fill="#eea866"/><circle cx="57.07" cy="402.13" r="1" fill="#d95652"/><circle cx="70.37" cy="365.81" r="1" fill="#66aad6"/><circle cx="137.81" cy="359.56" r="1" fill="#d95652"/><circle cx="103.35" cy="387" r="1" fill="#d95652"/><circle cx="113.29" cy="371.43" r="1" fill="#d95652"/><circle cx="81.34" cy="389.67" r="1" fill="#eea866"/><circle cx="112.84" cy="359.07" r="1" fill="#66aad6"/><circle cx="99.72" cy="367.1" r="1" fill="#eea866"/><circle cx="83.36" cy="366.13" r="1" fill="#66aad6"/><circle cx="75.91" cy="395.56" r="1" fill="#d95652"/><circle cx="138.58" cy="351.08" r="1" fill="#d95652"/><circle cx="49.45" cy="415.08" r="1" fill="#eea866"/><circle cx="122.35" cy="358.63" r="1" fill="#eea866"/><circle cx="60.32" cy="385.65" r="1" fill="#66aad6"/><circle cx="78.91" cy="407.65" r="1" fill="#d95652"/><circle cx="49.79" cy="417.96" r="1" fill="#d95652"/><circle cx="105.88" cy="364.68" r="1" fill="#eea866"/><circle cx="64.31" cy="397.95" r="1" fill="#eea866"/><circle cx="133.9" cy="356.65" r="1" fill="#eea866"/><circle cx="76.66" cy="376.2" r="1" fill="#66aad6"/><circle cx="122.17" cy="361.03" r="1" fill="#d95652"/><circle cx="61.81" cy="410.3" r="1" fill="#d95652"/><circle cx="51.97" cy="420.79" r="1" fill="#eea866"/><circle cx="118.33" cy="350.69" r="1" fill="#eea866"/><circle cx="50.38" cy="406.39" r="1" fill="#66aad6"/><circle cx="83.25" cy="380.6" r="1" fill="#66aad6"/><circle cx="108.41" cy="366.24" r="1" fill="#66aad6"/><circle cx="82.21" cy="372.93" r="1" fill="#66aad6"/><circle cx="135.58" cy="357.56" r="1" fill="#eea866"/><circle cx="54.1" cy="423.32" r="1" fill="#d95652"/><circle cx="55.64" cy="399.11" r="1" fill="#eea866"/><circle cx="118.83" cy="360.66" r="1" fill="#d95652"/><circle cx="99.18" cy="362.93" r="1" fill="#eea866"/><circle cx="59.38" cy="393.3" r="1" fill="#eea866"/><circle cx="118.65" cy="359.04" r="1" fill="#66aad6"/><circle cx="128.28" cy="344.65" r="1" fill="#eea866"/><circle cx="89.55" cy="378.01" r="1" fill="#eea866"/><circle cx="49.04" cy="372.16" r="1" fill="#66aad6"/><circle cx="52.13" cy="391.37" r="1" fill="#eea866"/><circle cx="108.89" cy="364.38" r="1" fill="#66aad6"/><circle cx="80.69" cy="373.77" r="1" fill="#66aad6"/><circle cx="61.45" cy="405.34" r="1" fill="#eea866"/><circle cx="130.71" cy="347.73" r="1" fill="#66aad6"/><circle cx="71.8" cy="400.21" r="1" fill="#eea866"/><circle cx="126.03" cy="351.88" r="1" fill="#eea866"/><circle cx="123.69" cy="359.54" r="1" fill="#eea866"/><circle cx="51.17" cy="373.35" r="1" fill="#66aad6"/><circle cx="50.17" cy="428.37" r="1" fill="#eea866"/><circle cx="63.91" cy="391.81" r="1" fill="#eea866"/><circle cx="49.89" cy="414.44" r="1" fill="#eea866"/><circle cx="78.04" cy="378.1" r="1" fill="#66aad6"/><circle cx="135.79" cy="342.41" r="1" fill="#66aad6"/><circle cx="95.97" cy="377.9" r="1" fill="#eea866"/><circle cx="75.84" cy="397.85" r="1" fill="#d95652"/><circle cx="101.92" cy="363.25" r="1" fill="#66aad6"/><circle cx="54.43" cy="405.49" r="1" fill="#eea866"/><circle cx="67.03" cy="398.92" r="1" fill="#d95652"/><circle cx="51.44" cy="403.64" r="1" fill="#eea866"/><circle cx="89.93" cy="371.31" r="1" fill="#eea866"/><circle cx="54.35" cy="410.22" r="1" fill="#eea866"/><circle cx="93.96" cy="372.76" r="1" fill="#66aad6"/><circle cx="124.09" cy="360.35" r="1" fill="#eea866"/><circle cx="78.87" cy="382.48" r="1" fill="#eea866"/><circle cx="69.86" cy="404.55" r="1" fill="#d95652"/><circle cx="104.78" cy="367.54" r="1" fill="#eea866"/><circle cx="49.12" cy="400.86" r="1" fill="#eea866"/><circle cx="130.68" cy="356.94" r="1" fill="#d95652"/><circle cx="70.72" cy="392.95" r="1" fill="#eea866"/><circle cx="78.69" cy="395.63" r="1" fill="#d95652"/><circle cx="49.19" cy="399.61" r="1" fill="#66aad6"/><circle cx="97.64" cy="357.32" r="1" fill="#66aad6"/><circle cx="89.55" cy="376.05" r="1" fill="#eea866"/><circle cx="119.95" cy="357.68" r="1" fill="#66aad6"/><circle cx="77.69" cy="380.2" r="1" fill="#66aad6"/><circle cx="134.97" cy="348.2" r="1" fill="#66aad6"/><circle cx="112.66" cy="371.55" r="1" fill="#d95652"/><circle cx="87.54" cy="389.15" r="1" fill="#eea866"/><circle cx="57.73" cy="408.53" r="1" fill="#d95652"/><circle cx="85.27" cy="393.05" r="1" fill="#d95652"/><circle cx="76.38" cy="389.64" r="1" fill="#eea866"/><circle cx="89.72" cy="372.73" r="1" fill="#eea866"/><circle cx="116.99" cy="371.39" r="1" fill="#eea866"/><circle cx="82.2" cy="384.41" r="1" fill="#eea866"/><circle cx="71.95" cy="384.35" r="1" fill="#66aad6"/><circle cx="64.6" cy="388.79" r="1" fill="#66aad6"/><circle cx="123.65" cy="352.06" r="1" fill="#66aad6"/><circle cx="105.59" cy="377.57" r="1" fill="#d95652"/><circle cx="49.6" cy="390.72" r="1" fill="#d95652"/><circle cx="91.96" cy="398.52" r="1" fill="#d95652"/><circle cx="74.57" cy="371.21" r="1" fill="#66aad6"/><circle cx="72.25" cy="397.72" r="1" fill="#eea866"/><circle cx="120.19" cy="353.35" r="1" fill="#66aad6"/><circle cx="51.36" cy="369.56" r="1" fill="#66aad6"/><circle cx="49.78" cy="406.39" r="1" fill="#eea866"/><circle cx="82.59" cy="386.1" r="1" fill="#eea866"/><circle cx="51.43" cy="419.4" r="1" fill="#d95652"/><circle cx="51.32" cy="378.73" r="1" fill="#66aad6"/><circle cx="99.42" cy="376.01" r="1" fill="#eea866"/><circle cx="124.67" cy="354.95" r="1" fill="#eea866"/><circle cx="102.17" cy="377.16" r="1" fill="#eea866"/><circle cx="58.55" cy="370.55" r="1" fill="#66aad6"/><circle cx="137.09" cy="352.54" r="1" fill="#d95652"/><circle cx="102.99" cy="390.99" r="1" fill="#d95652"/><circle cx="75.41" cy="372.87" r="1" fill="#66aad6"/><circle cx="60.75" cy="372.91" r="1" fill="#66aad6"/><circle cx="59.26" cy="389.47" r="1" fill="#eea866"/><circle cx="49.16" cy="393.87" r="1" fill="#eea866"/><circle cx="124.88" cy="359.04" r="1" fill="#66aad6"/><circle cx="82.01" cy="384.7" r="1" fill="#eea866"/><circle cx="128.77" cy="358.1" r="1" fill="#eea866"/><circle cx="116.92" cy="367.02" r="1" fill="#d95652"/><circle cx="122.75" cy="355.61" r="1" fill="#66aad6"/><circle cx="114.68" cy="366.13" r="1" fill="#eea866"/><circle cx="50.03" cy="392.66" r="1" fill="#66aad6"/><circle cx="80.77" cy="357.85" r="1" fill="#66aad6"/><circle cx="64.23" cy="382.49" r="1" fill="#66aad6"/><circle cx="137.57" cy="348.87" r="1" fill="#d95652"/><circle cx="75.14" cy="374.23" r="1" fill="#66aad6"/><circle cx="95.76" cy="377.1" r="1" fill="#66aad6"/><circle cx="111.93" cy="367.31" r="1" fill="#eea866"/><circle cx="95.21" cy="371.38" r="1" fill="#66aad6"/><circle cx="67.84" cy="387.92" r="1" fill="#eea866"/><circle cx="93.75" cy="362.41" r="1" fill="#66aad6"/><circle cx="92.95" cy="380.79" r="1" fill="#66aad6"/><circle cx="49.08" cy="394.29" r="1" fill="#66aad6"/><circle cx="89.84" cy="381.1" r="1" fill="#66aad6"/><circle cx="51.74" cy="418.89" r="1" fill="#eea866"/><circle cx="99.71" cy="359.8" r="1" fill="#66aad6"/><circle cx="71.03" cy="380.46" r="1" fill="#66aad6"/><circle cx="83.12" cy="388.38" r="1" fill="#eea866"/><circle cx="61.92" cy="406.41" r="1" fill="#eea866"/><circle cx="63.57" cy="393.31" r="1" fill="#d95652"/><circle cx="126.42" cy="362.89" r="1" fill="#eea866"/><circle cx="81.99" cy="376.83" r="1" fill="#d95652"/><circle cx="128.13" cy="347.19" r="1" fill="#66aad6"/><circle cx="82.19" cy="388.29" r="1" fill="#eea866"/><circle cx="128.9" cy="362.86" r="1" fill="#eea866"/><circle cx="121.36" cy="371.38" r="1" fill="#d95652"/><circle cx="84.26" cy="379.59" r="1" fill="#66aad6"/><circle cx="100.28" cy="366.81" r="1" fill="#66aad6"/><circle cx="51.15" cy="418.08" r="1" fill="#d95652"/><circle cx="76.46" cy="376.74" r="1" fill="#66aad6"/><circle cx="114.44" cy="368.17" r="1" fill="#d95652"/><circle cx="130.09" cy="350.28" r="1" fill="#eea866"/><circle cx="100.03" cy="379.49" r="1" fill="#66aad6"/><circle cx="102.95" cy="368.5" r="1" fill="#eea866"/><circle cx="124.41" cy="352.02" r="1" fill="#66aad6"/><circle cx="100.98" cy="360.52" r="1" fill="#66aad6"/><circle cx="125.12" cy="358.14" r="1" fill="#66aad6"/><circle cx="67.39" cy="400.69" r="1" fill="#66aad6"/><circle cx="110.92" cy="363.36" r="1" fill="#66aad6"/><circle cx="56.69" cy="376.23" r="1" fill="#66aad6"/><circle cx="89.22" cy="375.53" r="1" fill="#eea866"/><circle cx="73.31" cy="381.35" r="1" fill="#66aad6"/><circle cx="49.75" cy="417.58" r="1" fill="#d95652"/><circle cx="57.61" cy="407.34" r="1" fill="#eea866"/><circle cx="65.16" cy="368.88" r="1" fill="#66aad6"/><circle cx="135.76" cy="350.26" r="1" fill="#66aad6"/><circle cx="122.32" cy="356.16" r="1" fill="#eea866"/><circle cx="119.83" cy="350.08" r="1" fill="#66aad6"/><circle cx="63.56" cy="379.71" r="1" fill="#66aad6"/><circle cx="98.29" cy="365.22" r="1" fill="#eea866"/><circle cx="138.85" cy="347.6" r="1" fill="#66aad6"/><circle cx="111.23" cy="370.98" r="1" fill="#eea866"/><circle cx="105.66" cy="387.84" r="1" fill="#d95652"/><circle cx="110.39" cy="360.66" r="1" fill="#eea866"/><circle cx="110.7" cy="377.35" r="1" fill="#d95652"/><circle cx="106.52" cy="367.66" r="1" fill="#eea866"/><circle cx="123.96" cy="357.22" r="1" fill="#eea866"/><circle cx="111.3" cy="365.68" r="1" fill="#d95652"/><circle cx="57.86" cy="392.44" r="1" fill="#66aad6"/><circle cx="85.41" cy="377.92" r="1" fill="#66aad6"/><circle cx="88.16" cy="385.73" r="1" fill="#d95652"/><circle cx="127.86" cy="347.24" r="1" fill="#66aad6"/><circle cx="69.68" cy="397.65" r="1" fill="#eea866"/><circle cx="118.95" cy="365.49" r="1" fill="#eea866"/><circle cx="63.42" cy="392.35" r="1" fill="#eea866"/><circle cx="80.06" cy="399.32" r="1" fill="#d95652"/><circle cx="68.14" cy="367.32" r="1" fill="#66aad6"/><circle cx="115.52" cy="372.73" r="1" fill="#d95652"/><circle cx="110.04" cy="370.37" r="1" fill="#eea866"/><circle cx="139.91" cy="343.03" r="1" fill="#eea866"/><circle cx="64.92" cy="376.67" r="1" fill="#66aad6"/><circle cx="50.5" cy="428.73" r="1" fill="#d95652"/><circle cx="91.81" cy="385.06" r="1" fill="#eea866"/><circle cx="118.91" cy="355.13" r="1" fill="#66aad6"/><circle cx="127.72" cy="343.62" r="1" fill="#66aad6"/><circle cx="132.43" cy="355.59" r="1" fill="#d95652"/><circle cx="85.26" cy="385.4" r="1" fill="#eea866"/><circle cx="49.72" cy="426.06" r="1" fill="#d95652"/><circle cx="50.78" cy="410.76" r="1" fill="#eea866"/><circle cx="93" cy="385.42" r="1" fill="#eea866"/><circle cx="126.86" cy="360.54" r="1" fill="#66aad6"/><circle cx="94.59" cy="365.99" r="1" fill="#66aad6"/><circle cx="65.93" cy="432.74" r="1" fill="#d95652"/><circle cx="124.48" cy="349.14" r="1" fill="#66aad6"/><circle cx="79.8" cy="371.69" r="1" fill="#66aad6"/><circle cx="116.72" cy="363.72" r="1" fill="#d95652"/><circle cx="97.65" cy="394.42" r="1" fill="#d95652"/><circle cx="101.54" cy="351.19" r="1" fill="#66aad6"/><circle cx="65.57" cy="383.15" r="1" fill="#66aad6"/><circle cx="58.26" cy="397.55" r="1" fill="#eea866"/><circle cx="113.93" cy="356.88" r="1" fill="#66aad6"/><circle cx="108.4" cy="381.55" r="1" fill="#d95652"/><circle cx="77.39" cy="381.31" r="1" fill="#eea866"/><circle cx="120.14" cy="351.28" r="1" fill="#66aad6"/><circle cx="99.16" cy="375.88" r="1" fill="#d95652"/><circle cx="63.01" cy="383.81" r="1" fill="#66aad6"/><circle cx="76.89" cy="419.49" r="1" fill="#d95652"/><circle cx="127.04" cy="356.24" r="1" fill="#d95652"/><circle cx="69.18" cy="408.2" r="1" fill="#d95652"/><circle cx="103.82" cy="380.76" r="1" fill="#eea866"/><circle cx="108.55" cy="355.39" r="1" fill="#66aad6"/><circle cx="89.21" cy="377.18" r="1" fill="#eea866"/><circle cx="82.7" cy="391.92" r="1" fill="#eea866"/><circle cx="51.9" cy="397.55" r="1" fill="#66aad6"/><circle cx="50.04" cy="422.54" r="1" fill="#d95652"/><circle cx="55.86" cy="406.36" r="1" fill="#eea866"/><circle cx="118.92" cy="364.85" r="1" fill="#eea866"/><circle cx="62.41" cy="405.3" r="1" fill="#d95652"/><circle cx="49.56" cy="400.52" r="1" fill="#eea866"/><circle cx="139.91" cy="347.17" r="1" fill="#eea866"/><circle cx="67.89" cy="401.44" r="1" fill="#d95652"/><circle cx="79.63" cy="385.98" r="1" fill="#d95652"/><circle cx="123.4" cy="348.1" r="1" fill="#66aad6"/><circle cx="114.29" cy="353.25" r="1" fill="#66aad6"/><circle cx="136.68" cy="351.14" r="1" fill="#eea866"/><circle cx="97.59" cy="375.54" r="1" fill="#eea866"/><circle cx="49.12" cy="433.91" r="1" fill="#eea866"/><circle cx="129.29" cy="352.46" r="1" fill="#66aad6"/><circle cx="74.88" cy="395.51" r="1" fill="#eea866"/><circle cx="106.82" cy="381.38" r="1" fill="#d95652"/><circle cx="69.84" cy="402.31" r="1" fill="#d95652"/><circle cx="73.09" cy="421.03" r="1" fill="#d95652"/><circle cx="99.02" cy="378.93" r="1" fill="#eea866"/><circle cx="72.94" cy="400.61" r="1" fill="#eea866"/><circle cx="79.47" cy="391.46" r="1" fill="#d95652"/><circle cx="52" cy="417.23" r="1" fill="#66aad6"/><circle cx="83.8" cy="365.85" r="1" fill="#66aad6"/><circle cx="95.72" cy="366.65" r="1" fill="#66aad6"/><circle cx="112.19" cy="358.47" r="1" fill="#66aad6"/><circle cx="138.46" cy="350.64" r="1" fill="#d95652"/><circle cx="121.76" cy="351.49" r="1" fill="#66aad6"/><circle cx="66.62" cy="410.98" r="1" fill="#eea866"/><circle cx="86.73" cy="373.33" r="1" fill="#66aad6"/><circle cx="110.41" cy="358.03" r="1" fill="#66aad6"/><circle cx="132.3" cy="348.7" r="1" fill="#d95652"/><circle cx="134.74" cy="352.45" r="1" fill="#eea866"/><circle cx="107.11" cy="376.8" r="1" fill="#eea866"/><circle cx="49.89" cy="404.24" r="1" fill="#eea866"/><circle cx="94.19" cy="369.88" r="1" fill="#66aad6"/><circle cx="128.92" cy="353.65" r="1" fill="#eea866"/><circle cx="59.2" cy="396.84" r="1" fill="#eea866"/><circle cx="107.64" cy="386.61" r="1" fill="#d95652"/><circle cx="104.38" cy="361.57" r="1" fill="#66aad6"/><circle cx="91.91" cy="380.84" r="1" fill="#66aad6"/><circle cx="88.69" cy="374.21" r="1" fill="#66aad6"/><circle cx="136.96" cy="354.72" r="1" fill="#eea866"/><circle cx="75.21" cy="355.11" r="1" fill="#66aad6"/><circle cx="66.7" cy="422.1" r="1" fill="#d95652"/><circle cx="100.58" cy="375.74" r="1" fill="#eea866"/><circle cx="66.7" cy="388.07" r="1" fill="#66aad6"/><circle cx="131.82" cy="350.93" r="1" fill="#eea866"/><circle cx="126.21" cy="352.87" r="1" fill="#66aad6"/><circle cx="65.94" cy="406.95" r="1" fill="#eea866"/><circle cx="52.45" cy="393.5" r="1" fill="#66aad6"/><circle cx="138.53" cy="351.78" r="1" fill="#66aad6"/><circle cx="56.7" cy="398.05" r="1" fill="#eea866"/><circle cx="51.35" cy="382.87" r="1" fill="#66aad6"/><circle cx="120.1" cy="357.24" r="1" fill="#eea866"/><circle cx="87.86" cy="391.7" r="1" fill="#d95652"/><circle cx="59.4" cy="403.02" r="1" fill="#eea866"/><circle cx="49.8" cy="404.89" r="1" fill="#eea866"/><circle cx="106.51" cy="355.23" r="1" fill="#66aad6"/><circle cx="138.81" cy="349.39" r="1" fill="#eea866"/><circle cx="60.86" cy="384.09" r="1" fill="#66aad6"/><circle cx="58.66" cy="416.96" r="1" fill="#d95652"/><circle cx="119.48" cy="371.56" r="1" fill="#d95652"/><circle cx="59.9" cy="374.8" r="1" fill="#66aad6"/><circle cx="52.56" cy="406.33" r="1" fill="#eea866"/><circle cx="50.72" cy="423.77" r="1" fill="#d95652"/><circle cx="49.66" cy="396.66" r="1" fill="#eea866"/><circle cx="118.34" cy="357.91" r="1" fill="#d95652"/><circle cx="125.24" cy="346.18" r="1" fill="#66aad6"/><circle cx="89.77" cy="386" r="1" fill="#eea866"/><circle cx="79.83" cy="385.91" r="1" fill="#eea866"/><circle cx="99.73" cy="358.39" r="1" fill="#66aad6"/><circle cx="105.76" cy="372.3" r="1" fill="#eea866"/><circle cx="133.15" cy="346.34" r="1" fill="#66aad6"/><circle cx="81.34" cy="365.08" r="1" fill="#66aad6"/><circle cx="92.85" cy="385.12" r="1" fill="#d95652"/><circle cx="91.89" cy="375.52" r="1" fill="#eea866"/><circle cx="92.74" cy="366.57" r="1" fill="#66aad6"/><circle cx="72.16" cy="405.21" r="1" fill="#d95652"/><circle cx="83.01" cy="367.45" r="1" fill="#66aad6"/><circle cx="50.29" cy="412.44" r="1" fill="#eea866"/><circle cx="90" cy="376.09" r="1" fill="#eea866"/><circle cx="113.79" cy="374.09" r="1" fill="#eea866"/><circle cx="96.44" cy="369.58" r="1" fill="#66aad6"/><circle cx="101.6" cy="367.87" r="1" fill="#66aad6"/><circle cx="98.01" cy="359.72" r="1" fill="#66aad6"/><circle cx="112.15" cy="361.24" r="1" fill="#eea866"/><circle cx="56.72" cy="407.37" r="1" fill="#eea866"/><circle cx="104.93" cy="363.44" r="1" fill="#eea866"/><circle cx="83.05" cy="383.34" r="1" fill="#eea866"/><circle cx="99.19" cy="374.16" r="1" fill="#eea866"/><circle cx="81.71" cy="412.06" r="1" fill="#d95652"/><circle cx="105.82" cy="360.39" r="1" fill="#66aad6"/><circle cx="131.51" cy="347.39" r="1" fill="#66aad6"/><circle cx="120.59" cy="365.49" r="1" fill="#d95652"/><circle cx="73.38" cy="376.34" r="1" fill="#66aad6"/><circle cx="49.16" cy="400.89" r="1" fill="#eea866"/><circle cx="49.34" cy="433.16" r="1" fill="#d95652"/><circle cx="128.96" cy="347.44" r="1" fill="#eea866"/><circle cx="100.86" cy="351.62" r="1" fill="#66aad6"/><circle cx="113.36" cy="363.57" r="1" fill="#eea866"/><circle cx="49.74" cy="400.23" r="1" fill="#eea866"/><circle cx="50.71" cy="388.48" r="1" fill="#eea866"/><circle cx="94.76" cy="372.36" r="1" fill="#eea866"/><circle cx="49.13" cy="412.68" r="1" fill="#d95652"/><circle cx="76.41" cy="392.55" r="1" fill="#eea866"/><circle cx="76.08" cy="404.17" r="1" fill="#eea866"/><circle cx="80.68" cy="362.14" r="1" fill="#66aad6"/><circle cx="79.18" cy="413.59" r="1" fill="#d95652"/><circle cx="125.14" cy="355.28" r="1" fill="#eea866"/><circle cx="107.07" cy="365.2" r="1" fill="#d95652"/><circle cx="135" cy="351.74" r="1" fill="#eea866"/><circle cx="58.76" cy="393.6" r="1" fill="#66aad6"/><circle cx="88.73" cy="378.29" r="1" fill="#eea866"/><circle cx="52.89" cy="410.05" r="1" fill="#eea866"/><circle cx="130.9" cy="350.8" r="1" fill="#eea866"/><circle cx="130.05" cy="351.08" r="1" fill="#eea866"/><circle cx="115.09" cy="353.76" r="1" fill="#eea866"/><circle cx="108.28" cy="369.84" r="1" fill="#eea866"/><circle cx="61.34" cy="391.82" r="1" fill="#eea866"/><circle cx="96.27" cy="382.18" r="1" fill="#d95652"/><circle cx="51.45" cy="401.12" r="1" fill="#eea866"/><circle cx="104.68" cy="355.35" r="1" fill="#66aad6"/><circle cx="128.98" cy="350.61" r="1" fill="#eea866"/><circle cx="132.25" cy="349.79" r="1" fill="#eea866"/><circle cx="50.58" cy="403.02" r="1" fill="#66aad6"/><circle cx="50.07" cy="405.28" r="1" fill="#eea866"/><circle cx="122.56" cy="355.47" r="1" fill="#eea866"/><circle cx="79.97" cy="397.3" r="1" fill="#eea866"/><circle cx="71.23" cy="392.4" r="1" fill="#eea866"/><circle cx="103.47" cy="372.97" r="1" fill="#d95652"/><circle cx="51.3" cy="429.24" r="1" fill="#d95652"/><circle cx="102.23" cy="368.72" r="1" fill="#eea866"/><circle cx="63.09" cy="398.06" r="1" fill="#d95652"/><circle cx="78.27" cy="375.68" r="1" fill="#eea866"/><circle cx="53.19" cy="388.28" r="1" fill="#66aad6"/><circle cx="90.84" cy="370.33" r="1" fill="#d95652"/><circle cx="89.09" cy="377.06" r="1" fill="#66aad6"/><circle cx="107.32" cy="380.16" r="1" fill="#d95652"/><circle cx="119.61" cy="359.47" r="1" fill="#eea866"/><circle cx="129.86" cy="352.87" r="1" fill="#66aad6"/><circle cx="107.44" cy="362.44" r="1" fill="#66aad6"/><circle cx="50.81" cy="383.56" r="1" fill="#eea866"/><circle cx="124.6" cy="348.96" r="1" fill="#66aad6"/><circle cx="69.39" cy="376.28" r="1" fill="#66aad6"/><circle cx="93.74" cy="379.24" r="1" fill="#eea866"/><circle cx="87.21" cy="384.55" r="1" fill="#d95652"/><circle cx="110.45" cy="367.47" r="1" fill="#eea866"/><circle cx="61.27" cy="421.82" r="1" fill="#d95652"/><circle cx="108.96" cy="363.78" r="1" fill="#66aad6"/><circle cx="102.88" cy="366.75" r="1" fill="#eea866"/><circle cx="62.28" cy="399.31" r="1" fill="#eea866"/><circle cx="75.78" cy="369.47" r="1" fill="#66aad6"/><circle cx="115.77" cy="357.22" r="1" fill="#66aad6"/><circle cx="81.04" cy="387.11" r="1" fill="#eea866"/><circle cx="83.81" cy="365.27" r="1" fill="#66aad6"/><circle cx="100.45" cy="383.21" r="1" fill="#d95652"/><circle cx="125.16" cy="358.33" r="1" fill="#eea866"/><circle cx="134.69" cy="354.71" r="1" fill="#eea866"/><circle cx="94.32" cy="385.71" r="1" fill="#d95652"/><circle cx="108.76" cy="368.03" r="1" fill="#eea866"/><circle cx="52.88" cy="393.12" r="1" fill="#66aad6"/><circle cx="133.25" cy="354.86" r="1" fill="#eea866"/><circle cx="94.25" cy="381.43" r="1" fill="#eea866"/><circle cx="111.32" cy="365.07" r="1" fill="#eea866"/><circle cx="51.94" cy="371.3" r="1" fill="#66aad6"/><circle cx="102.2" cy="364.6" r="1" fill="#eea866"/><circle cx="64.35" cy="394.3" r="1" fill="#eea866"/><circle cx="52.52" cy="390.77" r="1" fill="#66aad6"/><circle cx="99.96" cy="381.8" r="1" fill="#d95652"/><circle cx="74.09" cy="405.8" r="1" fill="#d95652"/><circle cx="70.86" cy="383.44" r="1" fill="#eea866"/><circle cx="56.08" cy="422.28" r="1" fill="#d95652"/><circle cx="67.38" cy="389.13" r="1" fill="#eea866"/><circle cx="104.28" cy="365.18" r="1" fill="#eea866"/><circle cx="88.27" cy="373.06" r="1" fill="#66aad6"/><circle cx="116.53" cy="355.43" r="1" fill="#eea866"/><circle cx="78.59" cy="407.3" r="1" fill="#eea866"/><circle cx="50.76" cy="409.19" r="1" fill="#eea866"/><circle cx="78.21" cy="365.12" r="1" fill="#66aad6"/><circle cx="115.33" cy="361.6" r="1" fill="#d95652"/><circle cx="137.82" cy="351.36" r="1" fill="#eea866"/><circle cx="60.42" cy="405.33" r="1" fill="#66aad6"/><circle cx="115.34" cy="357.41" r="1" fill="#66aad6"/><circle cx="113.26" cy="361.69" r="1" fill="#eea866"/></g>
<polygon points="48.9,398.02 52.67,395.82 56.44,393.62 60.21,391.42 63.99,389.2 67.76,386.98 71.53,384.76 75.3,382.52 79.07,380.28 82.84,378.04 86.61,375.78 90.38,373.52 94.16,371.26 97.93,369 101.7,366.75 105.47,364.49 109.24,362.23 113.01,359.95 116.78,357.68 120.55,355.39 124.33,353.1 128.1,350.8 131.87,348.5 135.64,346.19 139.41,343.87 139.41,347.63 135.64,349.85 131.87,352.07 128.1,354.3 124.33,356.54 120.55,358.79 116.78,361.04 113.01,363.3 109.24,365.56 105.47,367.84 101.7,370.11 97.93,372.4 94.16,374.7 90.38,377.03 86.61,379.36 82.84,381.69 79.07,384.04 75.3,386.39 71.53,388.75 67.76,391.11 63.99,393.48 60.21,395.86 56.44,398.24 52.67,400.63 48.9,403.03" fill="#999999" fill-opacity="0.4"/>
<polyline points="48.9,400.52 52.67,398.23 56.44,395.93 60.21,393.64 63.99,391.34 67.76,389.05 71.53,386.75 75.3,384.46 79.07,382.16 82.84,379.87 86.61,377.57 90.38,375.28 94.16,372.98 97.93,370.7 101.7,368.43 105.47,366.16 109.24,363.9 113.01,361.63 116.78,359.36 120.55,357.09 124.33,354.82 128.1,352.55 131.87,350.28 135.64,348.02 139.41,345.75" fill="none" stroke="#3f86bd" stroke-width="2.3" stroke-linejoin="round" stroke-linecap="butt"/>
<polygon points="48.9,404.9 52.72,402.48 56.54,400.04 60.37,397.59 64.19,395.14 68.01,392.68 71.83,390.21 75.65,387.74 79.48,385.26 83.3,382.77 87.12,380.27 90.94,377.76 94.76,375.25 98.59,372.73 102.41,370.2 106.23,367.66 110.05,365.12 113.87,362.57 117.7,360.01 121.52,357.44 125.34,354.87 129.16,352.29 132.98,349.7 136.81,347.1 140.63,344.5 140.63,348.88 136.81,351.39 132.98,353.9 129.16,356.42 125.34,358.95 121.52,361.49 117.7,364.04 113.87,366.59 110.05,369.15 106.23,371.72 102.41,374.3 98.59,376.88 94.76,379.47 90.94,382.07 87.12,384.68 83.3,387.29 79.48,389.92 75.65,392.55 71.83,395.18 68.01,397.83 64.19,400.48 60.37,403.14 56.54,405.81 52.72,408.48 48.9,411.16" fill="#999999" fill-opacity="0.4"/>
<polyline points="48.9,408.03 52.72,405.48 56.54,402.92 60.37,400.37 64.19,397.81 68.01,395.25 71.83,392.7 75.65,390.14 79.48,387.59 83.3,385.03 87.12,382.47 90.94,379.92 94.76,377.36 98.59,374.8 102.41,372.25 106.23,369.69 110.05,367.14 113.87,364.58 117.7,362.02 121.52,359.47 125.34,356.91 129.16,354.36 132.98,351.8 136.81,349.24 140.63,346.69" fill="none" stroke="#f0a052" stroke-width="2.3" stroke-linejoin="round" stroke-linecap="butt"/>
<polygon points="48.9,413.36 52.67,410.78 56.44,408.2 60.21,405.62 63.99,403.02 67.76,400.42 71.53,397.81 75.3,395.19 79.07,392.57 82.84,389.93 86.61,387.29 90.38,384.64 94.16,381.99 97.93,379.28 101.7,376.52 105.47,373.76 109.24,370.99 113.01,368.21 116.78,365.43 120.55,362.64 124.33,359.84 128.1,357.03 131.87,354.22 135.64,351.39 139.41,348.56 139.41,352.95 135.64,355.68 131.87,358.42 128.1,361.17 124.33,363.93 120.55,366.69 116.78,369.46 113.01,372.24 109.24,375.03 105.47,377.82 101.7,380.62 97.93,383.43 94.16,386.21 90.38,388.95 86.61,391.7 82.84,394.46 79.07,397.23 75.3,400 71.53,402.78 67.76,405.56 63.99,408.36 60.21,411.16 56.44,413.97 52.67,416.79 48.9,419.62" fill="#999999" fill-opacity="0.4"/>
<polyline points="48.9,416.49 52.67,413.79 56.44,411.09 60.21,408.39 63.99,405.69 67.76,402.99 71.53,400.29 75.3,397.59 79.07,394.9 82.84,392.2 86.61,389.5 90.38,386.8 94.16,384.1 97.93,381.35 101.7,378.57 105.47,375.79 109.24,373.01 113.01,370.23 116.78,367.45 120.55,364.66 124.33,361.88 128.1,359.1 131.87,356.32 135.64,353.54 139.41,350.76" fill="none" stroke="#dc4a3e" stroke-width="2.3" stroke-linejoin="round" stroke-linecap="butt"/>
<rect x="44.6" y="339.6" width="100.5" height="100.7" fill="none" stroke="#bdbdbd" stroke-width="1"/>
<g><circle cx="252.98" cy="363.3" r="1" fill="#d95652"/><circle cx="187.3" cy="407.75" r="1" fill="#66aad6"/><circle cx="172.64" cy="435.47" r="1" fill="#eea866"/><circle cx="173.47" cy="425.4" r="1" fill="#d95652"/><circle cx="214.26" cy="399.52" r="1" fill="#d95652"/><circle cx="231.38" cy="375.87" r="1" fill="#66aad6"/><circle cx="197.33" cy="409.35" r="1" fill="#eea866"/><circle cx="237.86" cy="398.13" r="1" fill="#d95652"/><circle cx="223.36" cy="397.18" r="1" fill="#eea866"/><circle cx="253.77" cy="359.49" r="1" fill="#eea866"/><circle cx="179.42" cy="426.55" r="1" fill="#eea866"/><circle cx="238.73" cy="372.93" r="1" fill="#66aad6"/><circle cx="175.38" cy="427.36" r="1" fill="#66aad6"/><circle cx="254.51" cy="363.05" r="1" fill="#eea866"/><circle cx="220.73" cy="395.29" r="1" fill="#eea866"/><circle cx="232.91" cy="404.56" r="1" fill="#d95652"/><circle cx="192.76" cy="413.13" r="1" fill="#eea866"/><circle cx="193.34" cy="416.12" r="1" fill="#d95652"/><circle cx="257.85" cy="356.15" r="1" fill="#66aad6"/><circle cx="181.57" cy="417.2" r="1" fill="#66aad6"/><circle cx="216.15" cy="404.61" r="1" fill="#d95652"/><circle cx="172.25" cy="437.67" r="1" fill="#d95652"/><circle cx="186.78" cy="413.55" r="1" fill="#66aad6"/><circle cx="251.52" cy="367.28" r="1" fill="#66aad6"/><circle cx="180.65" cy="427.55" r="1" fill="#d95652"/><circle cx="177.56" cy="424.06" r="1" fill="#d95652"/><circle cx="208" cy="395.58" r="1" fill="#eea866"/><circle cx="225.82" cy="379.06" r="1" fill="#66aad6"/><circle cx="223.53" cy="393.78" r="1" fill="#eea866"/><circle cx="175.19" cy="425.6" r="1" fill="#eea866"/><circle cx="258.96" cy="356.87" r="1" fill="#66aad6"/><circle cx="183.06" cy="424.12" r="1" fill="#eea866"/><circle cx="248.74" cy="380.73" r="1" fill="#eea866"/><circle cx="191.54" cy="416.41" r="1" fill="#eea866"/><circle cx="259.94" cy="365.88" r="1" fill="#66aad6"/><circle cx="192.23" cy="420.82" r="1" fill="#eea866"/><circle cx="242.94" cy="367.88" r="1" fill="#66aad6"/><circle cx="186.86" cy="417.2" r="1" fill="#eea866"/><circle cx="228.86" cy="388.4" r="1" fill="#eea866"/><circle cx="227.53" cy="391.45" r="1" fill="#d95652"/><circle cx="194.89" cy="415.41" r="1" fill="#d95652"/><circle cx="239.37" cy="364.91" r="1" fill="#66aad6"/><circle cx="237.57" cy="380.55" r="1" fill="#66aad6"/><circle cx="230.44" cy="372.06" r="1" fill="#66aad6"/><circle cx="214.56" cy="394.43" r="1" fill="#eea866"/><circle cx="254.06" cy="363.13" r="1" fill="#eea866"/><circle cx="182.41" cy="430.3" r="1" fill="#d95652"/><circle cx="220.29" cy="406.61" r="1" fill="#d95652"/><circle cx="200.05" cy="413.7" r="1" fill="#d95652"/><circle cx="246.39" cy="357.64" r="1" fill="#66aad6"/><circle cx="249.25" cy="394.91" r="1" fill="#d95652"/><circle cx="198.69" cy="406.34" r="1" fill="#eea866"/><circle cx="224.48" cy="381.69" r="1" fill="#66aad6"/><circle cx="249" cy="369.43" r="1" fill="#eea866"/><circle cx="209.24" cy="402.73" r="1" fill="#eea866"/><circle cx="233.72" cy="387.43" r="1" fill="#eea866"/><circle cx="177.14" cy="426.63" r="1" fill="#d95652"/><circle cx="173.65" cy="429.78" r="1" fill="#eea866"/><circle cx="216.24" cy="417.71" r="1" fill="#d95652"/><circle cx="206.13" cy="387.45" r="1" fill="#66aad6"/><circle cx="199.3" cy="398.13" r="1" fill="#66aad6"/><circle cx="178.93" cy="424.7" r="1" fill="#d95652"/><circle cx="208.12" cy="401.96" r="1" fill="#eea866"/><circle cx="181.06" cy="416.47" r="1" fill="#66aad6"/><circle cx="261.84" cy="350.93" r="1" fill="#66aad6"/><circle cx="258.49" cy="369.6" r="1" fill="#d95652"/><circle cx="237.36" cy="400.55" r="1" fill="#d95652"/><circle cx="178.63" cy="427.34" r="1" fill="#d95652"/><circle cx="233.36" cy="384.76" r="1" fill="#eea866"/><circle cx="250.14" cy="371.32" r="1" fill="#eea866"/><circle cx="179.92" cy="427.83" r="1" fill="#d95652"/><circle cx="173.13" cy="418.82" r="1" fill="#d95652"/><circle cx="227.43" cy="391.94" r="1" fill="#eea866"/><circle cx="202.87" cy="417.98" r="1" fill="#d95652"/><circle cx="250.3" cy="365.68" r="1" fill="#eea866"/><circle cx="194.03" cy="404.16" r="1" fill="#66aad6"/><circle cx="174.69" cy="426.49" r="1" fill="#eea866"/><circle cx="220.93" cy="380.33" r="1" fill="#eea866"/><circle cx="220.81" cy="385.88" r="1" fill="#66aad6"/><circle cx="173.27" cy="435.94" r="1" fill="#eea866"/><circle cx="172.86" cy="428.32" r="1" fill="#66aad6"/><circle cx="201.69" cy="408.14" r="1" fill="#d95652"/><circle cx="252.32" cy="389.88" r="1" fill="#d95652"/><circle cx="172.35" cy="423.78" r="1" fill="#d95652"/><circle cx="221.72" cy="383.31" r="1" fill="#66aad6"/><circle cx="222.36" cy="367.43" r="1" fill="#66aad6"/><circle cx="238.51" cy="379.56" r="1" fill="#eea866"/><circle cx="261.53" cy="374.88" r="1" fill="#eea866"/><circle cx="177.05" cy="420.45" r="1" fill="#66aad6"/><circle cx="189.12" cy="406.69" r="1" fill="#66aad6"/><circle cx="178.08" cy="418.69" r="1" fill="#d95652"/><circle cx="187.7" cy="425.38" r="1" fill="#eea866"/><circle cx="174.85" cy="420.26" r="1" fill="#66aad6"/><circle cx="174.75" cy="429.24" r="1" fill="#66aad6"/><circle cx="254.02" cy="388.6" r="1" fill="#d95652"/><circle cx="189.91" cy="416.33" r="1" fill="#eea866"/><circle cx="175.27" cy="417.03" r="1" fill="#eea866"/><circle cx="256.63" cy="373.89" r="1" fill="#eea866"/><circle cx="224.74" cy="392.74" r="1" fill="#eea866"/><circle cx="212.26" cy="395.9" r="1" fill="#eea866"/><circle cx="194.2" cy="425.99" r="1" fill="#d95652"/><circle cx="207.87" cy="405.86" r="1" fill="#eea866"/><circle cx="229.43" cy="395.91" r="1" fill="#d95652"/><circle cx="179.79" cy="419.09" r="1" fill="#66aad6"/><circle cx="239.95" cy="382.51" r="1" fill="#d95652"/><circle cx="207.78" cy="393.99" r="1" fill="#66aad6"/><circle cx="241.94" cy="372.04" r="1" fill="#66aad6"/><circle cx="256.03" cy="363.29" r="1" fill="#eea866"/><circle cx="258.01" cy="353.36" r="1" fill="#66aad6"/><circle cx="181.04" cy="428" r="1" fill="#eea866"/><circle cx="223.54" cy="375.73" r="1" fill="#66aad6"/><circle cx="175.11" cy="429.54" r="1" fill="#d95652"/><circle cx="188.38" cy="417.17" r="1" fill="#eea866"/><circle cx="181.75" cy="415.59" r="1" fill="#66aad6"/><circle cx="232.37" cy="366.3" r="1" fill="#66aad6"/><circle cx="174.23" cy="428.46" r="1" fill="#eea866"/><circle cx="189.7" cy="416.67" r="1" fill="#eea866"/><circle cx="172.65" cy="427.82" r="1" fill="#66aad6"/><circle cx="220.5" cy="382.03" r="1" fill="#66aad6"/><circle cx="259.94" cy="363.24" r="1" fill="#eea866"/><circle cx="184.46" cy="431.12" r="1" fill="#d95652"/><circle cx="186.56" cy="427.55" r="1" fill="#d95652"/><circle cx="176.19" cy="423.83" r="1" fill="#eea866"/><circle cx="210.51" cy="404.55" r="1" fill="#d95652"/><circle cx="190.45" cy="412.5" r="1" fill="#d95652"/><circle cx="235.16" cy="400.02" r="1" fill="#d95652"/><circle cx="185.83" cy="410.95" r="1" fill="#66aad6"/><circle cx="173.25" cy="430.11" r="1" fill="#66aad6"/><circle cx="256.5" cy="354.33" r="1" fill="#66aad6"/><circle cx="207.86" cy="399.84" r="1" fill="#66aad6"/><circle cx="243.24" cy="376.86" r="1" fill="#eea866"/><circle cx="216.98" cy="375.31" r="1" fill="#66aad6"/><circle cx="199.73" cy="402.64" r="1" fill="#66aad6"/><circle cx="256.91" cy="354.95" r="1" fill="#66aad6"/><circle cx="243.32" cy="382.59" r="1" fill="#eea866"/><circle cx="209.71" cy="387.2" r="1" fill="#66aad6"/><circle cx="194.2" cy="404.52" r="1" fill="#66aad6"/><circle cx="174.34" cy="428.78" r="1" fill="#eea866"/><circle cx="221.34" cy="389.59" r="1" fill="#eea866"/><circle cx="257.01" cy="355.75" r="1" fill="#eea866"/><circle cx="244.25" cy="364.39" r="1" fill="#66aad6"/><circle cx="188.71" cy="416.83" r="1" fill="#66aad6"/><circle cx="173.28" cy="424.66" r="1" fill="#eea866"/><circle cx="198.92" cy="403.9" r="1" fill="#66aad6"/><circle cx="234.17" cy="372.86" r="1" fill="#66aad6"/><circle cx="182.51" cy="418.66" r="1" fill="#eea866"/><circle cx="234.84" cy="381.36" r="1" fill="#eea866"/><circle cx="251.75" cy="350.84" r="1" fill="#66aad6"/><circle cx="173.72" cy="423.39" r="1" fill="#eea866"/><circle cx="226.65" cy="389.96" r="1" fill="#d95652"/><circle cx="179.79" cy="424.51" r="1" fill="#eea866"/><circle cx="213.97" cy="405.82" r="1" fill="#d95652"/><circle cx="205.2" cy="413.2" r="1" fill="#eea866"/><circle cx="185.34" cy="419.68" r="1" fill="#eea866"/><circle cx="223.56" cy="388.41" r="1" fill="#eea866"/><circle cx="262.44" cy="354.21" r="1" fill="#eea866"/><circle cx="218.9" cy="402.58" r="1" fill="#eea866"/><circle cx="180.96" cy="431.36" r="1" fill="#d95652"/><circle cx="197.73" cy="418.37" r="1" fill="#d95652"/><circle cx="234.19" cy="362.44" r="1" fill="#66aad6"/><circle cx="197.81" cy="390.01" r="1" fill="#66aad6"/><circle cx="172.46" cy="427.95" r="1" fill="#66aad6"/><circle cx="173.75" cy="429.63" r="1" fill="#eea866"/><circle cx="175.11" cy="426.9" r="1" fill="#66aad6"/><circle cx="181.29" cy="412.61" r="1" fill="#66aad6"/><circle cx="248.17" cy="359.88" r="1" fill="#66aad6"/><circle cx="240.23" cy="368.97" r="1" fill="#66aad6"/><circle cx="174.43" cy="419.07" r="1" fill="#66aad6"/><circle cx="257.26" cy="374.68" r="1" fill="#eea866"/><circle cx="175.16" cy="430.49" r="1" fill="#eea866"/><circle cx="242.07" cy="391.18" r="1" fill="#eea866"/><circle cx="207.55" cy="405.02" r="1" fill="#eea866"/><circle cx="187.15" cy="417.07" r="1" fill="#d95652"/><circle cx="253.86" cy="384.83" r="1" fill="#d95652"/><circle cx="207.45" cy="410.2" r="1" fill="#eea866"/><circle cx="211.76" cy="386.7" r="1" fill="#eea866"/><circle cx="173.52" cy="427.51" r="1" fill="#66aad6"/><circle cx="223.72" cy="391.41" r="1" fill="#eea866"/><circle cx="221.07" cy="383.76" r="1" fill="#66aad6"/><circle cx="232" cy="371" r="1" fill="#eea866"/><circle cx="220.96" cy="389.22" r="1" fill="#eea866"/><circle cx="204.07" cy="414.83" r="1" fill="#d95652"/><circle cx="248.84" cy="366.46" r="1" fill="#eea866"/><circle cx="244.31" cy="364.04" r="1" fill="#eea866"/><circle cx="193.81" cy="411.71" r="1" fill="#eea866"/><circle cx="193.89" cy="415.06" r="1" fill="#66aad6"/><circle cx="172.73" cy="427.14" r="1" fill="#eea866"/><circle cx="200.56" cy="408.34" r="1" fill="#eea866"/><circle cx="237.53" cy="368.49" r="1" fill="#eea866"/><circle cx="240.56" cy="377.75" r="1" fill="#eea866"/><circle cx="213.19" cy="394.42" r="1" fill="#eea866"/><circle cx="261.75" cy="358.15" r="1" fill="#eea866"/><circle cx="208.88" cy="407.67" r="1" fill="#d95652"/><circle cx="192.83" cy="420.4" r="1" fill="#d95652"/><circle cx="253.98" cy="397.42" r="1" fill="#d95652"/><circle cx="213.65" cy="381.79" r="1" fill="#66aad6"/><circle cx="196.72" cy="398.93" r="1" fill="#66aad6"/><circle cx="258.1" cy="345.13" r="1" fill="#66aad6"/><circle cx="172.28" cy="428.25" r="1" fill="#d95652"/><circle cx="241.87" cy="374.83" r="1" fill="#eea866"/><circle cx="238.97" cy="376.56" r="1" fill="#eea866"/><circle cx="201.28" cy="411.71" r="1" fill="#d95652"/><circle cx="225.06" cy="381.48" r="1" fill="#eea866"/><circle cx="175.78" cy="422.65" r="1" fill="#66aad6"/><circle cx="179.21" cy="426.54" r="1" fill="#eea866"/><circle cx="177.03" cy="433.49" r="1" fill="#d95652"/><circle cx="254.42" cy="373.12" r="1" fill="#eea866"/><circle cx="228.41" cy="384.13" r="1" fill="#eea866"/><circle cx="257.58" cy="369.24" r="1" fill="#d95652"/><circle cx="228.44" cy="384.66" r="1" fill="#eea866"/><circle cx="194.12" cy="413.45" r="1" fill="#eea866"/><circle cx="224.52" cy="387.3" r="1" fill="#66aad6"/><circle cx="232.54" cy="383.51" r="1" fill="#eea866"/><circle cx="199.57" cy="395.26" r="1" fill="#66aad6"/><circle cx="181.68" cy="430.94" r="1" fill="#d95652"/><circle cx="208.95" cy="417.97" r="1" fill="#d95652"/><circle cx="232.87" cy="388.61" r="1" fill="#eea866"/><circle cx="244.67" cy="364.63" r="1" fill="#66aad6"/><circle cx="203.15" cy="403.9" r="1" fill="#66aad6"/><circle cx="224.5" cy="391.17" r="1" fill="#eea866"/><circle cx="204.08" cy="414.41" r="1" fill="#d95652"/><circle cx="209.07" cy="387.15" r="1" fill="#eea866"/><circle cx="211.95" cy="419.23" r="1" fill="#d95652"/><circle cx="216.76" cy="385.79" r="1" fill="#66aad6"/><circle cx="174.78" cy="423.76" r="1" fill="#eea866"/><circle cx="243.43" cy="360.56" r="1" fill="#66aad6"/><circle cx="181.82" cy="417.25" r="1" fill="#66aad6"/><circle cx="181.86" cy="421.45" r="1" fill="#eea866"/><circle cx="174.45" cy="420.87" r="1" fill="#d95652"/><circle cx="173.23" cy="429.12" r="1" fill="#d95652"/><circle cx="253.05" cy="366.43" r="1" fill="#eea866"/><circle cx="176.75" cy="425.15" r="1" fill="#66aad6"/><circle cx="252.7" cy="362.34" r="1" fill="#eea866"/><circle cx="215.27" cy="389.59" r="1" fill="#eea866"/><circle cx="243.51" cy="373.14" r="1" fill="#eea866"/><circle cx="243.42" cy="363.03" r="1" fill="#66aad6"/><circle cx="239.67" cy="368.22" r="1" fill="#eea866"/><circle cx="178.44" cy="421.91" r="1" fill="#66aad6"/><circle cx="219.87" cy="393.03" r="1" fill="#eea866"/><circle cx="203.66" cy="413.07" r="1" fill="#eea866"/><circle cx="216.69" cy="390.68" r="1" fill="#66aad6"/><circle cx="185.36" cy="418.73" r="1" fill="#eea866"/><circle cx="195.8" cy="407.53" r="1" fill="#66aad6"/><circle cx="191.61" cy="407.48" r="1" fill="#66aad6"/><circle cx="188.07" cy="414.89" r="1" fill="#eea866"/><circle cx="253.87" cy="370.76" r="1" fill="#66aad6"/><circle cx="218.37" cy="385.16" r="1" fill="#eea866"/><circle cx="238.52" cy="364.05" r="1" fill="#66aad6"/><circle cx="219.14" cy="414.25" r="1" fill="#d95652"/><circle cx="255.49" cy="367.9" r="1" fill="#eea866"/><circle cx="173.91" cy="423.53" r="1" fill="#66aad6"/><circle cx="244.23" cy="364.45" r="1" fill="#eea866"/><circle cx="259.66" cy="363.42" r="1" fill="#66aad6"/><circle cx="176.26" cy="430.28" r="1" fill="#eea866"/><circle cx="174.8" cy="426.69" r="1" fill="#66aad6"/><circle cx="201.97" cy="393.71" r="1" fill="#66aad6"/><circle cx="251.86" cy="348.6" r="1" fill="#66aad6"/><circle cx="196.63" cy="400.39" r="1" fill="#66aad6"/><circle cx="245.58" cy="367.18" r="1" fill="#eea866"/><circle cx="173.7" cy="430.59" r="1" fill="#d95652"/><circle cx="232.89" cy="374.65" r="1" fill="#66aad6"/><circle cx="172.27" cy="430.41" r="1" fill="#eea866"/><circle cx="229.32" cy="392.11" r="1" fill="#eea866"/><circle cx="181.19" cy="414.58" r="1" fill="#eea866"/><circle cx="187.32" cy="417.02" r="1" fill="#66aad6"/><circle cx="256.79" cy="355.9" r="1" fill="#66aad6"/><circle cx="243.62" cy="376.31" r="1" fill="#66aad6"/><circle cx="175.24" cy="422.75" r="1" fill="#66aad6"/><circle cx="179.04" cy="422.13" r="1" fill="#d95652"/><circle cx="174.38" cy="425.62" r="1" fill="#d95652"/><circle cx="259.7" cy="365.6" r="1" fill="#eea866"/><circle cx="207.12" cy="414.45" r="1" fill="#d95652"/><circle cx="245.27" cy="355.73" r="1" fill="#66aad6"/><circle cx="250.91" cy="381.09" r="1" fill="#eea866"/><circle cx="248.63" cy="391.67" r="1" fill="#d95652"/><circle cx="246.59" cy="381.01" r="1" fill="#eea866"/><circle cx="174.97" cy="421.46" r="1" fill="#eea866"/><circle cx="218.05" cy="399.34" r="1" fill="#eea866"/><circle cx="178.33" cy="418.33" r="1" fill="#eea866"/><circle cx="173.16" cy="427.78" r="1" fill="#eea866"/><circle cx="237.49" cy="376.4" r="1" fill="#eea866"/><circle cx="238.02" cy="390.91" r="1" fill="#d95652"/><circle cx="216.17" cy="405.91" r="1" fill="#d95652"/><circle cx="191.86" cy="402.87" r="1" fill="#66aad6"/><circle cx="226.7" cy="404.7" r="1" fill="#d95652"/><circle cx="216.57" cy="395.9" r="1" fill="#eea866"/><circle cx="239.72" cy="398.38" r="1" fill="#d95652"/><circle cx="175.01" cy="427.31" r="1" fill="#d95652"/><circle cx="204.67" cy="397.31" r="1" fill="#66aad6"/><circle cx="202.01" cy="396.98" r="1" fill="#66aad6"/><circle cx="229.96" cy="392.64" r="1" fill="#66aad6"/><circle cx="227.74" cy="417.57" r="1" fill="#d95652"/><circle cx="195.08" cy="398.49" r="1" fill="#66aad6"/><circle cx="234.86" cy="371.61" r="1" fill="#66aad6"/><circle cx="234.53" cy="379.94" r="1" fill="#eea866"/><circle cx="258.2" cy="357.26" r="1" fill="#eea866"/><circle cx="254.41" cy="371.77" r="1" fill="#eea866"/><circle cx="173.2" cy="431.53" r="1" fill="#d95652"/><circle cx="211.73" cy="407.74" r="1" fill="#d95652"/><circle cx="218.71" cy="389.03" r="1" fill="#eea866"/><circle cx="233.63" cy="369.29" r="1" fill="#66aad6"/><circle cx="226.84" cy="388.42" r="1" fill="#eea866"/><circle cx="249.86" cy="393.91" r="1" fill="#d95652"/><circle cx="237.95" cy="395.45" r="1" fill="#eea866"/><circle cx="207.51" cy="382.98" r="1" fill="#66aad6"/><circle cx="199.62" cy="403.69" r="1" fill="#66aad6"/><circle cx="253.08" cy="362.85" r="1" fill="#eea866"/><circle cx="239.9" cy="385.1" r="1" fill="#d95652"/><circle cx="205.2" cy="392.08" r="1" fill="#eea866"/><circle cx="231.05" cy="384.54" r="1" fill="#eea866"/><circle cx="172.39" cy="429.24" r="1" fill="#eea866"/><circle cx="249.4" cy="368.64" r="1" fill="#eea866"/><circle cx="248.71" cy="386.54" r="1" fill="#d95652"/><circle cx="187.39" cy="418.23" r="1" fill="#eea866"/><circle cx="172.32" cy="425.94" r="1" fill="#66aad6"/><circle cx="252.52" cy="371.89" r="1" fill="#eea866"/><circle cx="174.73" cy="427.3" r="1" fill="#d95652"/><circle cx="204.72" cy="405.3" r="1" fill="#eea866"/><circle cx="201.16" cy="408.96" r="1" fill="#d95652"/><circle cx="239.2" cy="399.11" r="1" fill="#d95652"/><circle cx="260.91" cy="343.81" r="1" fill="#66aad6"/><circle cx="190.95" cy="419.92" r="1" fill="#eea866"/><circle cx="192.58" cy="414.8" r="1" fill="#eea866"/><circle cx="193.32" cy="420.53" r="1" fill="#eea866"/><circle cx="251.25" cy="361.28" r="1" fill="#66aad6"/><circle cx="262.32" cy="347.19" r="1" fill="#66aad6"/><circle cx="214.29" cy="382.51" r="1" fill="#66aad6"/><circle cx="227.68" cy="397.22" r="1" fill="#eea866"/><circle cx="175.99" cy="430.01" r="1" fill="#eea866"/><circle cx="247.95" cy="380.12" r="1" fill="#d95652"/><circle cx="236.95" cy="388.52" r="1" fill="#eea866"/><circle cx="223.67" cy="373.18" r="1" fill="#66aad6"/><circle cx="255.1" cy="368.22" r="1" fill="#d95652"/><circle cx="226.36" cy="394.52" r="1" fill="#d95652"/><circle cx="194.46" cy="418.31" r="1" fill="#eea866"/><circle cx="194.9" cy="422.71" r="1" fill="#d95652"/><circle cx="198.12" cy="405.94" r="1" fill="#eea866"/><circle cx="174.93" cy="427.33" r="1" fill="#eea866"/><circle cx="251.36" cy="376.63" r="1" fill="#d95652"/><circle cx="174.24" cy="426.68" r="1" fill="#eea866"/><circle cx="219.81" cy="381.16" r="1" fill="#eea866"/><circle cx="218.49" cy="379.25" r="1" fill="#66aad6"/><circle cx="241.87" cy="363.98" r="1" fill="#eea866"/><circle cx="250.48" cy="362.12" r="1" fill="#66aad6"/><circle cx="259.97" cy="376.73" r="1" fill="#eea866"/><circle cx="180.09" cy="421.82" r="1" fill="#eea866"/><circle cx="172.73" cy="421.11" r="1" fill="#eea866"/><circle cx="201.6" cy="413.95" r="1" fill="#d95652"/><circle cx="175.23" cy="423.44" r="1" fill="#66aad6"/><circle cx="198.57" cy="414.34" r="1" fill="#eea866"/><circle cx="224.67" cy="390.95" r="1" fill="#eea866"/><circle cx="182.1" cy="414.4" r="1" fill="#66aad6"/><circle cx="206.54" cy="406" r="1" fill="#eea866"/><circle cx="176.14" cy="437.27" r="1" fill="#d95652"/><circle cx="199.25" cy="400.11" r="1" fill="#66aad6"/><circle cx="173.09" cy="420.02" r="1" fill="#66aad6"/><circle cx="262.36" cy="361.78" r="1" fill="#66aad6"/><circle cx="175.12" cy="430.85" r="1" fill="#66aad6"/><circle cx="205.08" cy="387.99" r="1" fill="#66aad6"/><circle cx="255.74" cy="361.82" r="1" fill="#66aad6"/><circle cx="225" cy="379.58" r="1" fill="#eea866"/><circle cx="176" cy="423.49" r="1" fill="#66aad6"/><circle cx="200.88" cy="391.28" r="1" fill="#66aad6"/><circle cx="209.47" cy="408.65" r="1" fill="#d95652"/><circle cx="214.05" cy="393.39" r="1" fill="#d95652"/><circle cx="204.74" cy="395.41" r="1" fill="#66aad6"/><circle cx="224.14" cy="384.19" r="1" fill="#66aad6"/><circle cx="209.78" cy="396.51" r="1" fill="#66aad6"/><circle cx="241.55" cy="381.39" r="1" fill="#d95652"/><circle cx="177.44" cy="426.15" r="1" fill="#d95652"/><circle cx="218.08" cy="372.07" r="1" fill="#66aad6"/><circle cx="220.88" cy="397.3" r="1" fill="#eea866"/><circle cx="243.13" cy="387.48" r="1" fill="#eea866"/><circle cx="178.82" cy="417.58" r="1" fill="#eea866"/><circle cx="246.19" cy="372.07" r="1" fill="#66aad6"/><circle cx="181.4" cy="424.2" r="1" fill="#d95652"/><circle cx="259.76" cy="365.64" r="1" fill="#eea866"/><circle cx="174.98" cy="435.15" r="1" fill="#d95652"/><circle cx="210.73" cy="401.04" r="1" fill="#66aad6"/><circle cx="237.83" cy="370.71" r="1" fill="#66aad6"/><circle cx="199.49" cy="416.79" r="1" fill="#d95652"/><circle cx="218.96" cy="396.01" r="1" fill="#eea866"/><circle cx="229.99" cy="369.77" r="1" fill="#66aad6"/><circle cx="172.87" cy="436.25" r="1" fill="#eea866"/><circle cx="235.82" cy="399.99" r="1" fill="#d95652"/><circle cx="225.28" cy="390.4" r="1" fill="#66aad6"/><circle cx="192.65" cy="416.24" r="1" fill="#eea866"/><circle cx="172.36" cy="437.04" r="1" fill="#66aad6"/><circle cx="231" cy="369.52" r="1" fill="#66aad6"/><circle cx="252.65" cy="372.53" r="1" fill="#d95652"/><circle cx="200.3" cy="396.6" r="1" fill="#66aad6"/><circle cx="174.53" cy="417.75" r="1" fill="#66aad6"/><circle cx="256.89" cy="368.54" r="1" fill="#66aad6"/><circle cx="200.57" cy="413.57" r="1" fill="#eea866"/><circle cx="178.19" cy="422.68" r="1" fill="#d95652"/><circle cx="217.88" cy="400.07" r="1" fill="#eea866"/><circle cx="214.99" cy="395.33" r="1" fill="#eea866"/><circle cx="210.82" cy="407.29" r="1" fill="#eea866"/><circle cx="190.65" cy="413.94" r="1" fill="#eea866"/><circle cx="233.82" cy="373.51" r="1" fill="#eea866"/><circle cx="228.86" cy="375.47" r="1" fill="#66aad6"/><circle cx="180.12" cy="422.95" r="1" fill="#eea866"/><circle cx="232.14" cy="375.02" r="1" fill="#66aad6"/><circle cx="214.69" cy="386.13" r="1" fill="#66aad6"/><circle cx="252.41" cy="353.84" r="1" fill="#66aad6"/><circle cx="206.43" cy="390.88" r="1" fill="#66aad6"/><circle cx="247.49" cy="384.9" r="1" fill="#d95652"/><circle cx="174.35" cy="434.48" r="1" fill="#d95652"/><circle cx="210.15" cy="401.8" r="1" fill="#eea866"/><circle cx="182.4" cy="414.87" r="1" fill="#66aad6"/><circle cx="225.56" cy="409.4" r="1" fill="#d95652"/><circle cx="238.74" cy="394.06" r="1" fill="#d95652"/><circle cx="198.04" cy="411.81" r="1" fill="#eea866"/><circle cx="208.89" cy="410.41" r="1" fill="#eea866"/><circle cx="185.37" cy="415.74" r="1" fill="#66aad6"/><circle cx="199.18" cy="395.68" r="1" fill="#eea866"/><circle cx="247.82" cy="352.1" r="1" fill="#66aad6"/><circle cx="221.02" cy="392.79" r="1" fill="#eea866"/><circle cx="194.11" cy="411.82" r="1" fill="#d95652"/><circle cx="196.26" cy="403.96" r="1" fill="#66aad6"/><circle cx="253.75" cy="364.55" r="1" fill="#66aad6"/><circle cx="199.37" cy="417.21" r="1" fill="#eea866"/><circle cx="204.77" cy="412.78" r="1" fill="#d95652"/><circle cx="232.87" cy="379.28" r="1" fill="#eea866"/><circle cx="251.34" cy="353.88" r="1" fill="#66aad6"/><circle cx="229.77" cy="390.39" r="1" fill="#eea866"/><circle cx="253.18" cy="363.75" r="1" fill="#66aad6"/><circle cx="233.28" cy="362.21" r="1" fill="#66aad6"/><circle cx="202.92" cy="404.09" r="1" fill="#eea866"/><circle cx="194.41" cy="411.72" r="1" fill="#66aad6"/><circle cx="186.12" cy="412.44" r="1" fill="#d95652"/><circle cx="195.25" cy="415.57" r="1" fill="#eea866"/><circle cx="226.13" cy="399.63" r="1" fill="#d95652"/><circle cx="261.47" cy="361.51" r="1" fill="#eea866"/><circle cx="207.14" cy="403.94" r="1" fill="#eea866"/><circle cx="174.9" cy="427.92" r="1" fill="#eea866"/><circle cx="191.25" cy="415.3" r="1" fill="#66aad6"/><circle cx="231.33" cy="376.39" r="1" fill="#66aad6"/><circle cx="216.78" cy="385.05" r="1" fill="#eea866"/><circle cx="211.88" cy="395.92" r="1" fill="#eea866"/><circle cx="187.73" cy="414.72" r="1" fill="#66aad6"/><circle cx="243.72" cy="373.27" r="1" fill="#66aad6"/></g>
<polygon points="172.2,425.21 175.96,421.75 179.73,418.27 183.49,414.8 187.25,411.31 191.02,407.82 194.78,404.41 198.54,401.25 202.31,398.08 206.07,394.91 209.84,391.73 213.6,388.54 217.36,385.35 221.13,382.22 224.89,379.65 228.65,377.08 232.42,374.5 236.18,371.92 239.94,369.33 243.71,366.73 247.47,364.13 251.23,361.53 255,358.91 258.76,356.3 262.52,353.68 262.52,357.52 258.76,359.99 255,362.47 251.23,364.94 247.47,367.43 243.71,369.92 239.94,372.41 236.18,374.92 232.42,377.42 228.65,379.93 224.89,382.45 221.13,384.98 217.36,388.08 213.6,391.25 209.84,394.42 206.07,397.61 202.31,400.79 198.54,403.98 194.78,407.18 191.02,410.63 187.25,414.18 183.49,417.73 179.73,421.29 175.96,424.85 172.2,428.42" fill="#999999" fill-opacity="0.4"/>
<polyline points="172.2,426.82 175.96,423.3 179.73,419.78 183.49,416.26 187.25,412.75 191.02,409.23 194.78,405.8 198.54,402.62 202.31,399.44 206.07,396.26 209.84,393.08 213.6,389.9 217.36,386.72 221.13,383.6 224.89,381.05 228.65,378.51 232.42,375.96 236.18,373.42 239.94,370.87 243.71,368.33 247.47,365.78 251.23,363.24 255,360.69 258.76,358.15 262.52,355.6" fill="none" stroke="#3f86bd" stroke-width="2.3" stroke-linejoin="round" stroke-linecap="butt"/>
<polygon points="172.2,426.82 176.02,423.93 179.84,421.04 183.67,418.15 187.49,415.25 191.31,412.34 195.13,409.43 198.95,406.52 202.78,403.59 206.6,400.66 210.42,397.73 214.24,394.79 218.06,391.85 221.89,389.18 225.71,386.59 229.53,384 233.35,381.4 237.17,378.79 241,376.18 244.82,373.57 248.64,370.95 252.46,368.32 256.28,365.69 260.11,363.05 263.93,360.41 263.93,364.26 260.11,366.75 256.28,369.24 252.46,371.74 248.64,374.25 244.82,376.76 241,379.27 237.17,381.79 233.35,384.32 229.53,386.85 225.71,389.39 221.89,391.93 218.06,394.57 214.24,397.5 210.42,400.43 206.6,403.36 202.78,406.3 198.95,409.25 195.13,412.2 191.31,415.16 187.49,418.12 183.67,421.09 179.84,424.06 176.02,427.04 172.2,430.03" fill="#999999" fill-opacity="0.4"/>
<polyline points="172.2,428.42 176.02,425.49 179.84,422.55 183.67,419.62 187.49,416.68 191.31,413.75 195.13,410.82 198.95,407.88 202.78,404.95 206.6,402.01 210.42,399.08 214.24,396.14 218.06,393.21 221.89,390.55 225.71,387.99 229.53,385.42 233.35,382.86 237.17,380.29 241,377.73 244.82,375.16 248.64,372.6 252.46,370.03 256.28,367.47 260.11,364.9 263.93,362.34" fill="none" stroke="#f0a052" stroke-width="2.3" stroke-linejoin="round" stroke-linecap="butt"/>
<polygon points="172.2,428.42 175.8,426.3 179.39,424.18 182.99,422.04 186.58,419.91 190.18,417.76 193.77,415.61 197.37,413.45 200.97,411.28 204.56,409.11 208.16,406.93 211.75,404.75 215.35,402.55 218.95,400.35 222.54,398.13 226.14,395.89 229.73,393.65 233.33,391.41 236.92,389.15 240.52,386.89 244.12,384.63 247.71,382.35 251.31,380.07 254.9,377.78 258.5,375.49 258.5,380.62 254.9,382.71 251.31,384.8 247.71,386.9 244.12,389.01 240.52,391.12 236.92,393.24 233.33,395.37 229.73,397.5 226.14,399.64 222.54,401.79 218.95,403.94 215.35,406.08 211.75,408.23 208.16,410.38 204.56,412.54 200.97,414.71 197.37,416.88 193.77,419.06 190.18,421.24 186.58,423.43 182.99,425.63 179.39,427.84 175.8,430.05 172.2,432.27" fill="#999999" fill-opacity="0.4"/>
<polyline points="172.2,430.35 175.8,428.18 179.39,426.01 182.99,423.84 186.58,421.67 190.18,419.5 193.77,417.33 197.37,415.16 200.97,412.99 204.56,410.83 208.16,408.66 211.75,406.49 215.35,404.32 218.95,402.15 222.54,399.96 226.14,397.77 229.73,395.58 233.33,393.39 236.92,391.2 240.52,389.01 244.12,386.82 247.71,384.63 251.31,382.44 254.9,380.25 258.5,378.06" fill="none" stroke="#dc4a3e" stroke-width="2.3" stroke-linejoin="round" stroke-linecap="butt"/>
<rect x="167.9" y="339.6" width="100.1" height="100.7" fill="none" stroke="#bdbdbd" stroke-width="1"/>
<g><circle cx="360.74" cy="359.75" r="1" fill="#d95652"/><circle cx="378.45" cy="363.09" r="1" fill="#eea866"/><circle cx="303.36" cy="398.63" r="1" fill="#eea866"/><circle cx="295.52" cy="387.83" r="1" fill="#d95652"/><circle cx="342.03" cy="386.08" r="1" fill="#eea866"/><circle cx="371.04" cy="374.17" r="1" fill="#66aad6"/><circle cx="367.29" cy="366.99" r="1" fill="#d95652"/><circle cx="298.25" cy="428.02" r="1" fill="#66aad6"/><circle cx="297.16" cy="408.11" r="1" fill="#eea866"/><circle cx="297.97" cy="405.02" r="1" fill="#d95652"/><circle cx="340.37" cy="387.6" r="1" fill="#eea866"/><circle cx="299.41" cy="427.66" r="1" fill="#66aad6"/><circle cx="333.29" cy="398.05" r="1" fill="#eea866"/><circle cx="306.66" cy="400.81" r="1" fill="#d95652"/><circle cx="319.54" cy="405.89" r="1" fill="#eea866"/><circle cx="305.38" cy="406.39" r="1" fill="#d95652"/><circle cx="377.8" cy="360.48" r="1" fill="#eea866"/><circle cx="316.08" cy="382.69" r="1" fill="#eea866"/><circle cx="331.72" cy="392.51" r="1" fill="#eea866"/><circle cx="313.6" cy="377.06" r="1" fill="#eea866"/><circle cx="353.84" cy="377.19" r="1" fill="#eea866"/><circle cx="369.31" cy="372.85" r="1" fill="#eea866"/><circle cx="360.57" cy="365.78" r="1" fill="#d95652"/><circle cx="296.19" cy="405.46" r="1" fill="#d95652"/><circle cx="299.38" cy="434.1" r="1" fill="#66aad6"/><circle cx="337.63" cy="395.67" r="1" fill="#eea866"/><circle cx="343.01" cy="382.13" r="1" fill="#d95652"/><circle cx="315.85" cy="389.81" r="1" fill="#eea866"/><circle cx="312.62" cy="393.45" r="1" fill="#d95652"/><circle cx="358.09" cy="376.15" r="1" fill="#66aad6"/><circle cx="356.94" cy="377.16" r="1" fill="#eea866"/><circle cx="315.12" cy="408.8" r="1" fill="#66aad6"/><circle cx="354.67" cy="401.52" r="1" fill="#66aad6"/><circle cx="331.92" cy="391.86" r="1" fill="#eea866"/><circle cx="317.88" cy="408.37" r="1" fill="#eea866"/><circle cx="298.5" cy="408.14" r="1" fill="#eea866"/><circle cx="298.45" cy="415.96" r="1" fill="#66aad6"/><circle cx="323.31" cy="409.62" r="1" fill="#66aad6"/><circle cx="339.05" cy="399.21" r="1" fill="#66aad6"/><circle cx="364.59" cy="390.15" r="1" fill="#eea866"/><circle cx="361.92" cy="376.28" r="1" fill="#eea866"/><circle cx="327.37" cy="390.94" r="1" fill="#eea866"/><circle cx="372.81" cy="370.81" r="1" fill="#66aad6"/><circle cx="375.01" cy="367.24" r="1" fill="#eea866"/><circle cx="384.02" cy="362.2" r="1" fill="#d95652"/><circle cx="305.64" cy="422.2" r="1" fill="#eea866"/><circle cx="337.24" cy="385.29" r="1" fill="#d95652"/><circle cx="319.79" cy="401.43" r="1" fill="#eea866"/><circle cx="383.33" cy="364.16" r="1" fill="#eea866"/><circle cx="361.32" cy="365.11" r="1" fill="#d95652"/><circle cx="296.32" cy="413.74" r="1" fill="#d95652"/><circle cx="295.02" cy="397.65" r="1" fill="#d95652"/><circle cx="382.31" cy="371.83" r="1" fill="#66aad6"/><circle cx="306.74" cy="409.42" r="1" fill="#d95652"/><circle cx="321.71" cy="399.5" r="1" fill="#66aad6"/><circle cx="315.16" cy="398.6" r="1" fill="#66aad6"/><circle cx="294.99" cy="412.61" r="1" fill="#eea866"/><circle cx="314.68" cy="386.56" r="1" fill="#eea866"/><circle cx="369.19" cy="362.26" r="1" fill="#eea866"/><circle cx="324.99" cy="412.57" r="1" fill="#eea866"/><circle cx="336.42" cy="389.61" r="1" fill="#eea866"/><circle cx="383.71" cy="369.73" r="1" fill="#d95652"/><circle cx="370.69" cy="369.37" r="1" fill="#d95652"/><circle cx="325.65" cy="405.48" r="1" fill="#66aad6"/><circle cx="347.11" cy="410" r="1" fill="#eea866"/><circle cx="371.21" cy="379.99" r="1" fill="#66aad6"/><circle cx="295.31" cy="397.43" r="1" fill="#eea866"/><circle cx="372.75" cy="366.61" r="1" fill="#d95652"/><circle cx="369.62" cy="361.81" r="1" fill="#d95652"/><circle cx="372.08" cy="367.09" r="1" fill="#66aad6"/><circle cx="296.77" cy="410.65" r="1" fill="#eea866"/><circle cx="303.61" cy="435.77" r="1" fill="#eea866"/><circle cx="301.97" cy="422.51" r="1" fill="#eea866"/><circle cx="348.27" cy="383.93" r="1" fill="#66aad6"/><circle cx="371.36" cy="365.29" r="1" fill="#d95652"/><circle cx="377.43" cy="367.41" r="1" fill="#66aad6"/><circle cx="337.63" cy="375.53" r="1" fill="#66aad6"/><circle cx="325.35" cy="390.54" r="1" fill="#eea866"/><circle cx="324.95" cy="401.05" r="1" fill="#66aad6"/><circle cx="342.39" cy="397.82" r="1" fill="#66aad6"/><circle cx="295.94" cy="395.89" r="1" fill="#d95652"/><circle cx="315.23" cy="409.53" r="1" fill="#66aad6"/><circle cx="364.96" cy="379.12" r="1" fill="#66aad6"/><circle cx="318.55" cy="397.7" r="1" fill="#eea866"/><circle cx="359.49" cy="374.79" r="1" fill="#66aad6"/><circle cx="344.38" cy="390.04" r="1" fill="#66aad6"/><circle cx="324.23" cy="398.26" r="1" fill="#eea866"/><circle cx="297.08" cy="398.68" r="1" fill="#eea866"/><circle cx="380.4" cy="354.81" r="1" fill="#66aad6"/><circle cx="331.15" cy="397.8" r="1" fill="#eea866"/><circle cx="325.99" cy="407.28" r="1" fill="#eea866"/><circle cx="315.3" cy="405.49" r="1" fill="#66aad6"/><circle cx="366.93" cy="367.47" r="1" fill="#eea866"/><circle cx="323.12" cy="385.17" r="1" fill="#eea866"/><circle cx="337.53" cy="411.43" r="1" fill="#eea866"/><circle cx="340.28" cy="392.37" r="1" fill="#66aad6"/><circle cx="316.99" cy="388.03" r="1" fill="#d95652"/><circle cx="347.96" cy="387.52" r="1" fill="#eea866"/><circle cx="363.45" cy="384.77" r="1" fill="#66aad6"/><circle cx="374.57" cy="372.24" r="1" fill="#eea866"/><circle cx="352.38" cy="400.28" r="1" fill="#eea866"/><circle cx="320.73" cy="393.7" r="1" fill="#eea866"/><circle cx="298.03" cy="411.87" r="1" fill="#eea866"/><circle cx="337.25" cy="377.79" r="1" fill="#d95652"/><circle cx="295.45" cy="418.99" r="1" fill="#66aad6"/><circle cx="306.23" cy="407.25" r="1" fill="#d95652"/><circle cx="364.88" cy="372.93" r="1" fill="#eea866"/><circle cx="347.28" cy="393.54" r="1" fill="#eea866"/><circle cx="346.47" cy="386.13" r="1" fill="#eea866"/><circle cx="331.36" cy="413.73" r="1" fill="#66aad6"/><circle cx="343.23" cy="391.4" r="1" fill="#eea866"/><circle cx="306.73" cy="387.9" r="1" fill="#66aad6"/><circle cx="296.05" cy="396.38" r="1" fill="#eea866"/><circle cx="360.47" cy="370.77" r="1" fill="#eea866"/><circle cx="322.74" cy="415.71" r="1" fill="#66aad6"/><circle cx="318.02" cy="399.38" r="1" fill="#d95652"/><circle cx="315.44" cy="399.28" r="1" fill="#d95652"/><circle cx="303.61" cy="412.82" r="1" fill="#66aad6"/><circle cx="374.7" cy="367.72" r="1" fill="#66aad6"/><circle cx="342.58" cy="389.77" r="1" fill="#eea866"/><circle cx="304.87" cy="411.98" r="1" fill="#d95652"/><circle cx="377.18" cy="361.58" r="1" fill="#66aad6"/><circle cx="370.97" cy="373.92" r="1" fill="#66aad6"/><circle cx="373.52" cy="363.4" r="1" fill="#eea866"/><circle cx="342.15" cy="394.19" r="1" fill="#eea866"/><circle cx="322.67" cy="394.15" r="1" fill="#eea866"/><circle cx="295.84" cy="414.96" r="1" fill="#66aad6"/><circle cx="364.43" cy="382.1" r="1" fill="#66aad6"/><circle cx="349.15" cy="408.33" r="1" fill="#66aad6"/><circle cx="333.24" cy="392.3" r="1" fill="#66aad6"/><circle cx="352.29" cy="381.65" r="1" fill="#eea866"/><circle cx="297.07" cy="377.6" r="1" fill="#d95652"/><circle cx="309.17" cy="419.4" r="1" fill="#eea866"/><circle cx="308.52" cy="428.62" r="1" fill="#66aad6"/><circle cx="341.19" cy="382.61" r="1" fill="#eea866"/><circle cx="315.83" cy="412.21" r="1" fill="#66aad6"/><circle cx="306.26" cy="393.19" r="1" fill="#d95652"/><circle cx="313.99" cy="419.29" r="1" fill="#eea866"/><circle cx="308.85" cy="389.5" r="1" fill="#d95652"/><circle cx="344.65" cy="402.78" r="1" fill="#66aad6"/><circle cx="324.07" cy="398.03" r="1" fill="#eea866"/><circle cx="327.72" cy="398.93" r="1" fill="#eea866"/><circle cx="329.39" cy="405.46" r="1" fill="#66aad6"/><circle cx="344.53" cy="407.12" r="1" fill="#66aad6"/><circle cx="353.63" cy="379.81" r="1" fill="#eea866"/><circle cx="384.29" cy="351.41" r="1" fill="#d95652"/><circle cx="376.83" cy="365.49" r="1" fill="#d95652"/><circle cx="321.01" cy="414.17" r="1" fill="#eea866"/><circle cx="296.26" cy="405.67" r="1" fill="#66aad6"/><circle cx="327.96" cy="415.05" r="1" fill="#66aad6"/><circle cx="371.69" cy="357.96" r="1" fill="#d95652"/><circle cx="357.32" cy="381.18" r="1" fill="#eea866"/><circle cx="367.84" cy="362.48" r="1" fill="#d95652"/><circle cx="331.84" cy="388.28" r="1" fill="#d95652"/><circle cx="359.87" cy="371.6" r="1" fill="#d95652"/><circle cx="306.69" cy="400.32" r="1" fill="#eea866"/><circle cx="344.99" cy="382.86" r="1" fill="#eea866"/><circle cx="336.57" cy="387.83" r="1" fill="#d95652"/><circle cx="295.33" cy="407.01" r="1" fill="#66aad6"/><circle cx="354.05" cy="362.23" r="1" fill="#eea866"/><circle cx="374.55" cy="356.56" r="1" fill="#d95652"/><circle cx="316.07" cy="396.88" r="1" fill="#d95652"/><circle cx="357.33" cy="379.3" r="1" fill="#eea866"/><circle cx="369.98" cy="359.26" r="1" fill="#66aad6"/><circle cx="296.07" cy="393.51" r="1" fill="#d95652"/><circle cx="322.67" cy="404.43" r="1" fill="#66aad6"/><circle cx="348.16" cy="373.54" r="1" fill="#d95652"/><circle cx="352.23" cy="401.1" r="1" fill="#66aad6"/><circle cx="352.65" cy="385.69" r="1" fill="#66aad6"/><circle cx="355.7" cy="385.63" r="1" fill="#eea866"/><circle cx="365.06" cy="380.39" r="1" fill="#66aad6"/><circle cx="348.86" cy="402.33" r="1" fill="#66aad6"/><circle cx="375.48" cy="365.23" r="1" fill="#eea866"/><circle cx="332.9" cy="392.92" r="1" fill="#eea866"/><circle cx="342.4" cy="385.93" r="1" fill="#66aad6"/><circle cx="295.85" cy="436.43" r="1" fill="#66aad6"/><circle cx="295.39" cy="411.28" r="1" fill="#66aad6"/><circle cx="355.01" cy="393.58" r="1" fill="#66aad6"/><circle cx="373.83" cy="358.43" r="1" fill="#d95652"/><circle cx="347.28" cy="379.86" r="1" fill="#eea866"/><circle cx="295.29" cy="418.44" r="1" fill="#66aad6"/><circle cx="359.62" cy="374.97" r="1" fill="#eea866"/><circle cx="365.81" cy="371.32" r="1" fill="#eea866"/><circle cx="327.38" cy="398.07" r="1" fill="#d95652"/><circle cx="299.48" cy="408.16" r="1" fill="#66aad6"/><circle cx="326.07" cy="410.56" r="1" fill="#66aad6"/><circle cx="372.9" cy="364.82" r="1" fill="#eea866"/><circle cx="298.12" cy="401.78" r="1" fill="#d95652"/><circle cx="296.82" cy="408.84" r="1" fill="#d95652"/><circle cx="297.72" cy="410" r="1" fill="#eea866"/><circle cx="370.22" cy="378.93" r="1" fill="#66aad6"/><circle cx="340.53" cy="390.71" r="1" fill="#66aad6"/><circle cx="312.46" cy="400.04" r="1" fill="#eea866"/><circle cx="346.72" cy="396.98" r="1" fill="#66aad6"/><circle cx="336.6" cy="402.47" r="1" fill="#66aad6"/><circle cx="334.62" cy="394.49" r="1" fill="#eea866"/><circle cx="313.56" cy="408.01" r="1" fill="#eea866"/><circle cx="302.05" cy="419.59" r="1" fill="#eea866"/><circle cx="320.35" cy="396.17" r="1" fill="#eea866"/><circle cx="337.87" cy="387.74" r="1" fill="#d95652"/><circle cx="354.93" cy="399.22" r="1" fill="#eea866"/><circle cx="346.58" cy="377.6" r="1" fill="#d95652"/><circle cx="334.35" cy="399.35" r="1" fill="#d95652"/><circle cx="311.84" cy="410.85" r="1" fill="#eea866"/><circle cx="346.28" cy="379.61" r="1" fill="#eea866"/><circle cx="305.47" cy="417.21" r="1" fill="#eea866"/><circle cx="327.93" cy="394.99" r="1" fill="#d95652"/><circle cx="335.35" cy="403.38" r="1" fill="#66aad6"/><circle cx="295.17" cy="409.35" r="1" fill="#d95652"/><circle cx="348.81" cy="399.69" r="1" fill="#eea866"/><circle cx="324.54" cy="389.21" r="1" fill="#eea866"/><circle cx="368.24" cy="376.82" r="1" fill="#66aad6"/><circle cx="313.47" cy="400.65" r="1" fill="#eea866"/><circle cx="305.5" cy="389.69" r="1" fill="#66aad6"/><circle cx="317.95" cy="399.59" r="1" fill="#eea866"/><circle cx="371.25" cy="371.65" r="1" fill="#eea866"/><circle cx="359.41" cy="378.81" r="1" fill="#66aad6"/><circle cx="297.83" cy="407.43" r="1" fill="#eea866"/><circle cx="367.09" cy="376.41" r="1" fill="#eea866"/><circle cx="317.8" cy="398.78" r="1" fill="#eea866"/><circle cx="295.75" cy="419.42" r="1" fill="#66aad6"/><circle cx="297.47" cy="407.39" r="1" fill="#66aad6"/><circle cx="364.49" cy="372.58" r="1" fill="#eea866"/><circle cx="380.06" cy="374.21" r="1" fill="#eea866"/><circle cx="366.2" cy="384.65" r="1" fill="#66aad6"/><circle cx="341.76" cy="386.87" r="1" fill="#eea866"/><circle cx="382.85" cy="360.15" r="1" fill="#eea866"/><circle cx="310.38" cy="403.87" r="1" fill="#eea866"/><circle cx="320.32" cy="405.78" r="1" fill="#66aad6"/><circle cx="370.66" cy="374.1" r="1" fill="#eea866"/><circle cx="343.99" cy="383.79" r="1" fill="#d95652"/><circle cx="295.08" cy="411.31" r="1" fill="#66aad6"/><circle cx="330.61" cy="387.04" r="1" fill="#66aad6"/><circle cx="369.45" cy="375.6" r="1" fill="#66aad6"/><circle cx="323.45" cy="410.58" r="1" fill="#66aad6"/><circle cx="360.48" cy="379.05" r="1" fill="#66aad6"/><circle cx="309.55" cy="393.64" r="1" fill="#eea866"/><circle cx="373.31" cy="374.14" r="1" fill="#d95652"/><circle cx="381.25" cy="361.26" r="1" fill="#d95652"/><circle cx="320.19" cy="415.07" r="1" fill="#eea866"/><circle cx="373.37" cy="369.38" r="1" fill="#66aad6"/><circle cx="309.15" cy="398.92" r="1" fill="#eea866"/><circle cx="320.92" cy="394.78" r="1" fill="#eea866"/><circle cx="374.58" cy="377.03" r="1" fill="#eea866"/><circle cx="359.25" cy="361.96" r="1" fill="#d95652"/><circle cx="340.01" cy="367.41" r="1" fill="#66aad6"/><circle cx="364.63" cy="359.85" r="1" fill="#d95652"/><circle cx="298.01" cy="402.2" r="1" fill="#d95652"/><circle cx="376.15" cy="378.97" r="1" fill="#66aad6"/><circle cx="374.9" cy="385.64" r="1" fill="#eea866"/><circle cx="297.98" cy="410.24" r="1" fill="#eea866"/><circle cx="296.87" cy="416.09" r="1" fill="#66aad6"/><circle cx="365.54" cy="383.69" r="1" fill="#66aad6"/><circle cx="354.29" cy="371.24" r="1" fill="#eea866"/><circle cx="295.14" cy="437.5" r="1" fill="#66aad6"/><circle cx="322.86" cy="408.21" r="1" fill="#66aad6"/><circle cx="334.44" cy="382.38" r="1" fill="#eea866"/><circle cx="347.79" cy="378.32" r="1" fill="#66aad6"/><circle cx="299.55" cy="401.75" r="1" fill="#66aad6"/><circle cx="371.56" cy="364.63" r="1" fill="#d95652"/><circle cx="320.89" cy="379.74" r="1" fill="#d95652"/><circle cx="357.67" cy="385.23" r="1" fill="#eea866"/><circle cx="364.21" cy="378.23" r="1" fill="#eea866"/><circle cx="336.18" cy="407.78" r="1" fill="#66aad6"/><circle cx="326.65" cy="375.31" r="1" fill="#d95652"/><circle cx="374.55" cy="360.76" r="1" fill="#eea866"/><circle cx="298.33" cy="401.74" r="1" fill="#eea866"/><circle cx="381.22" cy="371.06" r="1" fill="#eea866"/><circle cx="333.88" cy="385.34" r="1" fill="#d95652"/><circle cx="311.65" cy="415.45" r="1" fill="#eea866"/><circle cx="339.05" cy="403.58" r="1" fill="#eea866"/><circle cx="300.19" cy="422.36" r="1" fill="#eea866"/><circle cx="324.81" cy="407.96" r="1" fill="#eea866"/><circle cx="334.63" cy="364.03" r="1" fill="#d95652"/><circle cx="359.18" cy="388.49" r="1" fill="#66aad6"/><circle cx="378.62" cy="368.46" r="1" fill="#66aad6"/><circle cx="342.85" cy="388.19" r="1" fill="#66aad6"/><circle cx="299.61" cy="435.61" r="1" fill="#66aad6"/><circle cx="369.14" cy="373.18" r="1" fill="#eea866"/><circle cx="295.97" cy="410.53" r="1" fill="#66aad6"/><circle cx="305.55" cy="407.31" r="1" fill="#d95652"/><circle cx="319.85" cy="411.04" r="1" fill="#66aad6"/><circle cx="332.27" cy="404.87" r="1" fill="#eea866"/><circle cx="372.97" cy="374.96" r="1" fill="#66aad6"/><circle cx="381.73" cy="362.74" r="1" fill="#eea866"/><circle cx="333.14" cy="382.36" r="1" fill="#d95652"/><circle cx="350.49" cy="384.15" r="1" fill="#66aad6"/><circle cx="381.04" cy="358.72" r="1" fill="#eea866"/><circle cx="308.57" cy="395.34" r="1" fill="#d95652"/><circle cx="337.65" cy="382.49" r="1" fill="#eea866"/><circle cx="304.03" cy="406.98" r="1" fill="#d95652"/><circle cx="295.19" cy="415.49" r="1" fill="#eea866"/><circle cx="357.45" cy="384.15" r="1" fill="#66aad6"/><circle cx="321.31" cy="392.94" r="1" fill="#d95652"/><circle cx="374.32" cy="377.01" r="1" fill="#eea866"/><circle cx="373.38" cy="364.91" r="1" fill="#66aad6"/><circle cx="295.2" cy="424.7" r="1" fill="#66aad6"/><circle cx="339.43" cy="404.97" r="1" fill="#66aad6"/><circle cx="362.59" cy="386.54" r="1" fill="#66aad6"/><circle cx="319.05" cy="383.64" r="1" fill="#d95652"/><circle cx="322.29" cy="407.22" r="1" fill="#66aad6"/><circle cx="372.4" cy="371.15" r="1" fill="#eea866"/><circle cx="333.09" cy="391.46" r="1" fill="#66aad6"/><circle cx="297.88" cy="426.82" r="1" fill="#d95652"/><circle cx="362.22" cy="371.76" r="1" fill="#66aad6"/><circle cx="316.91" cy="394.02" r="1" fill="#eea866"/><circle cx="297.07" cy="416.29" r="1" fill="#66aad6"/><circle cx="307.13" cy="416.73" r="1" fill="#66aad6"/><circle cx="297.12" cy="409.16" r="1" fill="#66aad6"/><circle cx="362.67" cy="373.54" r="1" fill="#66aad6"/><circle cx="362.72" cy="372.9" r="1" fill="#66aad6"/><circle cx="301.55" cy="402.9" r="1" fill="#66aad6"/><circle cx="295.43" cy="416.1" r="1" fill="#eea866"/><circle cx="327.25" cy="410.7" r="1" fill="#66aad6"/><circle cx="300.41" cy="428.94" r="1" fill="#66aad6"/><circle cx="371.29" cy="362.49" r="1" fill="#eea866"/><circle cx="340.83" cy="401.69" r="1" fill="#eea866"/><circle cx="367.74" cy="380.97" r="1" fill="#66aad6"/><circle cx="295.9" cy="391.92" r="1" fill="#66aad6"/><circle cx="301.83" cy="410.9" r="1" fill="#eea866"/><circle cx="354.78" cy="373.53" r="1" fill="#d95652"/><circle cx="384.17" cy="360.12" r="1" fill="#d95652"/><circle cx="320.77" cy="423.37" r="1" fill="#66aad6"/><circle cx="373.53" cy="379.91" r="1" fill="#66aad6"/><circle cx="329.77" cy="411.04" r="1" fill="#66aad6"/><circle cx="341.46" cy="372.77" r="1" fill="#d95652"/><circle cx="300.42" cy="421.81" r="1" fill="#eea866"/><circle cx="325.7" cy="390.29" r="1" fill="#66aad6"/><circle cx="369.5" cy="382.87" r="1" fill="#eea866"/><circle cx="357.27" cy="392.16" r="1" fill="#66aad6"/><circle cx="296.53" cy="410.54" r="1" fill="#d95652"/><circle cx="298.09" cy="410.44" r="1" fill="#66aad6"/><circle cx="341.79" cy="387.68" r="1" fill="#d95652"/><circle cx="303.77" cy="405.51" r="1" fill="#eea866"/><circle cx="339.61" cy="402.82" r="1" fill="#66aad6"/><circle cx="297.04" cy="436.9" r="1" fill="#66aad6"/><circle cx="300.69" cy="411.34" r="1" fill="#66aad6"/><circle cx="308.34" cy="411.44" r="1" fill="#66aad6"/><circle cx="313.48" cy="394.39" r="1" fill="#eea866"/><circle cx="382.82" cy="364.44" r="1" fill="#eea866"/><circle cx="374.77" cy="367.17" r="1" fill="#66aad6"/><circle cx="361.46" cy="374.08" r="1" fill="#eea866"/><circle cx="302.59" cy="412.24" r="1" fill="#d95652"/><circle cx="345.38" cy="405.42" r="1" fill="#66aad6"/><circle cx="306.29" cy="406.79" r="1" fill="#66aad6"/><circle cx="297.03" cy="413.83" r="1" fill="#eea866"/><circle cx="377.78" cy="377.92" r="1" fill="#66aad6"/><circle cx="365.51" cy="365.1" r="1" fill="#d95652"/><circle cx="343.85" cy="396.45" r="1" fill="#d95652"/><circle cx="300.23" cy="404.53" r="1" fill="#eea866"/><circle cx="335.64" cy="382.8" r="1" fill="#eea866"/><circle cx="323.88" cy="405.65" r="1" fill="#eea866"/><circle cx="380.09" cy="380.51" r="1" fill="#66aad6"/><circle cx="309.29" cy="404.16" r="1" fill="#eea866"/><circle cx="350.58" cy="392.15" r="1" fill="#eea866"/><circle cx="317.99" cy="391.7" r="1" fill="#eea866"/><circle cx="295.05" cy="436.71" r="1" fill="#eea866"/><circle cx="332.99" cy="388.56" r="1" fill="#d95652"/><circle cx="305.92" cy="413.14" r="1" fill="#eea866"/><circle cx="333.66" cy="387.03" r="1" fill="#d95652"/><circle cx="325.44" cy="410.08" r="1" fill="#d95652"/><circle cx="305.72" cy="402.4" r="1" fill="#66aad6"/><circle cx="331.57" cy="370.6" r="1" fill="#d95652"/><circle cx="295.35" cy="428.17" r="1" fill="#66aad6"/><circle cx="297.61" cy="426.87" r="1" fill="#66aad6"/><circle cx="296.63" cy="419.76" r="1" fill="#d95652"/><circle cx="328.71" cy="394.74" r="1" fill="#d95652"/><circle cx="339.98" cy="394" r="1" fill="#66aad6"/><circle cx="360.29" cy="377.21" r="1" fill="#eea866"/><circle cx="304.8" cy="404.08" r="1" fill="#eea866"/><circle cx="296.01" cy="406.02" r="1" fill="#d95652"/><circle cx="373.73" cy="371.58" r="1" fill="#66aad6"/><circle cx="345.87" cy="387.04" r="1" fill="#eea866"/><circle cx="368.72" cy="380.05" r="1" fill="#eea866"/><circle cx="296.43" cy="424.01" r="1" fill="#66aad6"/><circle cx="337.85" cy="378.1" r="1" fill="#eea866"/><circle cx="358.04" cy="381.48" r="1" fill="#eea866"/><circle cx="296.73" cy="412.4" r="1" fill="#eea866"/><circle cx="358.08" cy="374.94" r="1" fill="#66aad6"/><circle cx="377.52" cy="362.08" r="1" fill="#eea866"/><circle cx="379.29" cy="370.41" r="1" fill="#d95652"/><circle cx="351.74" cy="384.95" r="1" fill="#66aad6"/><circle cx="377.63" cy="361.53" r="1" fill="#eea866"/><circle cx="322.43" cy="388.22" r="1" fill="#d95652"/><circle cx="358.83" cy="368.05" r="1" fill="#d95652"/><circle cx="309.85" cy="409.05" r="1" fill="#66aad6"/><circle cx="308.63" cy="393.97" r="1" fill="#d95652"/><circle cx="313.73" cy="403.66" r="1" fill="#66aad6"/><circle cx="297.57" cy="408.54" r="1" fill="#eea866"/><circle cx="305.18" cy="395.78" r="1" fill="#66aad6"/><circle cx="347.19" cy="383.46" r="1" fill="#d95652"/><circle cx="380.02" cy="371.96" r="1" fill="#eea866"/><circle cx="316.26" cy="388.03" r="1" fill="#d95652"/><circle cx="376.33" cy="354.3" r="1" fill="#eea866"/><circle cx="297.2" cy="393.31" r="1" fill="#eea866"/><circle cx="364.12" cy="364.39" r="1" fill="#eea866"/><circle cx="321.73" cy="394.67" r="1" fill="#66aad6"/><circle cx="296.14" cy="434.72" r="1" fill="#d95652"/><circle cx="353.92" cy="366.94" r="1" fill="#d95652"/><circle cx="311.04" cy="387.42" r="1" fill="#d95652"/><circle cx="353.19" cy="392.18" r="1" fill="#eea866"/><circle cx="368.49" cy="364.92" r="1" fill="#66aad6"/><circle cx="298.94" cy="416.25" r="1" fill="#eea866"/><circle cx="354.07" cy="384.32" r="1" fill="#66aad6"/><circle cx="380.68" cy="381.42" r="1" fill="#66aad6"/><circle cx="297.68" cy="384.29" r="1" fill="#d95652"/><circle cx="368.64" cy="373.26" r="1" fill="#eea866"/><circle cx="366.88" cy="378.12" r="1" fill="#66aad6"/><circle cx="313.71" cy="413.25" r="1" fill="#eea866"/><circle cx="334.76" cy="368.88" r="1" fill="#d95652"/><circle cx="319.36" cy="424.14" r="1" fill="#d95652"/><circle cx="346.91" cy="382.93" r="1" fill="#66aad6"/><circle cx="308.52" cy="423.78" r="1" fill="#66aad6"/><circle cx="377.06" cy="365.9" r="1" fill="#66aad6"/><circle cx="352.49" cy="394.3" r="1" fill="#eea866"/><circle cx="352.1" cy="369.81" r="1" fill="#d95652"/><circle cx="371.21" cy="370.2" r="1" fill="#eea866"/><circle cx="297.68" cy="414.23" r="1" fill="#d95652"/><circle cx="296.96" cy="405.7" r="1" fill="#eea866"/><circle cx="333.88" cy="389.2" r="1" fill="#66aad6"/><circle cx="296.23" cy="410.77" r="1" fill="#eea866"/><circle cx="359.36" cy="372.75" r="1" fill="#d95652"/><circle cx="348.77" cy="411.88" r="1" fill="#66aad6"/><circle cx="339.43" cy="380.08" r="1" fill="#eea866"/><circle cx="351.41" cy="403.29" r="1" fill="#66aad6"/><circle cx="353.98" cy="381.78" r="1" fill="#eea866"/><circle cx="348.99" cy="390.58" r="1" fill="#66aad6"/><circle cx="371.87" cy="361.12" r="1" fill="#eea866"/><circle cx="309.31" cy="435.73" r="1" fill="#66aad6"/><circle cx="308.76" cy="406.79" r="1" fill="#eea866"/><circle cx="294.82" cy="410.19" r="1" fill="#d95652"/><circle cx="380.55" cy="355.39" r="1" fill="#d95652"/><circle cx="333.92" cy="380.8" r="1" fill="#eea866"/><circle cx="371.89" cy="365.8" r="1" fill="#66aad6"/><circle cx="296.03" cy="420.23" r="1" fill="#eea866"/><circle cx="353.74" cy="382.44" r="1" fill="#eea866"/><circle cx="358.08" cy="383.67" r="1" fill="#eea866"/><circle cx="296.64" cy="418.31" r="1" fill="#eea866"/><circle cx="366.18" cy="381.65" r="1" fill="#eea866"/><circle cx="347.75" cy="380.72" r="1" fill="#66aad6"/><circle cx="348.98" cy="379.9" r="1" fill="#d95652"/><circle cx="379.63" cy="370.21" r="1" fill="#eea866"/><circle cx="350.82" cy="378.25" r="1" fill="#d95652"/><circle cx="360.94" cy="371.43" r="1" fill="#eea866"/><circle cx="359.62" cy="367.88" r="1" fill="#66aad6"/><circle cx="337.5" cy="390.67" r="1" fill="#d95652"/><circle cx="304.19" cy="420.05" r="1" fill="#66aad6"/><circle cx="327.89" cy="394.85" r="1" fill="#66aad6"/></g>
<polygon points="294.8,414.24 298.45,412.31 302.11,410.37 305.76,408.42 309.42,406.47 313.07,404.51 316.73,402.54 320.38,400.57 324.03,398.59 327.69,396.6 331.34,394.6 335,392.6 338.65,390.6 342.31,388.55 345.96,386.4 349.61,384.23 353.27,382.06 356.92,379.88 360.58,377.69 364.23,375.5 367.89,373.3 371.54,371.1 375.19,368.88 378.85,366.66 382.5,364.44 382.5,368.36 378.85,370.43 375.19,372.51 371.54,374.59 367.89,376.68 364.23,378.78 360.58,380.88 356.92,382.99 353.27,385.11 349.61,387.24 345.96,389.37 342.31,391.5 338.65,393.54 335,395.55 331.34,397.58 327.69,399.6 324.03,401.64 320.38,403.68 316.73,405.73 313.07,407.79 309.42,409.85 305.76,411.92 302.11,414 298.45,416.08 294.8,418.17" fill="#999999" fill-opacity="0.4"/>
<polyline points="294.8,416.21 298.45,414.19 302.11,412.18 305.76,410.17 309.42,408.16 313.07,406.15 316.73,404.14 320.38,402.13 324.03,400.11 327.69,398.1 331.34,396.09 335,394.08 338.65,392.07 342.31,390.03 345.96,387.88 349.61,385.73 353.27,383.59 356.92,381.44 360.58,379.29 364.23,377.14 367.89,374.99 371.54,372.84 375.19,370.7 378.85,368.55 382.5,366.4" fill="none" stroke="#3f86bd" stroke-width="2.3" stroke-linejoin="round" stroke-linecap="butt"/>
<polygon points="294.8,412.53 298.51,410.5 302.23,408.47 305.94,406.43 309.65,404.39 313.36,402.34 317.08,400.28 320.79,398.22 324.5,396.14 328.22,394.07 331.93,391.98 335.64,389.89 339.35,387.79 343.07,385.66 346.78,383.47 350.49,381.28 354.2,379.08 357.92,376.88 361.63,374.66 365.34,372.44 369.06,370.22 372.77,367.99 376.48,365.75 380.19,363.5 383.91,361.25 383.91,366.15 380.19,368.25 376.48,370.35 372.77,372.46 369.06,374.58 365.34,376.7 361.63,378.83 357.92,380.97 354.2,383.12 350.49,385.27 346.78,387.42 343.07,389.59 339.35,391.72 335.64,393.82 331.93,395.93 328.22,398.05 324.5,400.18 320.79,402.31 317.08,404.45 313.36,406.6 309.65,408.75 305.94,410.91 302.23,413.08 298.51,415.25 294.8,417.43" fill="#999999" fill-opacity="0.4"/>
<polyline points="294.8,414.98 298.51,412.88 302.23,410.78 305.94,408.67 309.65,406.57 313.36,404.47 317.08,402.37 320.79,400.26 324.5,398.16 328.22,396.06 331.93,393.96 335.64,391.86 339.35,389.75 343.07,387.62 346.78,385.45 350.49,383.27 354.2,381.1 357.92,378.92 361.63,376.75 365.34,374.57 369.06,372.4 372.77,370.23 376.48,368.05 380.19,365.88 383.91,363.7" fill="none" stroke="#f0a052" stroke-width="2.3" stroke-linejoin="round" stroke-linecap="butt"/>
<polygon points="294.8,406.15 298.57,404.25 302.33,402.35 306.1,400.44 309.87,398.52 313.64,396.6 317.4,394.66 321.17,392.73 324.94,390.78 328.71,388.83 332.47,386.87 336.24,384.91 340.01,382.94 343.78,380.97 347.54,379.01 351.31,377.05 355.08,375.07 358.85,373.09 362.61,371.11 366.38,369.11 370.15,367.11 373.92,365.1 377.68,363.09 381.45,361.07 385.22,359.04 385.22,362.97 381.45,364.84 377.68,366.71 373.92,368.6 370.15,370.49 366.38,372.39 362.61,374.29 358.85,376.21 355.08,378.13 351.31,380.05 347.54,381.98 343.78,383.92 340.01,385.88 336.24,387.86 332.47,389.84 328.71,391.84 324.94,393.84 321.17,395.84 317.4,397.85 313.64,399.87 309.87,401.9 306.1,403.93 302.33,405.97 298.57,408.02 294.8,410.07" fill="#999999" fill-opacity="0.4"/>
<polyline points="294.8,408.11 298.57,406.13 302.33,404.16 306.1,402.18 309.87,400.21 313.64,398.23 317.4,396.26 321.17,394.28 324.94,392.31 328.71,390.33 332.47,388.36 336.24,386.38 340.01,384.41 343.78,382.45 347.54,380.5 351.31,378.55 355.08,376.6 358.85,374.65 362.61,372.7 366.38,370.75 370.15,368.8 373.92,366.85 377.68,364.9 381.45,362.95 385.22,361" fill="none" stroke="#dc4a3e" stroke-width="2.3" stroke-linejoin="round" stroke-linecap="butt"/>
<rect x="290.5" y="339.6" width="100.3" height="100.7" fill="none" stroke="#bdbdbd" stroke-width="1"/>
<g><circle cx="496.07" cy="382.17" r="1" fill="#66aad6"/><circle cx="491.67" cy="367.01" r="1" fill="#eea866"/><circle cx="434.22" cy="411.07" r="1" fill="#66aad6"/><circle cx="429.98" cy="396.6" r="1" fill="#66aad6"/><circle cx="507.33" cy="364.89" r="1" fill="#eea866"/><circle cx="480.17" cy="370.01" r="1" fill="#d95652"/><circle cx="464.81" cy="389.4" r="1" fill="#d95652"/><circle cx="495.07" cy="374.67" r="1" fill="#eea866"/><circle cx="483" cy="383.29" r="1" fill="#eea866"/><circle cx="502.09" cy="361.42" r="1" fill="#66aad6"/><circle cx="462.47" cy="388.26" r="1" fill="#d95652"/><circle cx="488.77" cy="390.37" r="1" fill="#d95652"/><circle cx="468.32" cy="378.59" r="1" fill="#66aad6"/><circle cx="491.59" cy="363.98" r="1" fill="#66aad6"/><circle cx="484.56" cy="356.87" r="1" fill="#d95652"/><circle cx="477.5" cy="380.41" r="1" fill="#66aad6"/><circle cx="441.04" cy="392.43" r="1" fill="#eea866"/><circle cx="417.73" cy="416.8" r="1" fill="#eea866"/><circle cx="464.85" cy="386.64" r="1" fill="#eea866"/><circle cx="454.25" cy="390.11" r="1" fill="#eea866"/><circle cx="479.31" cy="375.62" r="1" fill="#d95652"/><circle cx="456.6" cy="401.29" r="1" fill="#eea866"/><circle cx="446.61" cy="385.29" r="1" fill="#eea866"/><circle cx="419.79" cy="428.78" r="1" fill="#66aad6"/><circle cx="465.25" cy="376.41" r="1" fill="#eea866"/><circle cx="418.16" cy="414.23" r="1" fill="#66aad6"/><circle cx="475.86" cy="385.03" r="1" fill="#66aad6"/><circle cx="507.96" cy="374.89" r="1" fill="#d95652"/><circle cx="491.42" cy="380.93" r="1" fill="#eea866"/><circle cx="420.72" cy="402.76" r="1" fill="#66aad6"/><circle cx="424.8" cy="421.23" r="1" fill="#66aad6"/><circle cx="484.14" cy="362.09" r="1" fill="#d95652"/><circle cx="469.73" cy="389.46" r="1" fill="#eea866"/><circle cx="430.79" cy="406.77" r="1" fill="#eea866"/><circle cx="497.36" cy="369.26" r="1" fill="#eea866"/><circle cx="465.42" cy="381.55" r="1" fill="#66aad6"/><circle cx="457.13" cy="401.13" r="1" fill="#eea866"/><circle cx="463.11" cy="404.2" r="1" fill="#d95652"/><circle cx="434.84" cy="411.52" r="1" fill="#eea866"/><circle cx="489.4" cy="378.34" r="1" fill="#66aad6"/><circle cx="472.64" cy="371.74" r="1" fill="#66aad6"/><circle cx="498.92" cy="356.23" r="1" fill="#d95652"/><circle cx="428.08" cy="415.78" r="1" fill="#eea866"/><circle cx="474.78" cy="382.53" r="1" fill="#d95652"/><circle cx="466.97" cy="389.95" r="1" fill="#eea866"/><circle cx="493.18" cy="380.9" r="1" fill="#d95652"/><circle cx="453.78" cy="387.69" r="1" fill="#eea866"/><circle cx="494.35" cy="354.73" r="1" fill="#eea866"/><circle cx="434.42" cy="391.48" r="1" fill="#d95652"/><circle cx="457.26" cy="392.85" r="1" fill="#d95652"/><circle cx="420.57" cy="421.24" r="1" fill="#d95652"/><circle cx="462.08" cy="383.66" r="1" fill="#eea866"/><circle cx="459.68" cy="404.19" r="1" fill="#66aad6"/><circle cx="455.31" cy="374.27" r="1" fill="#eea866"/><circle cx="490.78" cy="379.98" r="1" fill="#66aad6"/><circle cx="460.15" cy="389.52" r="1" fill="#66aad6"/><circle cx="497.63" cy="370.7" r="1" fill="#eea866"/><circle cx="434.8" cy="393.05" r="1" fill="#d95652"/><circle cx="450.45" cy="398.66" r="1" fill="#66aad6"/><circle cx="495.86" cy="364.65" r="1" fill="#66aad6"/><circle cx="442.54" cy="416.5" r="1" fill="#eea866"/><circle cx="427.86" cy="394.59" r="1" fill="#eea866"/><circle cx="473.21" cy="371.42" r="1" fill="#66aad6"/><circle cx="433.26" cy="407.6" r="1" fill="#66aad6"/><circle cx="431.27" cy="403.53" r="1" fill="#eea866"/><circle cx="418.16" cy="401.45" r="1" fill="#eea866"/><circle cx="419" cy="413.24" r="1" fill="#eea866"/><circle cx="418.16" cy="396.62" r="1" fill="#66aad6"/><circle cx="441.84" cy="374.55" r="1" fill="#eea866"/><circle cx="422.14" cy="391.71" r="1" fill="#eea866"/><circle cx="474.4" cy="378.58" r="1" fill="#eea866"/><circle cx="465.92" cy="409.11" r="1" fill="#66aad6"/><circle cx="420.12" cy="424.39" r="1" fill="#eea866"/><circle cx="488.99" cy="364.07" r="1" fill="#66aad6"/><circle cx="436.46" cy="409.91" r="1" fill="#eea866"/><circle cx="419.7" cy="389.78" r="1" fill="#66aad6"/><circle cx="450.89" cy="410.55" r="1" fill="#d95652"/><circle cx="417.33" cy="424.07" r="1" fill="#d95652"/><circle cx="427.56" cy="398.43" r="1" fill="#66aad6"/><circle cx="501.12" cy="360.47" r="1" fill="#66aad6"/><circle cx="479.93" cy="382.12" r="1" fill="#d95652"/><circle cx="506.57" cy="355.21" r="1" fill="#d95652"/><circle cx="454.54" cy="376.93" r="1" fill="#d95652"/><circle cx="484.11" cy="396.95" r="1" fill="#eea866"/><circle cx="420.23" cy="386.17" r="1" fill="#d95652"/><circle cx="475.43" cy="391.57" r="1" fill="#eea866"/><circle cx="441.38" cy="406.96" r="1" fill="#66aad6"/><circle cx="438.84" cy="393.88" r="1" fill="#66aad6"/><circle cx="420.26" cy="390.88" r="1" fill="#66aad6"/><circle cx="468.32" cy="373.31" r="1" fill="#66aad6"/><circle cx="436.52" cy="393.55" r="1" fill="#66aad6"/><circle cx="429.04" cy="388.68" r="1" fill="#66aad6"/><circle cx="450.36" cy="403.52" r="1" fill="#66aad6"/><circle cx="421.89" cy="417.67" r="1" fill="#66aad6"/><circle cx="481.45" cy="380.57" r="1" fill="#eea866"/><circle cx="429.89" cy="402.36" r="1" fill="#eea866"/><circle cx="475.05" cy="373.08" r="1" fill="#d95652"/><circle cx="425.44" cy="384.17" r="1" fill="#66aad6"/><circle cx="435.07" cy="404.95" r="1" fill="#66aad6"/><circle cx="451.37" cy="395.25" r="1" fill="#eea866"/><circle cx="482.54" cy="373.98" r="1" fill="#d95652"/><circle cx="446.99" cy="394.08" r="1" fill="#eea866"/><circle cx="421.63" cy="396" r="1" fill="#d95652"/><circle cx="484.36" cy="382.17" r="1" fill="#eea866"/><circle cx="444.58" cy="390.18" r="1" fill="#eea866"/><circle cx="504.02" cy="372.22" r="1" fill="#66aad6"/><circle cx="474.91" cy="387.41" r="1" fill="#eea866"/><circle cx="433.96" cy="387.7" r="1" fill="#d95652"/><circle cx="497.78" cy="368.76" r="1" fill="#eea866"/><circle cx="428.03" cy="409.98" r="1" fill="#d95652"/><circle cx="444.64" cy="387.05" r="1" fill="#d95652"/><circle cx="418.1" cy="397.67" r="1" fill="#66aad6"/><circle cx="430.65" cy="408.59" r="1" fill="#eea866"/><circle cx="458.11" cy="387.35" r="1" fill="#eea866"/><circle cx="422.48" cy="425.14" r="1" fill="#eea866"/><circle cx="430.93" cy="406.48" r="1" fill="#d95652"/><circle cx="490.7" cy="383.22" r="1" fill="#66aad6"/><circle cx="434.55" cy="379.3" r="1" fill="#66aad6"/><circle cx="465.88" cy="378.17" r="1" fill="#d95652"/><circle cx="419.48" cy="402.53" r="1" fill="#66aad6"/><circle cx="444.14" cy="391.91" r="1" fill="#eea866"/><circle cx="440.62" cy="397.09" r="1" fill="#66aad6"/><circle cx="485.48" cy="370.73" r="1" fill="#66aad6"/><circle cx="453.12" cy="380.88" r="1" fill="#66aad6"/><circle cx="421.65" cy="383.88" r="1" fill="#66aad6"/><circle cx="430.74" cy="426.57" r="1" fill="#66aad6"/><circle cx="487.6" cy="370.18" r="1" fill="#eea866"/><circle cx="462.18" cy="371.04" r="1" fill="#d95652"/><circle cx="502.28" cy="377.59" r="1" fill="#eea866"/><circle cx="506.84" cy="375.65" r="1" fill="#66aad6"/><circle cx="436.51" cy="411.56" r="1" fill="#d95652"/><circle cx="434.17" cy="403.09" r="1" fill="#66aad6"/><circle cx="475.13" cy="374.5" r="1" fill="#66aad6"/><circle cx="420.37" cy="404.95" r="1" fill="#d95652"/><circle cx="448.8" cy="390.33" r="1" fill="#d95652"/><circle cx="474.52" cy="390.3" r="1" fill="#eea866"/><circle cx="465.04" cy="381.55" r="1" fill="#d95652"/><circle cx="507.54" cy="360.91" r="1" fill="#66aad6"/><circle cx="460.29" cy="379.28" r="1" fill="#eea866"/><circle cx="417.58" cy="419.66" r="1" fill="#eea866"/><circle cx="482.61" cy="386.43" r="1" fill="#66aad6"/><circle cx="480.15" cy="380.73" r="1" fill="#66aad6"/><circle cx="442.08" cy="406.89" r="1" fill="#d95652"/><circle cx="473.29" cy="389.69" r="1" fill="#d95652"/><circle cx="502.2" cy="371.95" r="1" fill="#66aad6"/><circle cx="447.87" cy="395.57" r="1" fill="#66aad6"/><circle cx="429.19" cy="396.61" r="1" fill="#eea866"/><circle cx="505.76" cy="390.11" r="1" fill="#66aad6"/><circle cx="500.81" cy="386.28" r="1" fill="#d95652"/><circle cx="478.15" cy="384.64" r="1" fill="#eea866"/><circle cx="419.87" cy="430.18" r="1" fill="#d95652"/><circle cx="497.88" cy="362.1" r="1" fill="#eea866"/><circle cx="491.34" cy="380.08" r="1" fill="#d95652"/><circle cx="436.07" cy="407.43" r="1" fill="#d95652"/><circle cx="457.34" cy="376.86" r="1" fill="#eea866"/><circle cx="419.58" cy="399.64" r="1" fill="#66aad6"/><circle cx="457.31" cy="398.81" r="1" fill="#eea866"/><circle cx="467.37" cy="381.61" r="1" fill="#66aad6"/><circle cx="498.02" cy="371.57" r="1" fill="#eea866"/><circle cx="497.28" cy="379.38" r="1" fill="#d95652"/><circle cx="442.32" cy="392.37" r="1" fill="#66aad6"/><circle cx="482.08" cy="393.82" r="1" fill="#66aad6"/><circle cx="481.83" cy="376.1" r="1" fill="#66aad6"/><circle cx="427.78" cy="398.25" r="1" fill="#d95652"/><circle cx="436.54" cy="412.44" r="1" fill="#eea866"/><circle cx="436.19" cy="393.35" r="1" fill="#66aad6"/><circle cx="491.66" cy="384.77" r="1" fill="#66aad6"/><circle cx="480.64" cy="403.38" r="1" fill="#d95652"/><circle cx="485.39" cy="364.1" r="1" fill="#eea866"/><circle cx="494.12" cy="369.56" r="1" fill="#66aad6"/><circle cx="461.8" cy="400.2" r="1" fill="#66aad6"/><circle cx="464.27" cy="397.01" r="1" fill="#eea866"/><circle cx="471.99" cy="389.41" r="1" fill="#66aad6"/><circle cx="448.82" cy="403.11" r="1" fill="#eea866"/><circle cx="461.2" cy="398.45" r="1" fill="#eea866"/><circle cx="484.25" cy="373.39" r="1" fill="#eea866"/><circle cx="425.78" cy="402.18" r="1" fill="#d95652"/><circle cx="492.21" cy="369.09" r="1" fill="#d95652"/><circle cx="468.37" cy="382.71" r="1" fill="#d95652"/><circle cx="463.11" cy="384.1" r="1" fill="#eea866"/><circle cx="424.93" cy="430.46" r="1" fill="#eea866"/><circle cx="506.57" cy="367.65" r="1" fill="#eea866"/><circle cx="445.54" cy="392.94" r="1" fill="#eea866"/><circle cx="491.91" cy="373.52" r="1" fill="#eea866"/><circle cx="453.07" cy="390.94" r="1" fill="#eea866"/><circle cx="425.58" cy="393.52" r="1" fill="#66aad6"/><circle cx="418.52" cy="387.51" r="1" fill="#eea866"/><circle cx="430.96" cy="408.35" r="1" fill="#d95652"/><circle cx="423.47" cy="374.65" r="1" fill="#66aad6"/><circle cx="448.75" cy="402.51" r="1" fill="#eea866"/><circle cx="493.66" cy="364.42" r="1" fill="#66aad6"/><circle cx="458.51" cy="391.56" r="1" fill="#eea866"/><circle cx="420.69" cy="399.82" r="1" fill="#d95652"/><circle cx="466.46" cy="378.84" r="1" fill="#d95652"/><circle cx="507.62" cy="384.81" r="1" fill="#eea866"/><circle cx="494.2" cy="374.15" r="1" fill="#66aad6"/><circle cx="418.43" cy="408.18" r="1" fill="#eea866"/><circle cx="433.62" cy="406.51" r="1" fill="#d95652"/><circle cx="497.55" cy="372.87" r="1" fill="#eea866"/><circle cx="443.75" cy="378.25" r="1" fill="#eea866"/><circle cx="464.66" cy="385.58" r="1" fill="#66aad6"/><circle cx="500.86" cy="383.68" r="1" fill="#66aad6"/><circle cx="457.71" cy="403.96" r="1" fill="#66aad6"/><circle cx="424.28" cy="413.44" r="1" fill="#66aad6"/><circle cx="502.89" cy="367.81" r="1" fill="#d95652"/><circle cx="469.28" cy="366.8" r="1" fill="#66aad6"/><circle cx="479.68" cy="371.67" r="1" fill="#eea866"/><circle cx="431.44" cy="386.26" r="1" fill="#eea866"/><circle cx="486.17" cy="375.09" r="1" fill="#eea866"/><circle cx="420.3" cy="388.34" r="1" fill="#d95652"/><circle cx="445.99" cy="387.78" r="1" fill="#66aad6"/><circle cx="483.79" cy="387.32" r="1" fill="#eea866"/><circle cx="493.81" cy="384.28" r="1" fill="#66aad6"/><circle cx="442.44" cy="399.79" r="1" fill="#66aad6"/><circle cx="450.63" cy="394.67" r="1" fill="#eea866"/><circle cx="463.28" cy="380.4" r="1" fill="#eea866"/><circle cx="448.53" cy="401.05" r="1" fill="#66aad6"/><circle cx="438.92" cy="403.5" r="1" fill="#d95652"/><circle cx="438.39" cy="407.21" r="1" fill="#eea866"/><circle cx="418.01" cy="416.42" r="1" fill="#d95652"/><circle cx="449.53" cy="398.73" r="1" fill="#66aad6"/><circle cx="430.32" cy="408.67" r="1" fill="#eea866"/><circle cx="474.96" cy="379.19" r="1" fill="#66aad6"/><circle cx="419.65" cy="435.39" r="1" fill="#66aad6"/><circle cx="466.59" cy="406.93" r="1" fill="#eea866"/><circle cx="475.84" cy="385.48" r="1" fill="#eea866"/><circle cx="447.28" cy="390.75" r="1" fill="#eea866"/><circle cx="451.49" cy="379.49" r="1" fill="#eea866"/><circle cx="454.8" cy="395.17" r="1" fill="#d95652"/><circle cx="497.53" cy="378.97" r="1" fill="#d95652"/><circle cx="472.89" cy="377.21" r="1" fill="#eea866"/><circle cx="419.65" cy="395.25" r="1" fill="#d95652"/><circle cx="458.21" cy="392.47" r="1" fill="#66aad6"/><circle cx="496.84" cy="385.33" r="1" fill="#eea866"/><circle cx="500.11" cy="369.59" r="1" fill="#eea866"/><circle cx="424.49" cy="413.26" r="1" fill="#d95652"/><circle cx="474.67" cy="400.06" r="1" fill="#eea866"/><circle cx="433.83" cy="394.55" r="1" fill="#eea866"/><circle cx="459" cy="386.33" r="1" fill="#eea866"/><circle cx="450.52" cy="396.64" r="1" fill="#eea866"/><circle cx="504.98" cy="361.92" r="1" fill="#eea866"/><circle cx="453.6" cy="401.75" r="1" fill="#66aad6"/><circle cx="451.46" cy="386.36" r="1" fill="#eea866"/><circle cx="425.92" cy="423.24" r="1" fill="#66aad6"/><circle cx="417.96" cy="403.87" r="1" fill="#d95652"/><circle cx="452.73" cy="393.07" r="1" fill="#eea866"/><circle cx="448.76" cy="405.85" r="1" fill="#eea866"/><circle cx="506.3" cy="366.04" r="1" fill="#66aad6"/><circle cx="496.42" cy="373.64" r="1" fill="#66aad6"/><circle cx="462.19" cy="382.08" r="1" fill="#d95652"/><circle cx="485.51" cy="367.08" r="1" fill="#66aad6"/><circle cx="463.92" cy="377.89" r="1" fill="#eea866"/><circle cx="464.36" cy="399.29" r="1" fill="#66aad6"/><circle cx="421.57" cy="423.36" r="1" fill="#66aad6"/><circle cx="419.26" cy="420.34" r="1" fill="#66aad6"/><circle cx="451.47" cy="407.15" r="1" fill="#eea866"/><circle cx="491.33" cy="372.22" r="1" fill="#eea866"/><circle cx="420.29" cy="391.51" r="1" fill="#eea866"/><circle cx="502.54" cy="370.05" r="1" fill="#d95652"/><circle cx="449.18" cy="404.05" r="1" fill="#eea866"/><circle cx="460.08" cy="390.3" r="1" fill="#66aad6"/><circle cx="444.69" cy="389.59" r="1" fill="#eea866"/><circle cx="436.34" cy="397.94" r="1" fill="#d95652"/><circle cx="457.82" cy="374.41" r="1" fill="#d95652"/><circle cx="417.78" cy="415.79" r="1" fill="#66aad6"/><circle cx="440.57" cy="402.7" r="1" fill="#d95652"/><circle cx="459.76" cy="371.56" r="1" fill="#66aad6"/><circle cx="456.55" cy="397.28" r="1" fill="#66aad6"/><circle cx="489.74" cy="383.59" r="1" fill="#66aad6"/><circle cx="499.13" cy="364.6" r="1" fill="#66aad6"/><circle cx="430.34" cy="418.87" r="1" fill="#eea866"/><circle cx="419.88" cy="398.45" r="1" fill="#d95652"/><circle cx="434.2" cy="388.49" r="1" fill="#eea866"/><circle cx="491.37" cy="383.34" r="1" fill="#eea866"/><circle cx="492.07" cy="372.33" r="1" fill="#66aad6"/><circle cx="471.46" cy="391.28" r="1" fill="#eea866"/><circle cx="456.55" cy="355.99" r="1" fill="#eea866"/><circle cx="434.54" cy="396.43" r="1" fill="#eea866"/><circle cx="501.5" cy="377.95" r="1" fill="#d95652"/><circle cx="463.59" cy="372.79" r="1" fill="#d95652"/><circle cx="439.65" cy="379.88" r="1" fill="#d95652"/><circle cx="464.85" cy="379.83" r="1" fill="#d95652"/><circle cx="453.38" cy="376.78" r="1" fill="#eea866"/><circle cx="475.94" cy="374.17" r="1" fill="#eea866"/><circle cx="426.69" cy="394.39" r="1" fill="#66aad6"/><circle cx="418.45" cy="395.78" r="1" fill="#d95652"/><circle cx="476.35" cy="401.47" r="1" fill="#eea866"/><circle cx="419.67" cy="427.13" r="1" fill="#d95652"/><circle cx="474.97" cy="401.17" r="1" fill="#66aad6"/><circle cx="470.38" cy="385.48" r="1" fill="#d95652"/><circle cx="444.75" cy="387.17" r="1" fill="#eea866"/><circle cx="425.79" cy="398.37" r="1" fill="#eea866"/><circle cx="418.1" cy="410.22" r="1" fill="#eea866"/><circle cx="437.62" cy="412.96" r="1" fill="#66aad6"/><circle cx="462.98" cy="399.6" r="1" fill="#66aad6"/><circle cx="485.97" cy="378.35" r="1" fill="#eea866"/><circle cx="417.86" cy="392.71" r="1" fill="#eea866"/><circle cx="437.91" cy="389.8" r="1" fill="#d95652"/><circle cx="463.06" cy="398.55" r="1" fill="#eea866"/><circle cx="494.24" cy="358.39" r="1" fill="#eea866"/><circle cx="442.2" cy="403.46" r="1" fill="#d95652"/><circle cx="439.41" cy="408.16" r="1" fill="#66aad6"/><circle cx="418.11" cy="408.83" r="1" fill="#eea866"/><circle cx="463.55" cy="378.03" r="1" fill="#66aad6"/><circle cx="457.13" cy="419.34" r="1" fill="#66aad6"/><circle cx="465.85" cy="376.98" r="1" fill="#d95652"/><circle cx="495.04" cy="367.14" r="1" fill="#66aad6"/><circle cx="499.63" cy="368.11" r="1" fill="#66aad6"/><circle cx="498.77" cy="365.41" r="1" fill="#eea866"/><circle cx="455.35" cy="393.52" r="1" fill="#eea866"/><circle cx="463.25" cy="389.43" r="1" fill="#66aad6"/><circle cx="453.92" cy="418.51" r="1" fill="#66aad6"/><circle cx="418.3" cy="381.82" r="1" fill="#66aad6"/><circle cx="418.17" cy="413.58" r="1" fill="#eea866"/><circle cx="501.19" cy="371.13" r="1" fill="#eea866"/><circle cx="500.84" cy="373.41" r="1" fill="#eea866"/><circle cx="443.51" cy="403.08" r="1" fill="#66aad6"/><circle cx="426.35" cy="413.18" r="1" fill="#66aad6"/><circle cx="427.89" cy="397.04" r="1" fill="#d95652"/><circle cx="443.87" cy="398.55" r="1" fill="#66aad6"/><circle cx="473.56" cy="395.84" r="1" fill="#eea866"/><circle cx="452.2" cy="389.08" r="1" fill="#eea866"/><circle cx="426.88" cy="412.98" r="1" fill="#d95652"/><circle cx="478.07" cy="403.66" r="1" fill="#eea866"/><circle cx="455.44" cy="364.57" r="1" fill="#66aad6"/><circle cx="477.63" cy="373.89" r="1" fill="#d95652"/><circle cx="438.59" cy="398.86" r="1" fill="#eea866"/><circle cx="447.6" cy="391.18" r="1" fill="#d95652"/><circle cx="464.44" cy="393.64" r="1" fill="#eea866"/><circle cx="444.02" cy="398.96" r="1" fill="#66aad6"/><circle cx="454.34" cy="372.8" r="1" fill="#eea866"/><circle cx="505.24" cy="359.66" r="1" fill="#66aad6"/><circle cx="418.06" cy="400.95" r="1" fill="#eea866"/><circle cx="486.29" cy="378.63" r="1" fill="#d95652"/><circle cx="418.83" cy="414.16" r="1" fill="#66aad6"/><circle cx="468" cy="387.34" r="1" fill="#66aad6"/><circle cx="480.95" cy="388.73" r="1" fill="#eea866"/><circle cx="435.25" cy="408.7" r="1" fill="#66aad6"/><circle cx="419.01" cy="398.38" r="1" fill="#eea866"/><circle cx="418.07" cy="385.48" r="1" fill="#eea866"/><circle cx="450.03" cy="401.79" r="1" fill="#eea866"/><circle cx="467.12" cy="397.07" r="1" fill="#66aad6"/><circle cx="495.72" cy="387.1" r="1" fill="#eea866"/><circle cx="478.61" cy="365.42" r="1" fill="#66aad6"/><circle cx="419.92" cy="382.25" r="1" fill="#66aad6"/><circle cx="507.81" cy="345.99" r="1" fill="#66aad6"/><circle cx="419.36" cy="409.33" r="1" fill="#eea866"/><circle cx="419.58" cy="415.08" r="1" fill="#d95652"/><circle cx="509.17" cy="365.84" r="1" fill="#eea866"/><circle cx="468.31" cy="395.68" r="1" fill="#eea866"/><circle cx="419.2" cy="387.53" r="1" fill="#66aad6"/><circle cx="455.79" cy="401.96" r="1" fill="#66aad6"/><circle cx="459.93" cy="390.48" r="1" fill="#d95652"/><circle cx="490.83" cy="363.61" r="1" fill="#66aad6"/><circle cx="474.91" cy="405.32" r="1" fill="#66aad6"/><circle cx="467.79" cy="380.81" r="1" fill="#66aad6"/><circle cx="449.01" cy="389.75" r="1" fill="#66aad6"/><circle cx="481.72" cy="386.08" r="1" fill="#eea866"/><circle cx="418.98" cy="394.18" r="1" fill="#eea866"/><circle cx="461.35" cy="381.1" r="1" fill="#66aad6"/><circle cx="465.64" cy="380.33" r="1" fill="#66aad6"/><circle cx="445.21" cy="400.1" r="1" fill="#eea866"/><circle cx="470.86" cy="375.76" r="1" fill="#d95652"/><circle cx="479.95" cy="379.39" r="1" fill="#eea866"/><circle cx="492.77" cy="363.84" r="1" fill="#eea866"/><circle cx="499.84" cy="367.82" r="1" fill="#d95652"/><circle cx="472.46" cy="356.54" r="1" fill="#66aad6"/><circle cx="496.57" cy="368.53" r="1" fill="#d95652"/><circle cx="500.74" cy="360.31" r="1" fill="#eea866"/><circle cx="424.54" cy="416.44" r="1" fill="#eea866"/><circle cx="424.36" cy="413.05" r="1" fill="#eea866"/><circle cx="418.76" cy="414.06" r="1" fill="#eea866"/><circle cx="487.58" cy="377.24" r="1" fill="#d95652"/><circle cx="457.56" cy="394.19" r="1" fill="#eea866"/><circle cx="479.95" cy="376.77" r="1" fill="#66aad6"/><circle cx="447.79" cy="402.82" r="1" fill="#66aad6"/><circle cx="484.42" cy="394.39" r="1" fill="#66aad6"/><circle cx="435.84" cy="401" r="1" fill="#eea866"/><circle cx="469.25" cy="380.86" r="1" fill="#d95652"/><circle cx="448.03" cy="381.1" r="1" fill="#d95652"/><circle cx="429.94" cy="387.53" r="1" fill="#d95652"/><circle cx="428.73" cy="393.12" r="1" fill="#eea866"/><circle cx="471.5" cy="398.96" r="1" fill="#66aad6"/><circle cx="418.01" cy="410.44" r="1" fill="#d95652"/><circle cx="474.57" cy="379.3" r="1" fill="#eea866"/><circle cx="425.53" cy="402.42" r="1" fill="#eea866"/><circle cx="506.17" cy="377.25" r="1" fill="#66aad6"/><circle cx="507.18" cy="390.03" r="1" fill="#eea866"/><circle cx="448.03" cy="379.79" r="1" fill="#d95652"/><circle cx="495.51" cy="367.3" r="1" fill="#d95652"/><circle cx="508.51" cy="368.1" r="1" fill="#eea866"/><circle cx="428.03" cy="409.91" r="1" fill="#eea866"/><circle cx="462.87" cy="383.35" r="1" fill="#d95652"/><circle cx="433.38" cy="383.71" r="1" fill="#d95652"/><circle cx="417.92" cy="382.59" r="1" fill="#eea866"/><circle cx="469.94" cy="378.62" r="1" fill="#66aad6"/><circle cx="428.53" cy="407.67" r="1" fill="#eea866"/><circle cx="465.1" cy="371.35" r="1" fill="#d95652"/><circle cx="427.7" cy="404.17" r="1" fill="#66aad6"/><circle cx="450.27" cy="395.19" r="1" fill="#66aad6"/><circle cx="425.05" cy="410.99" r="1" fill="#eea866"/><circle cx="457.08" cy="398.93" r="1" fill="#66aad6"/><circle cx="480.56" cy="386.92" r="1" fill="#eea866"/><circle cx="471.75" cy="376.75" r="1" fill="#66aad6"/><circle cx="505.85" cy="372.17" r="1" fill="#eea866"/><circle cx="433.38" cy="411.03" r="1" fill="#66aad6"/><circle cx="505.93" cy="378.86" r="1" fill="#eea866"/><circle cx="468.65" cy="389.55" r="1" fill="#d95652"/><circle cx="463.14" cy="368.96" r="1" fill="#66aad6"/><circle cx="419.38" cy="389.66" r="1" fill="#66aad6"/><circle cx="501.6" cy="360.61" r="1" fill="#66aad6"/><circle cx="495.05" cy="366" r="1" fill="#d95652"/><circle cx="497.22" cy="363.84" r="1" fill="#d95652"/><circle cx="455" cy="387.53" r="1" fill="#eea866"/><circle cx="445.2" cy="405.94" r="1" fill="#66aad6"/><circle cx="489.48" cy="368.06" r="1" fill="#d95652"/><circle cx="488.76" cy="377.99" r="1" fill="#eea866"/><circle cx="451.57" cy="390.63" r="1" fill="#66aad6"/><circle cx="477.71" cy="375.74" r="1" fill="#66aad6"/><circle cx="484.58" cy="374.2" r="1" fill="#eea866"/><circle cx="491.81" cy="381.46" r="1" fill="#66aad6"/><circle cx="477.81" cy="384.88" r="1" fill="#eea866"/><circle cx="504.23" cy="354.9" r="1" fill="#eea866"/><circle cx="419.81" cy="437.17" r="1" fill="#66aad6"/><circle cx="458.43" cy="387.26" r="1" fill="#66aad6"/><circle cx="456.75" cy="403.06" r="1" fill="#66aad6"/><circle cx="437.56" cy="399.66" r="1" fill="#eea866"/><circle cx="457.68" cy="394.56" r="1" fill="#eea866"/><circle cx="448.27" cy="380.73" r="1" fill="#66aad6"/><circle cx="429.09" cy="413.55" r="1" fill="#eea866"/><circle cx="492.32" cy="364.74" r="1" fill="#66aad6"/><circle cx="497.71" cy="361.12" r="1" fill="#d95652"/><circle cx="502.84" cy="371.11" r="1" fill="#eea866"/><circle cx="463.22" cy="390.33" r="1" fill="#eea866"/><circle cx="425.27" cy="406.23" r="1" fill="#eea866"/><circle cx="420.22" cy="392.53" r="1" fill="#66aad6"/><circle cx="488.94" cy="373" r="1" fill="#eea866"/><circle cx="495.48" cy="369.54" r="1" fill="#eea866"/><circle cx="495.57" cy="366.91" r="1" fill="#66aad6"/><circle cx="499.49" cy="358.54" r="1" fill="#66aad6"/><circle cx="430.94" cy="407.01" r="1" fill="#66aad6"/><circle cx="471.43" cy="374" r="1" fill="#eea866"/><circle cx="494.9" cy="364.82" r="1" fill="#eea866"/><circle cx="469.99" cy="391.65" r="1" fill="#66aad6"/><circle cx="420.07" cy="393.38" r="1" fill="#d95652"/><circle cx="465.82" cy="385.28" r="1" fill="#eea866"/><circle cx="431.35" cy="421.35" r="1" fill="#eea866"/><circle cx="434.6" cy="385.67" r="1" fill="#d95652"/><circle cx="465.72" cy="383" r="1" fill="#d95652"/></g>
<polygon points="417.3,411.19 421.12,409.41 424.94,407.62 428.77,405.83 432.59,404.03 436.41,402.22 440.23,400.41 444.05,398.59 447.88,396.76 451.7,394.93 455.52,393.09 459.34,391.25 463.16,389.4 466.99,387.54 470.81,385.68 474.63,383.81 478.45,381.94 482.27,380.06 486.1,378.17 489.92,376.28 493.74,374.38 497.56,372.47 501.38,370.56 505.21,368.64 509.03,366.72 509.03,370.27 505.21,372.06 501.38,373.84 497.56,375.64 493.74,377.44 489.92,379.25 486.1,381.06 482.27,382.88 478.45,384.7 474.63,386.54 470.81,388.37 466.99,390.22 463.16,392.07 459.34,393.92 455.52,395.79 451.7,397.65 447.88,399.53 444.05,401.41 440.23,403.3 436.41,405.19 432.59,407.09 428.77,409 424.94,410.91 421.12,412.82 417.3,414.75" fill="#999999" fill-opacity="0.4"/>
<polyline points="417.3,412.97 421.12,411.12 424.94,409.26 428.77,407.41 432.59,405.56 436.41,403.7 440.23,401.85 444.05,400 447.88,398.14 451.7,396.29 455.52,394.44 459.34,392.59 463.16,390.73 466.99,388.88 470.81,387.03 474.63,385.17 478.45,383.32 482.27,381.47 486.1,379.61 489.92,377.76 493.74,375.91 497.56,374.05 501.38,372.2 505.21,370.35 509.03,368.5" fill="none" stroke="#3f86bd" stroke-width="2.3" stroke-linejoin="round" stroke-linecap="butt"/>
<polygon points="417.3,408.82 421.13,407.11 424.96,405.39 428.79,403.66 432.62,401.92 436.45,400.17 440.28,398.4 444.11,396.63 447.94,394.85 451.77,393.06 455.6,391.26 459.43,389.44 463.26,387.62 467.09,385.79 470.92,383.94 474.75,382.09 478.58,380.22 482.41,378.35 486.24,376.46 490.07,374.57 493.9,372.66 497.73,370.75 501.56,368.82 505.39,366.88 509.22,364.94 509.22,370.87 505.39,372.58 501.56,374.3 497.73,376.03 493.9,377.77 490.07,379.52 486.24,381.28 482.41,383.05 478.58,384.84 474.75,386.63 470.92,388.43 467.09,390.24 463.26,392.07 459.43,393.9 455.6,395.74 451.77,397.6 447.94,399.46 444.11,401.34 440.28,403.22 436.45,405.12 432.62,407.02 428.79,408.94 424.96,410.87 421.13,412.8 417.3,414.75" fill="#999999" fill-opacity="0.4"/>
<polyline points="417.3,411.78 421.13,409.96 424.96,408.13 428.79,406.3 432.62,404.47 436.45,402.64 440.28,400.81 444.11,398.99 447.94,397.16 451.77,395.33 455.6,393.5 459.43,391.67 463.26,389.84 467.09,388.01 470.92,386.19 474.75,384.36 478.58,382.53 482.41,380.7 486.24,378.87 490.07,377.04 493.9,375.22 497.73,373.39 501.56,371.56 505.39,369.73 509.22,367.9" fill="none" stroke="#f0a052" stroke-width="2.3" stroke-linejoin="round" stroke-linecap="butt"/>
<polygon points="417.3,408.4 421.13,406.7 424.96,405 428.79,403.28 432.62,401.56 436.45,399.83 440.28,398.09 444.11,396.34 447.94,394.58 451.77,392.82 455.6,391.04 459.43,389.26 463.26,387.47 467.09,385.67 470.92,383.87 474.75,382.05 478.58,380.23 482.41,378.4 486.24,376.56 490.07,374.71 493.9,372.86 497.73,370.99 501.56,369.12 505.39,367.24 509.22,365.35 509.22,370.1 505.39,371.8 501.56,373.5 497.73,375.22 493.9,376.94 490.07,378.67 486.24,380.41 482.41,382.16 478.58,383.92 474.75,385.68 470.92,387.46 467.09,389.24 463.26,391.03 459.43,392.83 455.6,394.63 451.77,396.45 447.94,398.27 444.11,400.1 440.28,401.94 436.45,403.79 432.62,405.64 428.79,407.51 424.96,409.38 421.13,411.26 417.3,413.15" fill="#999999" fill-opacity="0.4"/>
<polyline points="417.3,410.78 421.13,408.98 424.96,407.19 428.79,405.39 432.62,403.6 436.45,401.81 440.28,400.01 444.11,398.22 447.94,396.43 451.77,394.63 455.6,392.84 459.43,391.04 463.26,389.25 467.09,387.46 470.92,385.66 474.75,383.87 478.58,382.07 482.41,380.28 486.24,378.49 490.07,376.69 493.9,374.9 497.73,373.11 501.56,371.31 505.39,369.52 509.22,367.72" fill="none" stroke="#dc4a3e" stroke-width="2.3" stroke-linejoin="round" stroke-linecap="butt"/>
<rect x="413" y="339.6" width="101.1" height="100.7" fill="none" stroke="#bdbdbd" stroke-width="1"/>
<line x1="44.4" y1="641.3" x2="174.6" y2="641.3" stroke="#f4f4f4" stroke-width="0.8"/>
<line x1="44.4" y1="604.3" x2="174.6" y2="604.3" stroke="#f4f4f4" stroke-width="0.8"/>
<line x1="44.4" y1="567.3" x2="174.6" y2="567.3" stroke="#f4f4f4" stroke-width="0.8"/>
<line x1="44.4" y1="530.3" x2="174.6" y2="530.3" stroke="#f4f4f4" stroke-width="0.8"/>
<line x1="44.4" y1="659.8" x2="174.6" y2="659.8" stroke="#ebebeb" stroke-width="0.9"/>
<line x1="44.4" y1="622.8" x2="174.6" y2="622.8" stroke="#ebebeb" stroke-width="0.9"/>
<line x1="44.4" y1="585.8" x2="174.6" y2="585.8" stroke="#ebebeb" stroke-width="0.9"/>
<line x1="44.4" y1="548.8" x2="174.6" y2="548.8" stroke="#ebebeb" stroke-width="0.9"/>
<line x1="44.4" y1="511.8" x2="174.6" y2="511.8" stroke="#ebebeb" stroke-width="0.9"/>
<line x1="63" y1="504.3" x2="63" y2="667.3" stroke="#ebebeb" stroke-width="0.9"/>
<line x1="94.1" y1="504.3" x2="94.1" y2="667.3" stroke="#ebebeb" stroke-width="0.9"/>
<line x1="125.2" y1="504.3" x2="125.2" y2="667.3" stroke="#ebebeb" stroke-width="0.9"/>
<line x1="156.2" y1="504.3" x2="156.2" y2="667.3" stroke="#ebebeb" stroke-width="0.9"/>
<defs><clipPath id="cD"><rect x="44.4" y="504.3" width="130.2" height="163"/></clipPath></defs>
<g clip-path="url(#cD)">
<polygon points="63,585.8 94.1,530.3 125.2,572.85 156.2,519.2 156.2,541.4 125.2,611.7 94.1,561.75 63,624.65" fill="#f29a55" fill-opacity="0.2"/>
<polygon points="63,511.8 94.1,513.65 125.2,554.35 156.2,511.8 156.2,515.5 125.2,595.05 94.1,534 63,511.8" fill="#e8645c" fill-opacity="0.2"/>
<line x1="44.4" y1="604.3" x2="174.6" y2="604.3" stroke="#333" stroke-width="0.7" stroke-dasharray="0.9 1.3"/>
<line x1="63" y1="585.8" x2="63" y2="624.65" stroke="#e98a42" stroke-width="1"/>
<line x1="94.1" y1="530.3" x2="94.1" y2="561.75" stroke="#e98a42" stroke-width="1"/>
<line x1="125.2" y1="572.85" x2="125.2" y2="611.7" stroke="#e98a42" stroke-width="1"/>
<line x1="156.2" y1="519.2" x2="156.2" y2="541.4" stroke="#e98a42" stroke-width="1"/>
<line x1="63" y1="511.8" x2="63" y2="511.8" stroke="#d84c50" stroke-width="1"/>
<line x1="94.1" y1="513.65" x2="94.1" y2="534" stroke="#d84c50" stroke-width="1"/>
<line x1="125.2" y1="554.35" x2="125.2" y2="595.05" stroke="#d84c50" stroke-width="1"/>
<line x1="156.2" y1="511.8" x2="156.2" y2="515.5" stroke="#d84c50" stroke-width="1"/>
<circle cx="63" cy="606.15" r="2.05" fill="#e98a42"/>
<circle cx="94.1" cy="545.1" r="2.05" fill="#e98a42"/>
<circle cx="125.2" cy="593.2" r="2.05" fill="#e98a42"/>
<circle cx="156.2" cy="530.3" r="2.05" fill="#e98a42"/>
<circle cx="63" cy="511.8" r="2.05" fill="#d84c50"/>
<circle cx="94.1" cy="522.9" r="2.05" fill="#d84c50"/>
<circle cx="125.2" cy="574.7" r="2.05" fill="#d84c50"/>
<circle cx="156.2" cy="513.65" r="2.05" fill="#d84c50"/>
<text x="69.3" y="514.65" font-size="6.9" text-anchor="start" font-weight="bold" fill="#c2454e" stroke="#c2454e" stroke-width="0.12">1</text>
<text x="74.1" y="523" font-size="5.4" text-anchor="middle" font-weight="normal" fill="#cf9fa2" stroke="#cf9fa2" stroke-width="0.2">(1-1)*</text>
<text x="68.7" y="608.65" font-size="6.9" text-anchor="start" font-weight="normal" fill="#f0b385" stroke="#f0b385" stroke-width="0.2">0.49</text>
<text x="76.6" y="616.5" font-size="5.4" text-anchor="middle" font-weight="normal" fill="#e0b895" stroke="#e0b895" stroke-width="0.2">(0.39-</text>
<text x="76.6" y="623.1" font-size="5.4" text-anchor="middle" font-weight="normal" fill="#e0b895" stroke="#e0b895" stroke-width="0.2">0.6)</text>
<text x="99.4" y="526.05" font-size="6.9" text-anchor="start" font-weight="bold" fill="#c2454e" stroke="#c2454e" stroke-width="0.12">0.94</text>
<text x="106.7" y="533.8" font-size="5.4" text-anchor="middle" font-weight="normal" fill="#cf9fa2" stroke="#cf9fa2" stroke-width="0.2">(0.88-</text>
<text x="106.7" y="540.2" font-size="5.4" text-anchor="middle" font-weight="normal" fill="#cf9fa2" stroke="#cf9fa2" stroke-width="0.2">0.99)*</text>
<text x="99.4" y="548.25" font-size="6.9" text-anchor="start" font-weight="bold" fill="#dc8240" stroke="#dc8240" stroke-width="0.12">0.82</text>
<text x="106.5" y="555.2" font-size="5.4" text-anchor="middle" font-weight="normal" fill="#e0b895" stroke="#e0b895" stroke-width="0.2">(0.72-</text>
<text x="106.5" y="562.1" font-size="5.4" text-anchor="middle" font-weight="normal" fill="#e0b895" stroke="#e0b895" stroke-width="0.2">0.9)*</text>
<text x="130.6" y="577.25" font-size="6.9" text-anchor="start" font-weight="bold" fill="#c2454e" stroke="#c2454e" stroke-width="0.12">0.66</text>
<text x="138.5" y="586.1" font-size="5.4" text-anchor="middle" font-weight="normal" fill="#cf9fa2" stroke="#cf9fa2" stroke-width="0.2">(0.55-</text>
<text x="138.5" y="592.1" font-size="5.4" text-anchor="middle" font-weight="normal" fill="#cf9fa2" stroke="#cf9fa2" stroke-width="0.2">0.77)*</text>
<text x="130" y="603.45" font-size="6.9" text-anchor="start" font-weight="normal" fill="#f0b385" stroke="#f0b385" stroke-width="0.2">0.56</text>
<text x="138" y="611.5" font-size="5.4" text-anchor="middle" font-weight="normal" fill="#e0b895" stroke="#e0b895" stroke-width="0.2">(0.46-</text>
<text x="138" y="618.4" font-size="5.4" text-anchor="middle" font-weight="normal" fill="#e0b895" stroke="#e0b895" stroke-width="0.2">0.67)</text>
<text x="160.2" y="515.75" font-size="6.9" text-anchor="start" font-weight="bold" fill="#c2454e" stroke="#c2454e" stroke-width="0.12">0.99</text>
<text x="166.7" y="523.8" font-size="5.4" text-anchor="middle" font-weight="normal" fill="#cf9fa2" stroke="#cf9fa2" stroke-width="0.2">(0.98-</text>
<text x="166.7" y="530.7" font-size="5.4" text-anchor="middle" font-weight="normal" fill="#cf9fa2" stroke="#cf9fa2" stroke-width="0.2">1)*</text>
<text x="160.2" y="540.45" font-size="6.9" text-anchor="start" font-weight="bold" fill="#dc8240" stroke="#dc8240" stroke-width="0.12">0.9</text>
<text x="165.7" y="548.6" font-size="5.4" text-anchor="middle" font-weight="normal" fill="#e0b895" stroke="#e0b895" stroke-width="0.2">(0.84-</text>
<text x="165.7" y="554.9" font-size="5.4" text-anchor="middle" font-weight="normal" fill="#e0b895" stroke="#e0b895" stroke-width="0.2">0.96)*</text>
</g>
<rect x="44.4" y="504.3" width="130.2" height="163" fill="none" stroke="#7a7a7a" stroke-width="0.9"/>
<line x1="42.8" y1="659.8" x2="44.4" y2="659.8" stroke="#555" stroke-width="0.7"/>
<text x="41.2" y="661.9" font-size="5.9" text-anchor="end" font-weight="normal" fill="#222" stroke="#222" stroke-width="0.2">0.2</text>
<line x1="42.8" y1="622.8" x2="44.4" y2="622.8" stroke="#555" stroke-width="0.7"/>
<text x="41.2" y="624.9" font-size="5.9" text-anchor="end" font-weight="normal" fill="#222" stroke="#222" stroke-width="0.2">0.4</text>
<line x1="42.8" y1="585.8" x2="44.4" y2="585.8" stroke="#555" stroke-width="0.7"/>
<text x="41.2" y="587.9" font-size="5.9" text-anchor="end" font-weight="normal" fill="#222" stroke="#222" stroke-width="0.2">0.6</text>
<line x1="42.8" y1="548.8" x2="44.4" y2="548.8" stroke="#555" stroke-width="0.7"/>
<text x="41.2" y="550.9" font-size="5.9" text-anchor="end" font-weight="normal" fill="#222" stroke="#222" stroke-width="0.2">0.8</text>
<line x1="42.8" y1="511.8" x2="44.4" y2="511.8" stroke="#555" stroke-width="0.7"/>
<text x="41.2" y="513.9" font-size="5.9" text-anchor="end" font-weight="normal" fill="#222" stroke="#222" stroke-width="0.2">1.0</text>
<text x="27.2" y="586.5" font-size="8.8" text-anchor="middle" font-weight="normal" fill="#111" transform="rotate(-90 27.2 586.5)" stroke="#111" stroke-width="0.2">AUC</text>
<line x1="63" y1="667.3" x2="63" y2="669.1" stroke="#555" stroke-width="0.7"/>
<text x="65" y="673.8" font-size="7.25" text-anchor="end" font-weight="normal" fill="#222" transform="rotate(-60 65 673.8)" stroke="#222" stroke-width="0.2">Epithelial hypoM</text>
<line x1="94.1" y1="667.3" x2="94.1" y2="669.1" stroke="#555" stroke-width="0.7"/>
<text x="96.1" y="673.8" font-size="7.25" text-anchor="end" font-weight="normal" fill="#222" transform="rotate(-60 96.1 673.8)" stroke="#222" stroke-width="0.2">Immune hypoM</text>
<line x1="125.2" y1="667.3" x2="125.2" y2="669.1" stroke="#555" stroke-width="0.7"/>
<text x="127.2" y="673.8" font-size="7.25" text-anchor="end" font-weight="normal" fill="#222" transform="rotate(-60 127.2 673.8)" stroke="#222" stroke-width="0.2">Distal epithelial hyperM</text>
<line x1="156.2" y1="667.3" x2="156.2" y2="669.1" stroke="#555" stroke-width="0.7"/>
<text x="158.2" y="673.8" font-size="7.25" text-anchor="end" font-weight="normal" fill="#222" transform="rotate(-60 158.2 673.8)" stroke="#222" stroke-width="0.2">Proximal epithelial hyperM</text>
<text x="44" y="499" font-size="8.8" text-anchor="start" font-weight="bold" fill="#3f5f78" stroke="#3f5f78" stroke-width="0.12">Buccal samples</text>
<line x1="218.2" y1="642.65" x2="348.9" y2="642.65" stroke="#f4f4f4" stroke-width="0.8"/>
<line x1="218.2" y1="605.55" x2="348.9" y2="605.55" stroke="#f4f4f4" stroke-width="0.8"/>
<line x1="218.2" y1="568.45" x2="348.9" y2="568.45" stroke="#f4f4f4" stroke-width="0.8"/>
<line x1="218.2" y1="531.35" x2="348.9" y2="531.35" stroke="#f4f4f4" stroke-width="0.8"/>
<line x1="218.2" y1="661.2" x2="348.9" y2="661.2" stroke="#ebebeb" stroke-width="0.9"/>
<line x1="218.2" y1="624.1" x2="348.9" y2="624.1" stroke="#ebebeb" stroke-width="0.9"/>
<line x1="218.2" y1="587" x2="348.9" y2="587" stroke="#ebebeb" stroke-width="0.9"/>
<line x1="218.2" y1="549.9" x2="348.9" y2="549.9" stroke="#ebebeb" stroke-width="0.9"/>
<line x1="218.2" y1="512.8" x2="348.9" y2="512.8" stroke="#ebebeb" stroke-width="0.9"/>
<line x1="237.2" y1="505.8" x2="237.2" y2="668.3" stroke="#ebebeb" stroke-width="0.9"/>
<line x1="268.1" y1="505.8" x2="268.1" y2="668.3" stroke="#ebebeb" stroke-width="0.9"/>
<line x1="299.2" y1="505.8" x2="299.2" y2="668.3" stroke="#ebebeb" stroke-width="0.9"/>
<line x1="330.3" y1="505.8" x2="330.3" y2="668.3" stroke="#ebebeb" stroke-width="0.9"/>
<defs><clipPath id="cE"><rect x="218.2" y="505.8" width="130.7" height="162.5"/></clipPath></defs>
<g clip-path="url(#cE)">
<polygon points="237.2,583.29 268.1,562.88 299.2,587 330.3,559.17 330.3,596.27 299.2,625.95 268.1,601.84 237.2,622.25" fill="#f29a55" fill-opacity="0.2"/>
<polygon points="237.2,564.74 268.1,516.51 299.2,561.03 330.3,572.16 330.3,618.53 299.2,605.55 268.1,540.62 237.2,609.26" fill="#e8645c" fill-opacity="0.2"/>
<line x1="218.2" y1="605.55" x2="348.9" y2="605.55" stroke="#333" stroke-width="0.7" stroke-dasharray="0.9 1.3"/>
<line x1="237.2" y1="583.29" x2="237.2" y2="622.25" stroke="#e98a42" stroke-width="1"/>
<line x1="268.1" y1="562.88" x2="268.1" y2="601.84" stroke="#e98a42" stroke-width="1"/>
<line x1="299.2" y1="587" x2="299.2" y2="625.95" stroke="#e98a42" stroke-width="1"/>
<line x1="330.3" y1="559.17" x2="330.3" y2="596.27" stroke="#e98a42" stroke-width="1"/>
<line x1="237.2" y1="564.74" x2="237.2" y2="609.26" stroke="#d84c50" stroke-width="1"/>
<line x1="268.1" y1="516.51" x2="268.1" y2="540.62" stroke="#d84c50" stroke-width="1"/>
<line x1="299.2" y1="561.03" x2="299.2" y2="605.55" stroke="#d84c50" stroke-width="1"/>
<line x1="330.3" y1="572.16" x2="330.3" y2="618.53" stroke="#d84c50" stroke-width="1"/>
<circle cx="237.2" cy="603.69" r="2.05" fill="#e98a42"/>
<circle cx="268.1" cy="581.43" r="2.05" fill="#e98a42"/>
<circle cx="299.2" cy="605.55" r="2.05" fill="#e98a42"/>
<circle cx="330.3" cy="577.72" r="2.05" fill="#e98a42"/>
<circle cx="237.2" cy="587" r="2.05" fill="#d84c50"/>
<circle cx="268.1" cy="529.49" r="2.05" fill="#d84c50"/>
<circle cx="299.2" cy="583.29" r="2.05" fill="#d84c50"/>
<circle cx="330.3" cy="594.42" r="2.05" fill="#d84c50"/>
<text x="242.1" y="590.45" font-size="6.9" text-anchor="start" font-weight="normal" fill="#e3959b" stroke="#e3959b" stroke-width="0.2">0.6</text>
<text x="248.5" y="597.2" font-size="5.4" text-anchor="middle" font-weight="normal" fill="#cf9fa2" stroke="#cf9fa2" stroke-width="0.2">(0.48-</text>
<text x="248.5" y="604.1" font-size="5.4" text-anchor="middle" font-weight="normal" fill="#cf9fa2" stroke="#cf9fa2" stroke-width="0.2">0.72)</text>
<text x="242.1" y="616.45" font-size="6.9" text-anchor="start" font-weight="normal" fill="#f0b385" stroke="#f0b385" stroke-width="0.2">0.51</text>
<text x="248.2" y="623" font-size="5.4" text-anchor="middle" font-weight="normal" fill="#e0b895" stroke="#e0b895" stroke-width="0.2">(0.41-</text>
<text x="248.2" y="630.3" font-size="5.4" text-anchor="middle" font-weight="normal" fill="#e0b895" stroke="#e0b895" stroke-width="0.2">0.62)</text>
<text x="272.6" y="531.35" font-size="6.9" text-anchor="start" font-weight="bold" fill="#c2454e" stroke="#c2454e" stroke-width="0.12">0.91</text>
<text x="279.8" y="539.7" font-size="5.4" text-anchor="middle" font-weight="normal" fill="#cf9fa2" stroke="#cf9fa2" stroke-width="0.2">(0.85-</text>
<text x="279.8" y="546.3" font-size="5.4" text-anchor="middle" font-weight="normal" fill="#cf9fa2" stroke="#cf9fa2" stroke-width="0.2">0.98)*</text>
<text x="272.6" y="584.75" font-size="6.9" text-anchor="start" font-weight="bold" fill="#dc8240" stroke="#dc8240" stroke-width="0.12">0.63</text>
<text x="279.8" y="593.6" font-size="5.4" text-anchor="middle" font-weight="normal" fill="#e0b895" stroke="#e0b895" stroke-width="0.2">(0.52-</text>
<text x="279.8" y="599.9" font-size="5.4" text-anchor="middle" font-weight="normal" fill="#e0b895" stroke="#e0b895" stroke-width="0.2">0.73)*</text>
<text x="303.8" y="586.65" font-size="6.9" text-anchor="start" font-weight="normal" fill="#e3959b" stroke="#e3959b" stroke-width="0.2">0.62</text>
<text x="310.7" y="593.3" font-size="5.4" text-anchor="middle" font-weight="normal" fill="#cf9fa2" stroke="#cf9fa2" stroke-width="0.2">(0.5-</text>
<text x="310.7" y="599.9" font-size="5.4" text-anchor="middle" font-weight="normal" fill="#cf9fa2" stroke="#cf9fa2" stroke-width="0.2">0.74)</text>
<text x="305" y="608.45" font-size="6.9" text-anchor="start" font-weight="normal" fill="#f0b385" stroke="#f0b385" stroke-width="0.2">0.5</text>
<text x="311" y="617" font-size="5.4" text-anchor="middle" font-weight="normal" fill="#e0b895" stroke="#e0b895" stroke-width="0.2">(0.39-</text>
<text x="311" y="624.2" font-size="5.4" text-anchor="middle" font-weight="normal" fill="#e0b895" stroke="#e0b895" stroke-width="0.2">0.6)</text>
<text x="333.8" y="603.05" font-size="6.9" text-anchor="start" font-weight="normal" fill="#e3959b" stroke="#e3959b" stroke-width="0.2">0.56</text>
<text x="339.9" y="612.1" font-size="5.4" text-anchor="middle" font-weight="normal" fill="#cf9fa2" stroke="#cf9fa2" stroke-width="0.2">(0.43-</text>
<text x="339.9" y="618.4" font-size="5.4" text-anchor="middle" font-weight="normal" fill="#cf9fa2" stroke="#cf9fa2" stroke-width="0.2">0.68)</text>
<text x="333.8" y="579.55" font-size="6.9" text-anchor="start" font-weight="bold" fill="#dc8240" stroke="#dc8240" stroke-width="0.12">0.65</text>
<text x="338.8" y="586.7" font-size="5.4" text-anchor="middle" font-weight="normal" fill="#e0b895" stroke="#e0b895" stroke-width="0.2">(0.55-</text>
<text x="338.8" y="593" font-size="5.4" text-anchor="middle" font-weight="normal" fill="#e0b895" stroke="#e0b895" stroke-width="0.2">0.75)*</text>
</g>
<rect x="218.2" y="505.8" width="130.7" height="162.5" fill="none" stroke="#7a7a7a" stroke-width="0.9"/>
<line x1="216.6" y1="661.2" x2="218.2" y2="661.2" stroke="#555" stroke-width="0.7"/>
<text x="215" y="663.3" font-size="5.9" text-anchor="end" font-weight="normal" fill="#222" stroke="#222" stroke-width="0.2">0.2</text>
<line x1="216.6" y1="624.1" x2="218.2" y2="624.1" stroke="#555" stroke-width="0.7"/>
<text x="215" y="626.2" font-size="5.9" text-anchor="end" font-weight="normal" fill="#222" stroke="#222" stroke-width="0.2">0.4</text>
<line x1="216.6" y1="587" x2="218.2" y2="587" stroke="#555" stroke-width="0.7"/>
<text x="215" y="589.1" font-size="5.9" text-anchor="end" font-weight="normal" fill="#222" stroke="#222" stroke-width="0.2">0.6</text>
<line x1="216.6" y1="549.9" x2="218.2" y2="549.9" stroke="#555" stroke-width="0.7"/>
<text x="215" y="552" font-size="5.9" text-anchor="end" font-weight="normal" fill="#222" stroke="#222" stroke-width="0.2">0.8</text>
<line x1="216.6" y1="512.8" x2="218.2" y2="512.8" stroke="#555" stroke-width="0.7"/>
<text x="215" y="514.9" font-size="5.9" text-anchor="end" font-weight="normal" fill="#222" stroke="#222" stroke-width="0.2">1.0</text>
<text x="201" y="587.75" font-size="8.8" text-anchor="middle" font-weight="normal" fill="#111" transform="rotate(-90 201 587.75)" stroke="#111" stroke-width="0.2">AUC</text>
<line x1="237.2" y1="668.3" x2="237.2" y2="670.1" stroke="#555" stroke-width="0.7"/>
<text x="239.2" y="674.8" font-size="7.25" text-anchor="end" font-weight="normal" fill="#222" transform="rotate(-60 239.2 674.8)" stroke="#222" stroke-width="0.2">Epithelial hypoM</text>
<line x1="268.1" y1="668.3" x2="268.1" y2="670.1" stroke="#555" stroke-width="0.7"/>
<text x="270.1" y="674.8" font-size="7.25" text-anchor="end" font-weight="normal" fill="#222" transform="rotate(-60 270.1 674.8)" stroke="#222" stroke-width="0.2">Immune hypoM</text>
<line x1="299.2" y1="668.3" x2="299.2" y2="670.1" stroke="#555" stroke-width="0.7"/>
<text x="301.2" y="674.8" font-size="7.25" text-anchor="end" font-weight="normal" fill="#222" transform="rotate(-60 301.2 674.8)" stroke="#222" stroke-width="0.2">Distal epithelial hyperM</text>
<line x1="330.3" y1="668.3" x2="330.3" y2="670.1" stroke="#555" stroke-width="0.7"/>
<text x="332.3" y="674.8" font-size="7.25" text-anchor="end" font-weight="normal" fill="#222" transform="rotate(-60 332.3 674.8)" stroke="#222" stroke-width="0.2">Proximal epithelial hyperM</text>
<text x="217.8" y="499" font-size="8.8" text-anchor="start" font-weight="bold" fill="#b9ba82" stroke="#b9ba82" stroke-width="0.12">Blood samples</text>
<line x1="384.6" y1="641.65" x2="514.8" y2="641.65" stroke="#f4f4f4" stroke-width="0.8"/>
<line x1="384.6" y1="604.75" x2="514.8" y2="604.75" stroke="#f4f4f4" stroke-width="0.8"/>
<line x1="384.6" y1="567.85" x2="514.8" y2="567.85" stroke="#f4f4f4" stroke-width="0.8"/>
<line x1="384.6" y1="530.95" x2="514.8" y2="530.95" stroke="#f4f4f4" stroke-width="0.8"/>
<line x1="384.6" y1="660.1" x2="514.8" y2="660.1" stroke="#ebebeb" stroke-width="0.9"/>
<line x1="384.6" y1="623.2" x2="514.8" y2="623.2" stroke="#ebebeb" stroke-width="0.9"/>
<line x1="384.6" y1="586.3" x2="514.8" y2="586.3" stroke="#ebebeb" stroke-width="0.9"/>
<line x1="384.6" y1="549.4" x2="514.8" y2="549.4" stroke="#ebebeb" stroke-width="0.9"/>
<line x1="384.6" y1="512.5" x2="514.8" y2="512.5" stroke="#ebebeb" stroke-width="0.9"/>
<line x1="403.5" y1="505.2" x2="403.5" y2="668" stroke="#ebebeb" stroke-width="0.9"/>
<line x1="434.5" y1="505.2" x2="434.5" y2="668" stroke="#ebebeb" stroke-width="0.9"/>
<line x1="465.5" y1="505.2" x2="465.5" y2="668" stroke="#ebebeb" stroke-width="0.9"/>
<line x1="496.6" y1="505.2" x2="496.6" y2="668" stroke="#ebebeb" stroke-width="0.9"/>
<defs><clipPath id="cF"><rect x="384.6" y="505.2" width="130.2" height="162.8"/></clipPath></defs>
<g clip-path="url(#cF)">
<polygon points="403.5,545.71 434.5,542.02 465.5,573.38 496.6,586.3 496.6,608.44 465.5,595.52 434.5,558.62 403.5,564.16" fill="#f29a55" fill-opacity="0.2"/>
<polygon points="403.5,518.03 434.5,512.5 465.5,534.64 496.6,575.23 496.6,604.75 465.5,556.78 434.5,521.73 403.5,529.11" fill="#e8645c" fill-opacity="0.2"/>
<line x1="384.6" y1="604.75" x2="514.8" y2="604.75" stroke="#333" stroke-width="0.7" stroke-dasharray="0.9 1.3"/>
<line x1="403.5" y1="545.71" x2="403.5" y2="564.16" stroke="#e98a42" stroke-width="1"/>
<line x1="434.5" y1="542.02" x2="434.5" y2="558.62" stroke="#e98a42" stroke-width="1"/>
<line x1="465.5" y1="573.38" x2="465.5" y2="595.52" stroke="#e98a42" stroke-width="1"/>
<line x1="496.6" y1="586.3" x2="496.6" y2="608.44" stroke="#e98a42" stroke-width="1"/>
<line x1="403.5" y1="518.03" x2="403.5" y2="529.11" stroke="#d84c50" stroke-width="1"/>
<line x1="434.5" y1="512.5" x2="434.5" y2="521.73" stroke="#d84c50" stroke-width="1"/>
<line x1="465.5" y1="534.64" x2="465.5" y2="556.78" stroke="#d84c50" stroke-width="1"/>
<line x1="496.6" y1="575.23" x2="496.6" y2="604.75" stroke="#d84c50" stroke-width="1"/>
<circle cx="403.5" cy="554.93" r="2.05" fill="#e98a42"/>
<circle cx="434.5" cy="549.4" r="2.05" fill="#e98a42"/>
<circle cx="465.5" cy="584.46" r="2.05" fill="#e98a42"/>
<circle cx="496.6" cy="597.37" r="2.05" fill="#e98a42"/>
<circle cx="403.5" cy="523.57" r="2.05" fill="#d84c50"/>
<circle cx="434.5" cy="518.03" r="2.05" fill="#d84c50"/>
<circle cx="465.5" cy="545.71" r="2.05" fill="#d84c50"/>
<circle cx="496.6" cy="589.99" r="2.05" fill="#d84c50"/>
<text x="407.7" y="525.95" font-size="6.9" text-anchor="start" font-weight="bold" fill="#c2454e" stroke="#c2454e" stroke-width="0.12">0.94</text>
<text x="415.2" y="532.9" font-size="5.4" text-anchor="middle" font-weight="normal" fill="#cf9fa2" stroke="#cf9fa2" stroke-width="0.2">(0.91-</text>
<text x="415.2" y="539.4" font-size="5.4" text-anchor="middle" font-weight="normal" fill="#cf9fa2" stroke="#cf9fa2" stroke-width="0.2">0.97)*</text>
<text x="407.1" y="557.65" font-size="6.9" text-anchor="start" font-weight="bold" fill="#dc8240" stroke="#dc8240" stroke-width="0.12">0.77</text>
<text x="414.6" y="566.3" font-size="5.4" text-anchor="middle" font-weight="normal" fill="#e0b895" stroke="#e0b895" stroke-width="0.2">(0.72-</text>
<text x="414.6" y="572.9" font-size="5.4" text-anchor="middle" font-weight="normal" fill="#e0b895" stroke="#e0b895" stroke-width="0.2">0.82)*</text>
<text x="438.5" y="519.65" font-size="6.9" text-anchor="start" font-weight="bold" fill="#c2454e" stroke="#c2454e" stroke-width="0.12">0.97</text>
<text x="444.3" y="526.7" font-size="5.4" text-anchor="middle" font-weight="normal" fill="#cf9fa2" stroke="#cf9fa2" stroke-width="0.2">(0.95-</text>
<text x="444.3" y="533.2" font-size="5.4" text-anchor="middle" font-weight="normal" fill="#cf9fa2" stroke="#cf9fa2" stroke-width="0.2">1)*</text>
<text x="438.3" y="552.45" font-size="6.9" text-anchor="start" font-weight="bold" fill="#dc8240" stroke="#dc8240" stroke-width="0.12">0.8</text>
<text x="444.6" y="561.1" font-size="5.4" text-anchor="middle" font-weight="normal" fill="#e0b895" stroke="#e0b895" stroke-width="0.2">(0.75-</text>
<text x="444.6" y="568" font-size="5.4" text-anchor="middle" font-weight="normal" fill="#e0b895" stroke="#e0b895" stroke-width="0.2">0.84)*</text>
<text x="469.9" y="548.15" font-size="6.9" text-anchor="start" font-weight="bold" fill="#c2454e" stroke="#c2454e" stroke-width="0.12">0.82</text>
<text x="476.7" y="556.2" font-size="5.4" text-anchor="middle" font-weight="normal" fill="#cf9fa2" stroke="#cf9fa2" stroke-width="0.2">(0.76-</text>
<text x="476.7" y="562.7" font-size="5.4" text-anchor="middle" font-weight="normal" fill="#cf9fa2" stroke="#cf9fa2" stroke-width="0.2">0.88)*</text>
<text x="469.8" y="586.85" font-size="6.9" text-anchor="start" font-weight="bold" fill="#dc8240" stroke="#dc8240" stroke-width="0.12">0.61</text>
<text x="476.5" y="594.4" font-size="5.4" text-anchor="middle" font-weight="normal" fill="#e0b895" stroke="#e0b895" stroke-width="0.2">(0.55-</text>
<text x="476.5" y="600.7" font-size="5.4" text-anchor="middle" font-weight="normal" fill="#e0b895" stroke="#e0b895" stroke-width="0.2">0.67)*</text>
<text x="501" y="592.65" font-size="6.9" text-anchor="start" font-weight="normal" fill="#e3959b" stroke="#e3959b" stroke-width="0.2">0.58</text>
<text x="505.9" y="600.2" font-size="5.4" text-anchor="middle" font-weight="normal" fill="#cf9fa2" stroke="#cf9fa2" stroke-width="0.2">(0.5-</text>
<text x="505.9" y="606.3" font-size="5.4" text-anchor="middle" font-weight="normal" fill="#cf9fa2" stroke="#cf9fa2" stroke-width="0.2">0.66)</text>
<text x="501" y="617.45" font-size="6.9" text-anchor="start" font-weight="normal" fill="#f0b385" stroke="#f0b385" stroke-width="0.2">0.54</text>
<text x="506.4" y="625.5" font-size="5.4" text-anchor="middle" font-weight="normal" fill="#e0b895" stroke="#e0b895" stroke-width="0.2">(0.48-</text>
<text x="506.4" y="631.9" font-size="5.4" text-anchor="middle" font-weight="normal" fill="#e0b895" stroke="#e0b895" stroke-width="0.2">0.6)</text>
</g>
<rect x="384.6" y="505.2" width="130.2" height="162.8" fill="none" stroke="#7a7a7a" stroke-width="0.9"/>
<line x1="383" y1="660.1" x2="384.6" y2="660.1" stroke="#555" stroke-width="0.7"/>
<text x="381.4" y="662.2" font-size="5.9" text-anchor="end" font-weight="normal" fill="#222" stroke="#222" stroke-width="0.2">0.2</text>
<line x1="383" y1="623.2" x2="384.6" y2="623.2" stroke="#555" stroke-width="0.7"/>
<text x="381.4" y="625.3" font-size="5.9" text-anchor="end" font-weight="normal" fill="#222" stroke="#222" stroke-width="0.2">0.4</text>
<line x1="383" y1="586.3" x2="384.6" y2="586.3" stroke="#555" stroke-width="0.7"/>
<text x="381.4" y="588.4" font-size="5.9" text-anchor="end" font-weight="normal" fill="#222" stroke="#222" stroke-width="0.2">0.6</text>
<line x1="383" y1="549.4" x2="384.6" y2="549.4" stroke="#555" stroke-width="0.7"/>
<text x="381.4" y="551.5" font-size="5.9" text-anchor="end" font-weight="normal" fill="#222" stroke="#222" stroke-width="0.2">0.8</text>
<line x1="383" y1="512.5" x2="384.6" y2="512.5" stroke="#555" stroke-width="0.7"/>
<text x="381.4" y="514.6" font-size="5.9" text-anchor="end" font-weight="normal" fill="#222" stroke="#222" stroke-width="0.2">1.0</text>
<text x="367.4" y="587.3" font-size="8.8" text-anchor="middle" font-weight="normal" fill="#111" transform="rotate(-90 367.4 587.3)" stroke="#111" stroke-width="0.2">AUC</text>
<line x1="403.5" y1="668" x2="403.5" y2="669.8" stroke="#555" stroke-width="0.7"/>
<text x="405.5" y="674.5" font-size="7.25" text-anchor="end" font-weight="normal" fill="#222" transform="rotate(-60 405.5 674.5)" stroke="#222" stroke-width="0.2">Epithelial hypoM</text>
<line x1="434.5" y1="668" x2="434.5" y2="669.8" stroke="#555" stroke-width="0.7"/>
<text x="436.5" y="674.5" font-size="7.25" text-anchor="end" font-weight="normal" fill="#222" transform="rotate(-60 436.5 674.5)" stroke="#222" stroke-width="0.2">Immune hypoM</text>
<line x1="465.5" y1="668" x2="465.5" y2="669.8" stroke="#555" stroke-width="0.7"/>
<text x="467.5" y="674.5" font-size="7.25" text-anchor="end" font-weight="normal" fill="#222" transform="rotate(-60 467.5 674.5)" stroke="#222" stroke-width="0.2">Distal epithelial hyperM</text>
<line x1="496.6" y1="668" x2="496.6" y2="669.8" stroke="#555" stroke-width="0.7"/>
<text x="498.6" y="674.5" font-size="7.25" text-anchor="end" font-weight="normal" fill="#222" transform="rotate(-60 498.6 674.5)" stroke="#222" stroke-width="0.2">Proximal epithelial hyperM</text>
<text x="384.2" y="499" font-size="8.8" text-anchor="start" font-weight="bold" fill="#b9ba82" stroke="#b9ba82" stroke-width="0.12">Cervical samples</text>
<rect x="43.8" y="474" width="15" height="13.6" fill="#fde8da" stroke="none" stroke-width="1"/>
<line x1="45.6" y1="481" x2="57.2" y2="481" stroke="#e98a42" stroke-width="1"/>
<circle cx="51.4" cy="481" r="2.7" fill="#e98a42"/>
<text x="64.9" y="483.7" font-size="7.6" text-anchor="start" font-weight="normal" fill="#222" stroke="#222" stroke-width="0.2">Ex-smoker</text>
<rect x="106.9" y="474" width="15" height="13.6" fill="#fadfdb" stroke="none" stroke-width="1"/>
<line x1="108.7" y1="481" x2="120.3" y2="481" stroke="#de5a50" stroke-width="1"/>
<circle cx="114.5" cy="481" r="2.7" fill="#de5a50"/>
<text x="126.5" y="483.7" font-size="7.6" text-anchor="start" font-weight="normal" fill="#222" stroke="#222" stroke-width="0.2">Smoker</text>
</g>
</svg>
</body></html>
